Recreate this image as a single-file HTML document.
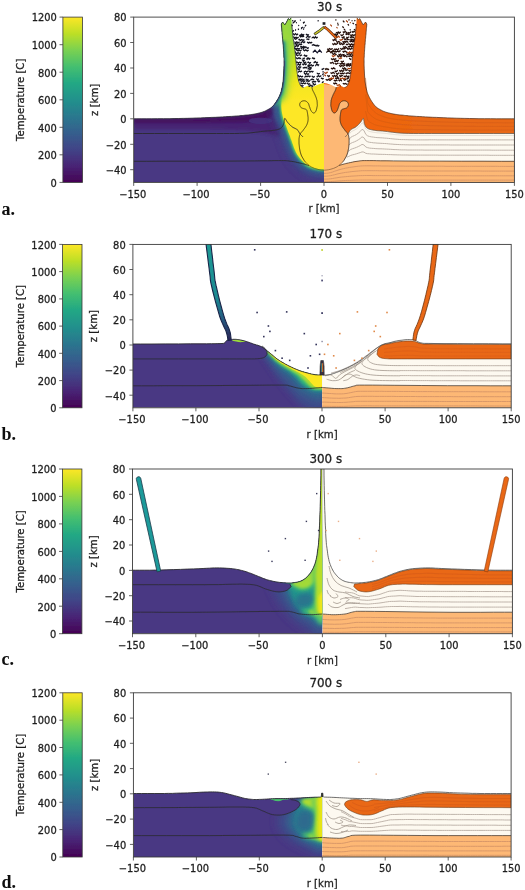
<!DOCTYPE html>
<html lang="en"><head><meta charset="utf-8"><title>Impact simulation: temperature and material, 30 s to 700 s</title>
<style>
html,body{margin:0;padding:0;background:#fff}
svg{display:block}
.tk{font-family:"DejaVu Sans","Liberation Sans",sans-serif;font-size:9.9px;fill:#1c1c1c;stroke:#222;stroke-width:0.28px}
.tt{font-family:"DejaVu Sans","Liberation Sans",sans-serif;font-size:11.9px;fill:#1c1c1c;stroke:#222;stroke-width:0.28px}
.al{font-size:10.15px}
.lb{font-family:"Liberation Serif","DejaVu Serif",serif;font-weight:bold;font-size:18px;fill:#111}
</style></head><body>
<svg width="525" height="890" viewBox="0 0 525 890">
<defs>
<filter id="b05" filterUnits="userSpaceOnUse" x="0" y="0" width="525" height="890"><feGaussianBlur stdDeviation="0.5"/></filter>
<filter id="b1" filterUnits="userSpaceOnUse" x="0" y="0" width="525" height="890"><feGaussianBlur stdDeviation="1"/></filter>
<filter id="b15" filterUnits="userSpaceOnUse" x="0" y="0" width="525" height="890"><feGaussianBlur stdDeviation="1.5"/></filter>
<filter id="b2" filterUnits="userSpaceOnUse" x="0" y="0" width="525" height="890"><feGaussianBlur stdDeviation="2"/></filter>
<filter id="b3" filterUnits="userSpaceOnUse" x="0" y="0" width="525" height="890"><feGaussianBlur stdDeviation="3"/></filter>
<filter id="b4" filterUnits="userSpaceOnUse" x="0" y="0" width="525" height="890"><feGaussianBlur stdDeviation="4"/></filter>
<filter id="b6" filterUnits="userSpaceOnUse" x="0" y="0" width="525" height="890"><feGaussianBlur stdDeviation="6"/></filter>
<filter id="b8" filterUnits="userSpaceOnUse" x="0" y="0" width="525" height="890"><feGaussianBlur stdDeviation="8"/></filter>
<clipPath id="sAL"><path d="M324 182.4 L133.7 182.4 L133.7 118.8 L136.9 118.8 L141.1 118.8 L146.2 118.8 L151.8 118.8 L157.6 118.7 L163.5 118.7 L169.1 118.7 L174.1 118.6 L178.7 118.5 L183.2 118.4 L187.7 118.3 L192 118.2 L196.2 118 L200.3 117.9 L204.3 117.7 L208.1 117.6 L211.8 117.4 L215.5 117.3 L219.1 117.1 L222.5 116.9 L225.7 116.7 L228.8 116.5 L231.6 116.4 L234.1 116.2 L236.3 116 L238.2 115.9 L239.8 115.8 L241.2 115.6 L242.5 115.5 L243.7 115.4 L244.9 115.2 L246.1 115.1 L247.3 115 L248.4 114.9 L249.4 114.8 L250.3 114.7 L251.3 114.5 L252.2 114.4 L253.1 114.3 L254.1 114.1 L255.1 113.9 L256.2 113.7 L257.2 113.5 L258.3 113.2 L259.3 113 L260.3 112.7 L261.2 112.5 L262.1 112.2 L262.9 111.9 L263.7 111.6 L264.4 111.4 L265.1 111.1 L265.7 110.8 L266.4 110.4 L267 110.1 L267.6 109.8 L268.2 109.5 L268.8 109.1 L269.4 108.8 L269.9 108.4 L270.5 108.1 L271 107.7 L271.5 107.3 L272 106.9 L272.5 106.5 L272.9 106 L273.4 105.5 L273.8 105 L274.2 104.5 L274.6 104 L274.9 103.5 L275.3 103 L275.6 102.5 L276 102 L276.3 101.6 L276.6 101.1 L276.9 100.6 L277.2 100.1 L277.4 99.7 L277.7 99.2 L278 98.7 L278.2 98.3 L278.5 97.8 L278.7 97.4 L278.9 96.9 L279.2 96.4 L279.4 96 L279.6 95.5 L279.8 95 L280 94.6 L280.2 94.2 L280.4 93.8 L280.5 93.3 L280.7 92.8 L280.9 92.3 L281.1 91.6 L281.3 90.8 L281.5 90 L281.7 89 L281.9 88.1 L282.2 87 L282.4 86 L282.5 85 L282.7 84 L282.8 83 L283 82 L283.1 81 L283.2 80 L283.3 79 L283.3 78 L283.4 77 L283.5 76 L283.6 75 L283.6 74 L283.7 73 L283.7 72 L283.8 71 L283.8 70 L283.9 69 L283.9 68 L283.9 67 L284 66 L284 65 L284 64.1 L284 63.1 L284 62 L284 60.9 L284 59.7 L284 58.4 L283.9 57.1 L283.8 55.7 L283.8 54.2 L283.7 52.7 L283.6 51.2 L283.5 49.7 L283.4 48.3 L283.3 46.9 L283.2 45.4 L283 44 L282.9 42.5 L282.8 41.1 L282.7 39.6 L282.5 38.3 L282.4 36.9 L282.3 35.5 L282.1 34.1 L282 32.6 L281.9 31.2 L281.8 29.9 L281.7 28.7 L281.6 27.8 L281.5 27 L281.3 24 L282.6 22 L284.9 24.9 L286.6 22 L288.3 18.6 L289.6 19.8 L291.1 18 L291.8 16 L324 16Z"/></clipPath>
<clipPath id="sAR"><path d="M324 182.4 L514.4 182.4 L514.4 118.8 L511.2 118.8 L507 118.8 L501.9 118.8 L496.3 118.8 L490.5 118.7 L484.6 118.7 L479 118.7 L474 118.6 L469.4 118.5 L464.9 118.4 L460.4 118.3 L456.1 118.2 L451.9 118 L447.8 117.9 L443.8 117.7 L440 117.6 L436.3 117.4 L432.6 117.3 L429 117.1 L425.6 116.9 L422.4 116.7 L419.3 116.5 L416.5 116.4 L414 116.2 L411.8 116 L409.9 115.9 L408.3 115.8 L406.9 115.6 L405.6 115.5 L404.4 115.4 L403.2 115.2 L402 115.1 L400.8 115 L399.7 114.9 L398.7 114.8 L397.8 114.7 L396.8 114.5 L395.9 114.4 L395 114.3 L394 114.1 L393 113.9 L391.9 113.7 L390.9 113.5 L389.8 113.2 L388.8 113 L387.8 112.7 L386.9 112.5 L386 112.2 L385.2 111.9 L384.4 111.6 L383.7 111.4 L383 111.1 L382.4 110.8 L381.7 110.4 L381.1 110.1 L380.5 109.8 L379.9 109.5 L379.3 109.1 L378.7 108.8 L378.2 108.4 L377.6 108.1 L377.1 107.7 L376.6 107.3 L376.1 106.9 L375.6 106.5 L375.2 106 L374.7 105.5 L374.3 105 L373.9 104.5 L373.5 104 L373.2 103.5 L372.8 103 L372.5 102.5 L372.1 102 L371.8 101.6 L371.5 101.1 L371.2 100.6 L370.9 100.1 L370.7 99.7 L370.4 99.2 L370.1 98.7 L369.9 98.3 L369.6 97.8 L369.4 97.4 L369.2 96.9 L368.9 96.4 L368.7 96 L368.5 95.5 L368.3 95 L368.1 94.6 L367.9 94.2 L367.7 93.8 L367.6 93.3 L367.4 92.8 L367.2 92.3 L367 91.6 L366.8 90.8 L366.6 90 L366.4 89 L366.2 88.1 L365.9 87 L365.7 86 L365.6 85 L365.4 84 L365.3 83 L365.1 82 L365 81 L364.9 80 L364.8 79 L364.8 78 L364.7 77 L364.6 76 L364.5 75 L364.5 74 L364.4 73 L364.4 72 L364.3 71 L364.3 70 L364.2 69 L364.2 68 L364.2 67 L364.1 66 L364.1 65 L364.1 64.1 L364.1 63.1 L364.1 62 L364.1 60.9 L364.1 59.7 L364.1 58.4 L364.2 57.1 L364.3 55.7 L364.3 54.2 L364.4 52.7 L364.5 51.2 L364.6 49.7 L364.7 48.3 L364.8 46.9 L364.9 45.4 L365.1 44 L365.2 42.5 L365.3 41.1 L365.4 39.6 L365.6 38.3 L365.7 36.9 L365.8 35.5 L366 34.1 L366.1 32.6 L366.2 31.2 L366.3 29.9 L366.4 28.7 L366.5 27.8 L366.6 27 L366.8 24 L365.5 22 L363.2 24.9 L361.5 22 L359.8 18.6 L358.5 19.8 L357 18 L356.3 16 L324 16Z"/></clipPath>
<linearGradient id="orA" gradientUnits="userSpaceOnUse" x1="372" y1="0" x2="430" y2="0"><stop offset="0" stop-color="#f06408"/><stop offset="1" stop-color="#e86816"/></linearGradient>
<linearGradient id="plA" gradientUnits="userSpaceOnUse" x1="0" y1="17" x2="0" y2="100"><stop offset="0" stop-color="#74d055"/><stop offset="0.3" stop-color="#9bd93c"/><stop offset="0.55" stop-color="#cde11d"/><stop offset="0.8" stop-color="#f4e61e"/><stop offset="1" stop-color="#fde725"/></linearGradient>
<clipPath id="sBL"><path d="M322.1 407.8 L132.9 407.8 L132.9 344 L140.7 344 L152 344 L165.1 343.9 L178.5 343.9 L190.7 343.8 L200 343.8 L206.5 343.8 L211.4 343.7 L215 343.7 L217.8 343.6 L220 343.6 L222 343.5 L223.6 343.4 L224.4 343.3 L224.7 343.2 L224.7 343 L224.6 342.8 L224.8 342.6 L225.1 342.3 L225.4 342 L225.7 341.6 L225.9 341.2 L226.2 340.9 L226.5 340.6 L226.8 340.4 L227.2 340.2 L227.5 340 L228 339.9 L228.4 339.8 L229 339.7 L229.7 339.6 L230.5 339.5 L231.4 339.4 L232.3 339.4 L233.2 339.3 L234 339.3 L234.7 339.3 L235.4 339.3 L236.1 339.4 L236.8 339.4 L237.5 339.5 L238.3 339.6 L239.2 339.7 L240.1 339.9 L241.1 340.1 L242 340.3 L243 340.6 L244 340.8 L245 341.1 L246 341.4 L246.9 341.7 L247.9 342 L248.8 342.3 L249.7 342.6 L250.5 342.9 L251.1 343.1 L251.7 343.3 L252.4 343.6 L253.1 343.9 L254 344.2 L255.1 344.5 L256.3 344.9 L257.6 345.2 L258.9 345.7 L260.3 346.2 L261.6 346.8 L262.9 347.6 L264.1 348.4 L265.4 349.4 L266.7 350.4 L267.9 351.5 L269.2 352.5 L270.5 353.5 L271.8 354.6 L273.1 355.7 L274.3 356.8 L275.6 357.8 L276.9 358.8 L278.2 359.7 L279.4 360.5 L280.6 361.3 L281.9 362.1 L283.2 362.8 L284.5 363.6 L285.9 364.4 L287.3 365.1 L288.8 365.9 L290.3 366.6 L291.8 367.3 L293.3 368 L294.8 368.7 L296.3 369.3 L297.8 369.9 L299.3 370.5 L300.9 371.1 L302.5 371.6 L304.2 372.1 L306 372.6 L307.9 373.1 L309.7 373.6 L311.3 374 L312.8 374.3 L314 374.5 L315.1 374.7 L316.1 374.8 L316.9 374.8 L317.7 374.9 L318.5 374.9 L319.3 374.9 L320 374.9 L320.6 374.8 L321.2 374.7 L321.7 374.6 L322.1 374.6Z"/></clipPath>
<linearGradient id="cuB" gradientUnits="userSpaceOnUse" x1="0" y1="244" x2="0" y2="340"><stop offset="0" stop-color="#1d9a94"/><stop offset="0.55" stop-color="#1b8a92"/><stop offset="0.8" stop-color="#27567e"/><stop offset="1" stop-color="#2a2458"/></linearGradient>
<clipPath id="sBR"><path d="M322.1 407.8 L511.2 407.8 L511.2 343.8 L502.1 343.8 L488.8 343.7 L473.4 343.7 L457.8 343.6 L444 343.6 L434 343.5 L428.1 343.4 L424.7 343.4 L423.1 343.3 L422.6 343.2 L422.3 343.1 L421.4 342.9 L420.2 342.7 L419.3 342.4 L418.6 342.1 L418 341.8 L417.5 341.5 L417 341.2 L416.5 341 L416.2 340.7 L416 340.5 L415.7 340.3 L415.2 340.1 L414.6 340 L413.8 339.9 L412.8 339.7 L411.7 339.6 L410.5 339.6 L409.2 339.6 L407.7 339.6 L406 339.7 L404 339.9 L402 340.2 L399.9 340.4 L398 340.7 L396.3 341 L395 341.3 L393.9 341.5 L392.9 341.8 L392 342.1 L391.1 342.4 L390 342.7 L388.8 343 L387.6 343.2 L386.3 343.4 L385.1 343.7 L383.8 344.1 L382.5 344.6 L381.2 345.2 L380 346 L378.7 346.8 L377.4 347.7 L376.2 348.7 L374.9 349.6 L373.6 350.6 L372.3 351.6 L371 352.6 L369.8 353.7 L368.5 354.7 L367.2 355.7 L365.9 356.7 L364.7 357.6 L363.5 358.5 L362.2 359.4 L361 360.3 L359.6 361.2 L358.2 362.1 L356.7 363 L355.1 363.8 L353.6 364.7 L352 365.5 L350.5 366.3 L349 367.1 L347.5 367.8 L346 368.5 L344.5 369.2 L342.9 369.9 L341.4 370.5 L339.8 371.2 L338.2 371.8 L336.6 372.4 L335 373 L333.4 373.6 L332 374 L330.6 374.4 L329.3 374.6 L328.1 374.9 L326.9 375 L325.9 375.1 L325 375.2 L324.2 375.2 L323.6 375.1 L323.1 375 L322.7 374.8 L322.3 374.7 L322.1 374.6Z"/></clipPath>
<clipPath id="sCL"><path d="M322.4 633.7 L132.5 633.7 L132.5 570.2 L135.5 570.2 L139.5 570.2 L144.3 570.2 L149.7 570.2 L155.3 570.1 L160.9 570 L166.9 569.8 L173.6 569.6 L180.5 569.4 L187.4 569.1 L193.6 568.9 L198.9 568.7 L203.1 568.5 L206.5 568.3 L209.4 568.2 L211.9 568 L214.4 567.9 L216.9 567.9 L219.5 567.9 L222.1 568 L224.6 568.1 L226.9 568.3 L229 568.4 L230.9 568.6 L232.5 568.7 L233.8 568.9 L234.8 569 L235.8 569.2 L236.8 569.4 L237.9 569.6 L239.1 569.8 L240.2 570.1 L241.4 570.4 L242.6 570.6 L243.7 571 L244.9 571.3 L246.1 571.7 L247.2 572 L248.3 572.5 L249.5 572.9 L250.7 573.3 L251.9 573.8 L253.2 574.3 L254.5 574.8 L255.8 575.4 L257.2 575.9 L258.6 576.5 L259.9 577 L261.2 577.5 L262.5 578.1 L263.8 578.6 L265.2 579.1 L266.5 579.6 L267.9 580 L269.4 580.4 L270.9 580.8 L272.4 581.1 L273.9 581.5 L275.4 581.7 L276.9 582 L278.3 582.2 L279.6 582.4 L281 582.5 L282.3 582.6 L283.6 582.7 L284.9 582.8 L286.2 582.9 L287.6 582.9 L288.9 583 L290.2 583 L291.6 582.9 L292.9 582.8 L294.3 582.6 L295.6 582.4 L297 582.2 L298.4 581.8 L299.7 581.5 L300.9 581 L302.1 580.5 L303.1 579.9 L304.2 579.2 L305.2 578.5 L306.2 577.7 L307.1 576.8 L308 575.8 L308.9 574.8 L309.8 573.7 L310.7 572.5 L311.5 571.3 L312.2 570 L312.9 568.7 L313.5 567.4 L314.1 566 L314.7 564.5 L315.2 563 L315.7 561.4 L316.1 559.6 L316.5 557.8 L316.9 555.8 L317.2 553.8 L317.4 551.9 L317.7 550 L317.9 548.4 L318.1 547 L318.3 545.7 L318.5 544.2 L318.6 542.3 L318.8 540 L319 537 L319.2 533.6 L319.3 529.8 L319.5 525.9 L319.7 521.9 L319.8 518 L319.9 514.3 L320.1 510.6 L320.2 506.8 L320.3 503 L320.4 499.1 L320.5 495 L320.6 490.4 L320.7 485.3 L320.8 480.1 L320.9 475.1 L320.9 471 L321 468 L322.4 468Z"/></clipPath>
<clipPath id="sDL"><path d="M322.2 857 L133.4 857 L133.4 793.5 L136.6 793.5 L141.7 793.5 L147.8 793.5 L154.2 793.5 L160 793.5 L164.5 793.5 L168.3 793.4 L172.3 793.4 L176.4 793.2 L180.4 793.1 L184.1 793 L187.4 792.9 L190.9 792.8 L195 792.6 L199.3 792.3 L203.5 792.1 L207.3 792 L210.1 791.9 L212.3 791.9 L214.4 791.9 L216.4 792 L218.2 792.1 L219.9 792.3 L221.5 792.5 L223.2 792.8 L225.1 793.2 L227.2 793.7 L229.3 794.3 L231.2 794.8 L232.9 795.2 L234.6 795.7 L236.6 796.2 L238.8 796.8 L240.9 797.4 L242.8 797.9 L244.3 798.3 L245.7 798.6 L247.1 798.8 L248.6 799 L250 799.2 L251.3 799.3 L252.5 799.4 L253.7 799.5 L255.1 799.5 L256.5 799.5 L258 799.5 L259.5 799.4 L260.9 799.4 L262.5 799.3 L264.4 799.2 L266.5 799.1 L268.7 798.9 L270.7 798.8 L272.4 798.7 L274.1 798.7 L276 798.6 L278.1 798.6 L280.2 798.6 L282.1 798.6 L283.8 798.6 L285.5 798.6 L287.4 798.5 L289.5 798.4 L291.6 798.3 L293.5 798.3 L295.2 798.2 L296.9 798.1 L298.8 798 L300.9 797.9 L302.9 797.8 L304.9 797.7 L306.6 797.6 L308.4 797.5 L310.6 797.4 L313 797.3 L315.2 797.2 L317.2 797.2 L318.5 797.1 L319.3 797.1 L319.9 797.1 L320.4 797.1 L320.7 797.1 L320.9 797 L321.1 796.8 L321.3 796.4 L321.4 795.8 L321.4 795.1 L321.5 794.4 L321.5 793.8 L321.6 793.4 L321.7 793.2 L321.8 793.1 L322 793.1 L322.1 793.2 L322.2 793.2 L322.2 793.2Z"/></clipPath>
<clipPath id="cfa"><rect x="133.7" y="17.1" width="380.7" height="165.3"/></clipPath>
<clipPath id="cla"><rect x="133.7" y="17.1" width="190.3" height="165.3"/></clipPath>
<clipPath id="cra"><rect x="324" y="17.1" width="190.4" height="165.3"/></clipPath>
<clipPath id="cfb"><rect x="132.9" y="244.4" width="378.3" height="163.4"/></clipPath>
<clipPath id="clb"><rect x="132.9" y="244.4" width="189.2" height="163.4"/></clipPath>
<clipPath id="crb"><rect x="322.1" y="244.4" width="189.1" height="163.4"/></clipPath>
<clipPath id="cfc"><rect x="132.5" y="469" width="379.9" height="164.7"/></clipPath>
<clipPath id="clc"><rect x="132.5" y="469" width="189.9" height="164.7"/></clipPath>
<clipPath id="crc"><rect x="322.4" y="469" width="189.9" height="164.7"/></clipPath>
<clipPath id="cfd"><rect x="133.4" y="692.8" width="377.7" height="164.2"/></clipPath>
<clipPath id="cld"><rect x="133.4" y="692.8" width="188.8" height="164.2"/></clipPath>
<clipPath id="crd"><rect x="322.2" y="692.8" width="188.9" height="164.2"/></clipPath>
<linearGradient id="vir" x1="0" y1="0" x2="0" y2="1"><stop offset="0" stop-color="#fde725"/><stop offset="0.1" stop-color="#bddf26"/><stop offset="0.2" stop-color="#7ad151"/><stop offset="0.3" stop-color="#44bf70"/><stop offset="0.4" stop-color="#22a884"/><stop offset="0.5" stop-color="#21918c"/><stop offset="0.6" stop-color="#2a788e"/><stop offset="0.7" stop-color="#355f8d"/><stop offset="0.8" stop-color="#414487"/><stop offset="0.9" stop-color="#482475"/><stop offset="1" stop-color="#440154"/></linearGradient>
<filter id="soft" x="0" y="0" width="525" height="890" filterUnits="userSpaceOnUse"><feGaussianBlur stdDeviation="0.4"/></filter>
</defs>
<rect width="525" height="890" fill="#fff"/>
<g filter="url(#soft)">
<g clip-path="url(#cfa)">
<g clip-path="url(#cra)">
<path d="M324 182.4 L514.4 182.4 L514.4 118.8 L511.2 118.8 L507 118.8 L501.9 118.8 L496.3 118.8 L490.5 118.7 L484.6 118.7 L479 118.7 L474 118.6 L469.4 118.5 L464.9 118.4 L460.4 118.3 L456.1 118.2 L451.9 118 L447.8 117.9 L443.8 117.7 L440 117.6 L436.3 117.4 L432.6 117.3 L429 117.1 L425.6 116.9 L422.4 116.7 L419.3 116.5 L416.5 116.4 L414 116.2 L411.8 116 L409.9 115.9 L408.3 115.8 L406.9 115.6 L405.6 115.5 L404.4 115.4 L403.2 115.2 L402 115.1 L400.8 115 L399.7 114.9 L398.7 114.8 L397.8 114.7 L396.8 114.5 L395.9 114.4 L395 114.3 L394 114.1 L393 113.9 L391.9 113.7 L390.9 113.5 L389.8 113.2 L388.8 113 L387.8 112.7 L386.9 112.5 L386 112.2 L385.2 111.9 L384.4 111.6 L383.7 111.4 L383 111.1 L382.4 110.8 L381.7 110.4 L381.1 110.1 L380.5 109.8 L379.9 109.5 L379.3 109.1 L378.7 108.8 L378.2 108.4 L377.6 108.1 L377.1 107.7 L376.6 107.3 L376.1 106.9 L375.6 106.5 L375.2 106 L374.7 105.5 L374.3 105 L373.9 104.5 L373.5 104 L373.2 103.5 L372.8 103 L372.5 102.5 L372.1 102 L371.8 101.6 L371.5 101.1 L371.2 100.6 L370.9 100.1 L370.7 99.7 L370.4 99.2 L370.1 98.7 L369.9 98.3 L369.6 97.8 L369.4 97.4 L369.2 96.9 L368.9 96.4 L368.7 96 L368.5 95.5 L368.3 95 L368.1 94.6 L367.9 94.2 L367.7 93.8 L367.6 93.3 L367.4 92.8 L367.2 92.3 L367 91.6 L366.8 90.8 L366.6 90 L366.4 89 L366.2 88.1 L365.9 87 L365.7 86 L365.6 85 L365.4 84 L365.3 83 L365.1 82 L365 81 L364.9 80 L364.8 79 L364.8 78 L364.7 77 L364.6 76 L364.5 75 L364.5 74 L364.4 73 L364.4 72 L364.3 71 L364.3 70 L364.2 69 L364.2 68 L364.2 67 L364.1 66 L364.1 65 L364.1 64.1 L364.1 63.1 L364.1 62 L364.1 60.9 L364.1 59.7 L364.1 58.4 L364.2 57.1 L364.3 55.7 L364.3 54.2 L364.4 52.7 L364.5 51.2 L364.6 49.7 L364.7 48.3 L364.8 46.9 L364.9 45.4 L365.1 44 L365.2 42.5 L365.3 41.1 L365.4 39.6 L365.6 38.3 L365.7 36.9 L365.8 35.5 L366 34.1 L366.1 32.6 L366.2 31.2 L366.3 29.9 L366.4 28.7 L366.5 27.8 L366.6 27 L366.8 24 L365.5 22 L363.2 24.9 L361.5 22 L359.8 18.6 L358.5 19.8 L357 18 L356.3 16 L324 16Z" fill="url(#orA)"/>
<path d="M365.5 78.1 L367.7 103 L369.8 106.6 L372 109.4 L374.1 111.6 L376.3 113.4 L378.4 114.6 L380.6 115.5 L382.8 116.4 L384.9 117.1 L387.1 117.7 L389.2 118.2 L391.4 118.6 L393.6 119 L395.7 119.3 L397.9 119.6 L400 119.8 L402.2 120 L404.3 120.2 L406.5 120.4 L408.7 120.6 L410.8 120.7 L413 120.8 L415.1 120.9 L417.3 121 L419.4 121.1 L421.6 121.2 L423.8 121.3 L425.9 121.4 L428.1 121.5 L430.2 121.6 L432.4 121.6 L434.6 121.7 L436.7 121.8 L438.9 121.9 L441 121.9 L443.2 122 L445.3 122 L447.5 122.1 L449.7 122.2 L451.8 122.2 L454 122.3 L456.1 122.3 L458.3 122.4 L460.5 122.4 L462.6 122.4 L464.8 122.5 L466.9 122.5 L469.1 122.6 L471.2 122.6 L473.4 122.6 L475.6 122.6 L477.7 122.7 L479.9 122.7 L482 122.7 L484.2 122.7 L486.3 122.7 L488.5 122.7 L490.7 122.7 L492.8 122.7 L495 122.7 L497.1 122.7 L499.3 122.7 L501.5 122.8 L503.6 122.8 L505.8 122.8 L507.9 122.8 L510.1 122.8 L512.2 122.8 L514.4 122.8" fill="none" stroke="#cf5a17" stroke-width="0.7" stroke-opacity="0.75"/>
<path d="M365.5 94.5 L367.7 111.7 L369.8 114.4 L372 116.4 L374.1 118 L376.3 119.3 L378.4 120.1 L380.6 120.8 L382.8 121.4 L384.9 122 L387.1 122.4 L389.2 122.8 L391.4 123.2 L393.6 123.6 L395.7 123.9 L397.9 124.1 L400 124.3 L402.2 124.5 L404.3 124.7 L406.5 124.8 L408.7 125 L410.8 125.1 L413 125.2 L415.1 125.2 L417.3 125.3 L419.4 125.4 L421.6 125.4 L423.8 125.5 L425.9 125.5 L428.1 125.6 L430.2 125.7 L432.4 125.7 L434.6 125.8 L436.7 125.8 L438.9 125.8 L441 125.9 L443.2 125.9 L445.3 126 L447.5 126 L449.7 126 L451.8 126.1 L454 126.1 L456.1 126.2 L458.3 126.2 L460.5 126.2 L462.6 126.2 L464.8 126.3 L466.9 126.3 L469.1 126.3 L471.2 126.3 L473.4 126.3 L475.6 126.4 L477.7 126.4 L479.9 126.4 L482 126.4 L484.2 126.4 L486.3 126.4 L488.5 126.4 L490.7 126.4 L492.8 126.4 L495 126.4 L497.1 126.4 L499.3 126.4 L501.5 126.4 L503.6 126.4 L505.8 126.4 L507.9 126.4 L510.1 126.4 L512.2 126.4 L514.4 126.4" fill="none" stroke="#cf5a17" stroke-width="0.7" stroke-opacity="0.75"/>
<path d="M365.5 111 L367.7 120.4 L369.8 122.2 L372 123.4 L374.1 124.4 L376.3 125.2 L378.4 125.7 L380.6 126.1 L382.8 126.5 L384.9 126.8 L387.1 127.2 L389.2 127.5 L391.4 127.9 L393.6 128.2 L395.7 128.5 L397.9 128.7 L400 128.9 L402.2 129 L404.3 129.2 L406.5 129.3 L408.7 129.4 L410.8 129.4 L413 129.5 L415.1 129.5 L417.3 129.6 L419.4 129.6 L421.6 129.6 L423.8 129.7 L425.9 129.7 L428.1 129.7 L430.2 129.7 L432.4 129.8 L434.6 129.8 L436.7 129.8 L438.9 129.8 L441 129.9 L443.2 129.9 L445.3 129.9 L447.5 129.9 L449.7 129.9 L451.8 130 L454 130 L456.1 130 L458.3 130 L460.5 130 L462.6 130 L464.8 130 L466.9 130.1 L469.1 130.1 L471.2 130.1 L473.4 130.1 L475.6 130.1 L477.7 130.1 L479.9 130.1 L482 130.1 L484.2 130.1 L486.3 130.1 L488.5 130.1 L490.7 130.1 L492.8 130.1 L495 130.1 L497.1 130.1 L499.3 130.1 L501.5 130.1 L503.6 130.1 L505.8 130.1 L507.9 130.1 L510.1 130.1 L512.2 130.1 L514.4 130.1" fill="none" stroke="#cf5a17" stroke-width="0.7" stroke-opacity="0.75"/>
<path d="M345 137 L345.3 136.7 L345.8 136.2 L346.4 135.7 L347 135.1 L347.6 134.5 L348.1 133.9 L348.5 133.3 L348.9 132.6 L349.3 131.8 L349.7 131.1 L350.1 130.4 L350.7 129.8 L351.4 129.3 L352.3 128.8 L353.2 128.3 L354.2 127.9 L355.1 127.4 L356 126.8 L356.8 126.1 L357.7 125.4 L358.5 124.6 L359.2 123.7 L360 122.9 L360.6 122.2 L361.2 121.4 L361.7 120.5 L362.2 119.7 L362.6 119 L363 118.5 L363.3 118.4 L363.6 118.8 L363.7 119.5 L363.8 120.5 L364 121.6 L364.1 122.8 L364.4 123.7 L364.7 124.5 L365.1 125.4 L365.5 126.2 L366 127 L366.7 127.7 L367.4 128.3 L368.3 128.8 L369.3 129.2 L370.4 129.5 L371.6 129.8 L372.9 130.1 L374.3 130.3 L375.8 130.5 L377.3 130.7 L378.9 130.8 L380.7 130.9 L382.7 131.1 L385 131.3 L387.5 131.6 L390.1 132 L392.9 132.3 L396.1 132.7 L399.8 133.1 L404 133.3 L408.6 133.4 L413.3 133.5 L418.5 133.5 L424.5 133.5 L431.6 133.5 L440 133.5 L451 133.5 L464.7 133.5 L479.4 133.5 L493.7 133.5 L505.9 133.5 L514.4 133.5 L514.4 161.3 L514.4 161.3 L501.5 161.3 L483 161.2 L461.3 161.2 L439.3 161.1 L419.3 161.1 L404 161 L393.6 160.9 L386.1 160.8 L380.6 160.8 L376.6 160.7 L373.2 160.6 L369.7 160.6 L366.6 160.6 L364.4 160.6 L363 160.6 L361.8 160.7 L360.6 160.8 L359 161 L357 161.3 L354.9 161.6 L352.8 162 L350.7 162.5 L348.7 162.9 L346.9 163.3 L345.4 163.7 L344.1 164 L342.9 164.3 L341.7 164.7 L340.5 165.1 L339.2 165.6 L337.7 166.2 L336.1 166.9 L334.5 167.6 L332.9 168.4 L331.4 169 L330 169.5 L328.8 169.8 L327.6 170 L326.4 170.1 L325.5 170.1 L324.7 170.2 L324.1 170.2Z" fill="#fdf9f0"/>
<path d="M347 141.6 L348.9 139.6 L350.8 137.3 L352.6 136.3 L354.5 135.5 L356.4 134.5 L358.3 133.1 L360.2 131.5 L362 129.3 L363.9 130.4 L365.8 134.4 L367.7 135.9 L369.6 136.5 L371.5 136.9 L373.3 137.1 L375.2 137.4 L377.1 137.6 L379 137.7 L380.9 137.8 L382.7 137.9 L384.6 138.1 L386.5 138.2 L388.4 138.4 L390.3 138.6 L392.1 138.8 L394 139 L395.9 139.2 L397.8 139.3 L399.7 139.5 L401.5 139.6 L403.4 139.6 L405.3 139.7 L407.2 139.7 L409.1 139.8 L411 139.8 L412.8 139.8 L414.7 139.8 L416.6 139.9 L418.5 139.9 L420.4 139.9 L422.2 139.9 L424.1 139.9 L426 139.9 L427.9 139.9 L429.8 139.8 L431.6 139.8 L433.5 139.8 L435.4 139.8 L437.3 139.9 L439.2 139.9 L441 139.9 L442.9 139.9 L444.8 139.9 L446.7 139.9 L448.6 139.9 L450.4 139.9 L452.3 139.9 L454.2 139.9 L456.1 139.9 L458 139.9 L459.9 139.9 L461.7 139.9 L463.6 139.9 L465.5 139.9 L467.4 139.9 L469.3 139.9 L471.1 139.9 L473 139.9 L474.9 139.9 L476.8 139.9 L478.7 139.9 L480.5 139.9 L482.4 139.9 L484.3 139.9 L486.2 139.9 L488.1 139.9 L489.9 139.9 L491.8 139.9 L493.7 139.9 L495.6 139.9 L497.5 139.9 L499.4 139.9 L501.2 139.9 L503.1 139.9 L505 139.9 L506.9 139.9 L508.8 139.9 L510.6 139.9 L512.5 139.9 L514.4 139.9" fill="none" stroke="#bfb4ab" stroke-width="1"/>
<path d="M347 146.8 L348.9 145.1 L350.8 143.3 L352.6 142.5 L354.5 141.8 L356.4 140.9 L358.3 139.8 L360.2 138.5 L362 136.8 L363.9 137.7 L365.8 140.7 L367.7 141.8 L369.6 142.3 L371.5 142.5 L373.3 142.8 L375.2 142.9 L377.1 143.1 L379 143.2 L380.9 143.3 L382.7 143.4 L384.6 143.5 L386.5 143.6 L388.4 143.8 L390.3 144 L392.1 144.1 L394 144.3 L395.9 144.4 L397.8 144.5 L399.7 144.6 L401.5 144.7 L403.4 144.7 L405.3 144.8 L407.2 144.8 L409.1 144.9 L411 144.9 L412.8 144.9 L414.7 144.9 L416.6 144.9 L418.5 144.9 L420.4 144.9 L422.2 144.9 L424.1 144.9 L426 144.9 L427.9 144.9 L429.8 144.9 L431.6 144.9 L433.5 144.9 L435.4 144.9 L437.3 144.9 L439.2 144.9 L441 144.9 L442.9 144.9 L444.8 144.9 L446.7 144.9 L448.6 144.9 L450.4 145 L452.3 145 L454.2 145 L456.1 145 L458 145 L459.9 145 L461.7 145 L463.6 145 L465.5 145 L467.4 145 L469.3 145 L471.1 145 L473 145 L474.9 145 L476.8 145 L478.7 145 L480.5 145 L482.4 145 L484.3 145 L486.2 145 L488.1 145 L489.9 145 L491.8 145 L493.7 145 L495.6 145 L497.5 145 L499.4 145 L501.2 145 L503.1 145 L505 145 L506.9 145 L508.8 145 L510.6 145 L512.5 145 L514.4 145" fill="none" stroke="#bfb4ab" stroke-width="1"/>
<path d="M347 152 L348.9 150.8 L350.8 149.4 L352.6 148.7 L354.5 148.1 L356.4 147.4 L358.3 146.5 L360.2 145.6 L362 144.4 L363.9 144.9 L365.8 147 L367.7 147.7 L369.6 148.1 L371.5 148.3 L373.3 148.4 L375.2 148.6 L377.1 148.7 L379 148.8 L380.9 148.8 L382.7 148.9 L384.6 149 L386.5 149.1 L388.4 149.2 L390.3 149.3 L392.1 149.4 L394 149.6 L395.9 149.6 L397.8 149.7 L399.7 149.8 L401.5 149.9 L403.4 149.9 L405.3 149.9 L407.2 150 L409.1 150 L411 150 L412.8 150 L414.7 150 L416.6 150 L418.5 150 L420.4 150 L422.2 150 L424.1 150.1 L426 150.1 L427.9 150.1 L429.8 150.1 L431.6 150.1 L433.5 150.1 L435.4 150.1 L437.3 150.1 L439.2 150.1 L441 150.1 L442.9 150.1 L444.8 150.1 L446.7 150.1 L448.6 150.1 L450.4 150.1 L452.3 150.1 L454.2 150.1 L456.1 150.1 L458 150.1 L459.9 150.1 L461.7 150.1 L463.6 150.1 L465.5 150.1 L467.4 150.1 L469.3 150.1 L471.1 150.1 L473 150.1 L474.9 150.1 L476.8 150.1 L478.7 150.1 L480.5 150.1 L482.4 150.1 L484.3 150.1 L486.2 150.1 L488.1 150.1 L489.9 150.1 L491.8 150.2 L493.7 150.2 L495.6 150.2 L497.5 150.2 L499.4 150.2 L501.2 150.2 L503.1 150.2 L505 150.2 L506.9 150.2 L508.8 150.2 L510.6 150.2 L512.5 150.2 L514.4 150.2" fill="none" stroke="#bfb4ab" stroke-width="1"/>
<path d="M347 157.2 L348.9 156.3 L350.8 155.4 L352.6 154.8 L354.5 154.4 L356.4 153.8 L358.3 153.2 L360.2 152.6 L362 151.9 L363.9 152.1 L365.8 153.3 L367.7 153.7 L369.6 153.8 L371.5 154 L373.3 154 L375.2 154.1 L377.1 154.2 L379 154.3 L380.9 154.3 L382.7 154.4 L384.6 154.4 L386.5 154.5 L388.4 154.6 L390.3 154.6 L392.1 154.7 L394 154.8 L395.9 154.8 L397.8 154.9 L399.7 154.9 L401.5 155 L403.4 155 L405.3 155 L407.2 155 L409.1 155.1 L411 155.1 L412.8 155.1 L414.7 155.1 L416.6 155.1 L418.5 155.1 L420.4 155.1 L422.2 155.1 L424.1 155.1 L426 155.1 L427.9 155.1 L429.8 155.1 L431.6 155.1 L433.5 155.1 L435.4 155.1 L437.3 155.1 L439.2 155.2 L441 155.2 L442.9 155.2 L444.8 155.2 L446.7 155.2 L448.6 155.2 L450.4 155.2 L452.3 155.2 L454.2 155.2 L456.1 155.2 L458 155.2 L459.9 155.2 L461.7 155.2 L463.6 155.2 L465.5 155.2 L467.4 155.2 L469.3 155.2 L471.1 155.2 L473 155.2 L474.9 155.2 L476.8 155.2 L478.7 155.2 L480.5 155.2 L482.4 155.2 L484.3 155.2 L486.2 155.2 L488.1 155.2 L489.9 155.3 L491.8 155.3 L493.7 155.3 L495.6 155.3 L497.5 155.3 L499.4 155.3 L501.2 155.3 L503.1 155.3 L505 155.3 L506.9 155.3 L508.8 155.3 L510.6 155.3 L512.5 155.3 L514.4 155.3" fill="none" stroke="#bfb4ab" stroke-width="1"/>
<path d="M347 137.1 L348.9 134.7 L350.8 132 L352.6 131 L354.5 130.1 L356.4 128.9 L358.3 127.3 L360.2 125.4 L362 122.8 L363.9 124.2 L365.8 129 L367.7 130.7 L369.6 131.5 L371.5 131.9 L373.3 132.3 L375.2 132.5 L377.1 132.8 L379 132.9 L380.9 133 L382.7 133.2 L384.6 133.3 L386.5 133.5 L388.4 133.8 L390.3 134 L392.1 134.2 L394 134.5 L395.9 134.7 L397.8 134.8 L399.7 135 L401.5 135.1 L403.4 135.2 L405.3 135.3 L407.2 135.3 L409.1 135.4 L411 135.4 L412.8 135.4 L414.7 135.4 L416.6 135.4 L418.5 135.5 L420.4 135.4 L422.2 135.4 L424.1 135.4 L426 135.4 L427.9 135.4 L429.8 135.4 L431.6 135.4 L433.5 135.4 L435.4 135.4 L437.3 135.4 L439.2 135.4 L441 135.4 L442.9 135.4 L444.8 135.4 L446.7 135.4 L448.6 135.4 L450.4 135.4 L452.3 135.4 L454.2 135.4 L456.1 135.4 L458 135.4 L459.9 135.4 L461.7 135.5 L463.6 135.5 L465.5 135.5 L467.4 135.5 L469.3 135.5 L471.1 135.5 L473 135.5 L474.9 135.5 L476.8 135.5 L478.7 135.5 L480.5 135.5 L482.4 135.5 L484.3 135.5 L486.2 135.5 L488.1 135.5 L489.9 135.5 L491.8 135.4 L493.7 135.4 L495.6 135.4 L497.5 135.4 L499.4 135.4 L501.2 135.4 L503.1 135.4 L505 135.4 L506.9 135.4 L508.8 135.4 L510.6 135.4 L512.5 135.4 L514.4 135.4" fill="none" stroke="#bfb4ab" stroke-width="0.6" stroke-opacity="0.6"/>
<path d="M324 84 L336.5 86 L336.4 86.3 L336.3 86.7 L336.2 87.2 L336.1 87.8 L336 88.3 L335.8 88.9 L335.7 89.5 L335.5 90 L335.3 90.5 L335.1 91 L334.8 91.5 L334.6 91.9 L334.3 92.4 L334 92.9 L333.8 93.5 L333.5 94 L333.2 94.6 L333 95.2 L332.7 95.8 L332.4 96.5 L332.1 97.2 L331.9 97.8 L331.7 98.4 L331.5 99 L331.4 99.6 L331.2 100.1 L331.1 100.6 L331.1 101.1 L331 101.6 L331 102.1 L330.9 102.5 L330.9 103 L330.9 103.4 L330.8 103.8 L330.8 104.2 L330.8 104.5 L330.8 104.9 L330.8 105.3 L330.8 105.7 L330.9 106.2 L331 106.8 L331.2 107.5 L331.3 108.2 L331.5 109 L331.7 109.7 L331.9 110.4 L332.2 111 L332.4 111.5 L332.6 111.9 L332.9 112.2 L333.2 112.5 L333.5 112.7 L333.8 112.9 L334.1 113 L334.4 113 L334.7 113 L335 112.9 L335.3 112.7 L335.6 112.5 L335.9 112.2 L336.2 111.9 L336.5 111.5 L336.8 111.2 L337 110.8 L337.2 110.4 L337.4 110 L337.6 109.5 L337.8 109 L338 108.5 L338.1 108 L338.3 107.5 L338.5 107 L338.7 106.5 L338.8 106 L339 105.5 L339.2 105 L339.3 104.4 L339.5 104 L339.7 103.5 L340 103.1 L340.3 102.7 L340.6 102.4 L341 102 L341.4 101.7 L341.7 101.4 L342.2 101.2 L342.6 101 L343 100.9 L343.5 100.8 L344 100.8 L344.5 100.8 L345 100.9 L345.6 101 L346.1 101.2 L346.5 101.4 L346.9 101.6 L347.2 101.9 L347.5 102.2 L347.8 102.6 L348 103 L348.2 103.4 L348.3 103.9 L348.4 104.3 L348.4 104.7 L348.4 105.1 L348.3 105.5 L348.1 105.9 L347.9 106.3 L347.7 106.7 L347.5 107.1 L347.2 107.4 L346.9 107.7 L346.6 107.9 L346.2 108.1 L345.8 108.2 L345.4 108.4 L345 108.5 L344.6 108.6 L344.2 108.7 L343.8 108.8 L343.5 108.9 L343.1 109 L342.8 109.1 L342.5 109.2 L342.2 109.4 L342 109.5 L341.7 109.7 L341.5 110 L341.3 110.3 L341.1 110.7 L341 111.1 L340.9 111.6 L340.8 112.1 L340.7 112.6 L340.6 113.2 L340.5 113.8 L340.4 114.5 L340.3 115.2 L340.2 116 L340.1 116.8 L340 117.6 L340 118.4 L340 119.2 L340 119.9 L340.1 120.6 L340.2 121.3 L340.3 122 L340.5 122.6 L340.7 123.3 L341 123.9 L341.2 124.6 L341.5 125.2 L341.8 125.8 L342.2 126.4 L342.5 127 L342.9 127.5 L343.3 128.1 L343.8 128.7 L344.2 129.2 L344.6 129.8 L345 130.4 L345.5 130.9 L346 131.5 L346.5 132.1 L347 132.6 L347.4 133.2 L347.8 133.8 L348.1 134.4 L348.4 135 L348.6 135.6 L348.7 136.2 L348.8 136.9 L348.9 137.5 L349 138.2 L349.1 138.9 L349.1 139.7 L349.1 140.5 L349.1 141.4 L349.1 142.4 L349.1 143.3 L349 144.3 L348.9 145.3 L348.8 146.3 L348.7 147.3 L348.6 148.3 L348.4 149.2 L348.2 150.2 L348 151.2 L347.8 152.2 L347.5 153.1 L347.2 154.1 L346.9 155 L346.5 155.9 L346 156.9 L345.4 157.9 L344.8 158.9 L344.3 159.8 L343.8 160.6 L343.3 161.3 L343 161.8 L340.5 164.6 L344.1 164 L345.4 163.7 L346.9 163.3 L348.7 162.9 L350.7 162.5 L352.8 162 L354.9 161.6 L357 161.3 L359 161 L360.6 160.8 L361.8 160.7 L363 160.6 L364.4 160.6 L366.6 160.6 L369.7 160.6 L373.2 160.6 L376.6 160.7 L380.6 160.8 L386.1 160.8 L393.6 160.9 L404 161 L419.3 161.1 L439.3 161.1 L461.3 161.2 L483 161.2 L501.5 161.3 L514.4 161.3 L514.4 182.4 L324 182.4Z" fill="#fdb875"/>
<path d="M324 173.3 L326.2 173.3 L328.3 173.1 L330.5 172.6 L332.6 172 L334.7 171.2 L336.9 170.5 L339 169.8 L341.2 169.2 L343.3 168.7 L345.4 168.2 L347.6 167.8 L349.7 167.4 L351.9 167.1 L354 166.8 L356.1 166.5 L358.3 166.2 L360.4 166 L362.5 165.9 L364.7 165.8 L366.8 165.8 L369 165.8 L371.1 165.8 L373.2 165.9 L375.4 165.9 L377.5 165.9 L379.7 165.9 L381.8 166 L383.9 166 L386.1 166 L388.2 166 L390.4 166.1 L392.5 166.1 L394.6 166.1 L396.8 166.1 L398.9 166.1 L401 166.1 L403.2 166.1 L405.3 166.2 L407.5 166.2 L409.6 166.2 L411.7 166.2 L413.9 166.2 L416 166.2 L418.2 166.2 L420.3 166.2 L422.4 166.2 L424.6 166.2 L426.7 166.2 L428.8 166.2 L431 166.2 L433.1 166.2 L435.3 166.2 L437.4 166.2 L439.5 166.2 L441.7 166.2 L443.8 166.2 L446 166.3 L448.1 166.3 L450.2 166.3 L452.4 166.3 L454.5 166.3 L456.7 166.3 L458.8 166.3 L460.9 166.3 L463.1 166.3 L465.2 166.3 L467.3 166.3 L469.5 166.3 L471.6 166.3 L473.8 166.3 L475.9 166.3 L478 166.3 L480.2 166.3 L482.3 166.3 L484.5 166.3 L486.6 166.3 L488.7 166.3 L490.9 166.3 L493 166.3 L495.2 166.3 L497.3 166.3 L499.4 166.4 L501.6 166.4 L503.7 166.4 L505.8 166.4 L508 166.4 L510.1 166.4 L512.3 166.4 L514.4 166.4" fill="none" stroke="#d99869" stroke-width="1"/>
<path d="M324 176.2 L326.2 176.2 L328.3 176 L330.5 175.7 L332.6 175.2 L334.7 174.7 L336.9 174.1 L339 173.6 L341.2 173.2 L343.3 172.8 L345.4 172.4 L347.6 172.2 L349.7 171.9 L351.9 171.6 L354 171.4 L356.1 171.2 L358.3 171 L360.4 170.8 L362.5 170.7 L364.7 170.7 L366.8 170.7 L369 170.7 L371.1 170.7 L373.2 170.7 L375.4 170.7 L377.5 170.7 L379.7 170.8 L381.8 170.8 L383.9 170.8 L386.1 170.8 L388.2 170.8 L390.4 170.9 L392.5 170.9 L394.6 170.9 L396.8 170.9 L398.9 170.9 L401 170.9 L403.2 170.9 L405.3 170.9 L407.5 170.9 L409.6 170.9 L411.7 170.9 L413.9 170.9 L416 170.9 L418.2 171 L420.3 171 L422.4 171 L424.6 171 L426.7 171 L428.8 171 L431 171 L433.1 171 L435.3 171 L437.4 171 L439.5 171 L441.7 171 L443.8 171 L446 171 L448.1 171 L450.2 171 L452.4 171 L454.5 171 L456.7 171 L458.8 171 L460.9 171 L463.1 171 L465.2 171 L467.3 171 L469.5 171 L471.6 171 L473.8 171 L475.9 171 L478 171 L480.2 171 L482.3 171.1 L484.5 171.1 L486.6 171.1 L488.7 171.1 L490.9 171.1 L493 171.1 L495.2 171.1 L497.3 171.1 L499.4 171.1 L501.6 171.1 L503.7 171.1 L505.8 171.1 L508 171.1 L510.1 171.1 L512.3 171.1 L514.4 171.1" fill="none" stroke="#d99869" stroke-width="1"/>
<path d="M324 179.1 L326.2 179.1 L328.3 179 L330.5 178.8 L332.6 178.5 L334.7 178.1 L336.9 177.8 L339 177.4 L341.2 177.1 L343.3 176.9 L345.4 176.7 L347.6 176.5 L349.7 176.3 L351.9 176.1 L354 176 L356.1 175.9 L358.3 175.7 L360.4 175.6 L362.5 175.6 L364.7 175.5 L366.8 175.5 L369 175.5 L371.1 175.5 L373.2 175.6 L375.4 175.6 L377.5 175.6 L379.7 175.6 L381.8 175.6 L383.9 175.6 L386.1 175.6 L388.2 175.6 L390.4 175.7 L392.5 175.7 L394.6 175.7 L396.8 175.7 L398.9 175.7 L401 175.7 L403.2 175.7 L405.3 175.7 L407.5 175.7 L409.6 175.7 L411.7 175.7 L413.9 175.7 L416 175.7 L418.2 175.7 L420.3 175.7 L422.4 175.7 L424.6 175.7 L426.7 175.7 L428.8 175.7 L431 175.7 L433.1 175.7 L435.3 175.7 L437.4 175.7 L439.5 175.7 L441.7 175.7 L443.8 175.7 L446 175.7 L448.1 175.7 L450.2 175.7 L452.4 175.8 L454.5 175.8 L456.7 175.8 L458.8 175.8 L460.9 175.8 L463.1 175.8 L465.2 175.8 L467.3 175.8 L469.5 175.8 L471.6 175.8 L473.8 175.8 L475.9 175.8 L478 175.8 L480.2 175.8 L482.3 175.8 L484.5 175.8 L486.6 175.8 L488.7 175.8 L490.9 175.8 L493 175.8 L495.2 175.8 L497.3 175.8 L499.4 175.8 L501.6 175.8 L503.7 175.8 L505.8 175.8 L508 175.8 L510.1 175.8 L512.3 175.8 L514.4 175.8" fill="none" stroke="#d99869" stroke-width="1"/>
<path d="M324 181.8 L326.2 181.7 L328.3 181.7 L330.5 181.6 L332.6 181.4 L334.7 181.3 L336.9 181.1 L339 180.9 L341.2 180.8 L343.3 180.6 L345.4 180.5 L347.6 180.4 L349.7 180.4 L351.9 180.3 L354 180.2 L356.1 180.1 L358.3 180.1 L360.4 180 L362.5 180 L364.7 180 L366.8 180 L369 180 L371.1 180 L373.2 180 L375.4 180 L377.5 180 L379.7 180 L381.8 180 L383.9 180 L386.1 180 L388.2 180 L390.4 180 L392.5 180 L394.6 180 L396.8 180 L398.9 180 L401 180 L403.2 180 L405.3 180 L407.5 180.1 L409.6 180.1 L411.7 180.1 L413.9 180.1 L416 180.1 L418.2 180.1 L420.3 180.1 L422.4 180.1 L424.6 180.1 L426.7 180.1 L428.8 180.1 L431 180.1 L433.1 180.1 L435.3 180.1 L437.4 180.1 L439.5 180.1 L441.7 180.1 L443.8 180.1 L446 180.1 L448.1 180.1 L450.2 180.1 L452.4 180.1 L454.5 180.1 L456.7 180.1 L458.8 180.1 L460.9 180.1 L463.1 180.1 L465.2 180.1 L467.3 180.1 L469.5 180.1 L471.6 180.1 L473.8 180.1 L475.9 180.1 L478 180.1 L480.2 180.1 L482.3 180.1 L484.5 180.1 L486.6 180.1 L488.7 180.1 L490.9 180.1 L493 180.1 L495.2 180.1 L497.3 180.1 L499.4 180.1 L501.6 180.1 L503.7 180.1 L505.8 180.1 L508 180.1 L510.1 180.1 L512.3 180.1 L514.4 180.1" fill="none" stroke="#d99869" stroke-width="1"/>
<path d="M345 137 L345.3 136.7 L345.8 136.2 L346.4 135.7 L347 135.1 L347.6 134.5 L348.1 133.9 L348.5 133.3 L348.9 132.6 L349.3 131.8 L349.7 131.1 L350.1 130.4 L350.7 129.8 L351.4 129.3 L352.3 128.8 L353.2 128.3 L354.2 127.9 L355.1 127.4 L356 126.8 L356.8 126.1 L357.7 125.4 L358.5 124.6 L359.2 123.7 L360 122.9 L360.6 122.2 L361.2 121.4 L361.7 120.5 L362.2 119.7 L362.6 119 L363 118.5 L363.3 118.4 L363.6 118.8 L363.7 119.5 L363.8 120.5 L364 121.6 L364.1 122.8 L364.4 123.7 L364.7 124.5 L365.1 125.4 L365.5 126.2 L366 127 L366.7 127.7 L367.4 128.3 L368.3 128.8 L369.3 129.2 L370.4 129.5 L371.6 129.8 L372.9 130.1 L374.3 130.3 L375.8 130.5 L377.3 130.7 L378.9 130.8 L380.7 130.9 L382.7 131.1 L385 131.3 L387.5 131.6 L390.1 132 L392.9 132.3 L396.1 132.7 L399.8 133.1 L404 133.3 L408.6 133.4 L413.3 133.5 L418.5 133.5 L424.5 133.5 L431.6 133.5 L440 133.5 L451 133.5 L464.7 133.5 L479.4 133.5 L493.7 133.5 L505.9 133.5 L514.4 133.5" fill="none" stroke="#5a5048" stroke-width="0.7"/>
<path d="M339.2 165.6 L340.5 165.1 L341.7 164.7 L342.9 164.3 L344.1 164 L345.4 163.7 L346.9 163.3 L348.7 162.9 L350.7 162.5 L352.8 162 L354.9 161.6 L357 161.3 L359 161 L360.6 160.8 L361.8 160.7 L363 160.6 L364.4 160.6 L366.6 160.6 L369.7 160.6 L373.2 160.6 L376.6 160.7 L380.6 160.8 L386.1 160.8 L393.6 160.9 L404 161 L419.3 161.1 L439.3 161.1 L461.3 161.2 L483 161.2 L501.5 161.3 L514.4 161.3" fill="none" stroke="#4a4038" stroke-width="0.8"/>
<path d="M336.5 86 L336.4 86.3 L336.3 86.7 L336.2 87.2 L336.1 87.8 L336 88.3 L335.8 88.9 L335.7 89.5 L335.5 90 L335.3 90.5 L335.1 91 L334.8 91.5 L334.6 91.9 L334.3 92.4 L334 92.9 L333.8 93.5 L333.5 94 L333.2 94.6 L333 95.2 L332.7 95.8 L332.4 96.5 L332.1 97.2 L331.9 97.8 L331.7 98.4 L331.5 99 L331.4 99.6 L331.2 100.1 L331.1 100.6 L331.1 101.1 L331 101.6 L331 102.1 L330.9 102.5 L330.9 103 L330.9 103.4 L330.8 103.8 L330.8 104.2 L330.8 104.5 L330.8 104.9 L330.8 105.3 L330.8 105.7 L330.9 106.2 L331 106.8 L331.2 107.5 L331.3 108.2 L331.5 109 L331.7 109.7 L331.9 110.4 L332.2 111 L332.4 111.5 L332.6 111.9 L332.9 112.2 L333.2 112.5 L333.5 112.7 L333.8 112.9 L334.1 113 L334.4 113 L334.7 113 L335 112.9 L335.3 112.7 L335.6 112.5 L335.9 112.2 L336.2 111.9 L336.5 111.5 L336.8 111.2 L337 110.8 L337.2 110.4 L337.4 110 L337.6 109.5 L337.8 109 L338 108.5 L338.1 108 L338.3 107.5 L338.5 107 L338.7 106.5 L338.8 106 L339 105.5 L339.2 105 L339.3 104.4 L339.5 104 L339.7 103.5 L340 103.1 L340.3 102.7 L340.6 102.4 L341 102 L341.4 101.7 L341.7 101.4 L342.2 101.2 L342.6 101 L343 100.9 L343.5 100.8 L344 100.8 L344.5 100.8 L345 100.9 L345.6 101 L346.1 101.2 L346.5 101.4 L346.9 101.6 L347.2 101.9 L347.5 102.2 L347.8 102.6 L348 103 L348.2 103.4 L348.3 103.9 L348.4 104.3 L348.4 104.7 L348.4 105.1 L348.3 105.5 L348.1 105.9 L347.9 106.3 L347.7 106.7 L347.5 107.1 L347.2 107.4 L346.9 107.7 L346.6 107.9 L346.2 108.1 L345.8 108.2 L345.4 108.4 L345 108.5 L344.6 108.6 L344.2 108.7 L343.8 108.8 L343.5 108.9 L343.1 109 L342.8 109.1 L342.5 109.2 L342.2 109.4 L342 109.5 L341.7 109.7 L341.5 110 L341.3 110.3 L341.1 110.7 L341 111.1 L340.9 111.6 L340.8 112.1 L340.7 112.6 L340.6 113.2 L340.5 113.8 L340.4 114.5 L340.3 115.2 L340.2 116 L340.1 116.8 L340 117.6 L340 118.4 L340 119.2 L340 119.9 L340.1 120.6 L340.2 121.3 L340.3 122 L340.5 122.6 L340.7 123.3 L341 123.9 L341.2 124.6 L341.5 125.2 L341.8 125.8 L342.2 126.4 L342.5 127 L342.9 127.5 L343.3 128.1 L343.8 128.7 L344.2 129.2 L344.6 129.8 L345 130.4 L345.5 130.9 L346 131.5 L346.5 132.1 L347 132.6 L347.4 133.2 L347.8 133.8 L348.1 134.4 L348.4 135 L348.6 135.6 L348.7 136.2 L348.8 136.9 L348.9 137.5 L349 138.2 L349.1 138.9 L349.1 139.7 L349.1 140.5 L349.1 141.4 L349.1 142.4 L349.1 143.3 L349 144.3 L348.9 145.3 L348.8 146.3 L348.7 147.3 L348.6 148.3 L348.4 149.2 L348.2 150.2 L348 151.2 L347.8 152.2 L347.5 153.1 L347.2 154.1 L346.9 155 L346.5 155.9 L346 156.9 L345.4 157.9 L344.8 158.9 L344.3 159.8 L343.8 160.6 L343.3 161.3 L343 161.8" fill="none" stroke="#3a2a20" stroke-width="0.85"/>
<path d="M343 161.8 C342 162.6 339.1 165.5 337 166.8 C334.9 168.1 332.3 168.8 330.1 169.4 C327.9 170 325.1 170.1 324.1 170.2" fill="none" stroke="#6a4a30" stroke-width="0.6"/>
</g>
<g clip-path="url(#cla)"><g clip-path="url(#sAL)">
<rect x="133.7" y="17.1" width="191.3" height="165.3" fill="#483783"/>
<path d="M133.7 118.8 L136.9 118.8 L141.1 118.8 L146.2 118.8 L151.8 118.8 L157.6 118.7 L163.5 118.7 L169.1 118.7 L174.1 118.6 L178.7 118.5 L183.2 118.4 L187.7 118.3 L192 118.2 L196.2 118 L200.3 117.9 L204.3 117.7 L208.1 117.6 L211.8 117.4 L215.5 117.3 L219.1 117.1 L222.5 116.9 L225.7 116.7 L228.8 116.5 L231.6 116.4 L234.1 116.2 L236.3 116 L238.2 115.9 L239.8 115.8 L241.2 115.6 L242.5 115.5 L243.7 115.4 L244.9 115.2 L246.1 115.1 L247.3 115 L248.4 114.9 L249.4 114.8 L250.3 114.7 L251.3 114.5 L252.2 114.4 L253.1 114.3 L254.1 114.1 L255.1 113.9 L256.2 113.7 L257.2 113.5 L258.3 113.2 L259.3 113 L260.3 112.7 L261.2 112.5 L262.1 112.2 L262.9 111.9 L263.7 111.6 L264.4 111.4 L265.1 111.1 L265.7 110.8 L266.4 110.4 L267 110.1 L267.6 109.8 L268.2 109.5 L268.8 109.1 L269.4 108.8 L269.9 108.4 L270.5 108.1 L271 107.7 L271.5 107.3 L272 106.9 L272.5 106.5 L272.9 106 L273.4 105.5 L273.8 105 L274.2 104.5 L274.6 104 L274.9 103.5 L275.3 103 L275.6 102.5 L276 102 L276.3 101.6 L276.6 101.1 L276.9 100.6 L277.2 100.1 L277.4 99.7 L277.7 99.2 L279 100 L279.1 100.7 L279.3 101.7 L279.6 102.8 L279.8 104 L280.1 105.4 L280.4 106.8 L280.7 108.4 L281 110 L281.4 111.8 L281.9 113.7 L282.4 115.8 L282.9 118 L283.4 120.2 L283.8 122.3 L284 124.2 L284 126 L283.8 127.6 L283.4 129.2 L282.9 130.7 L282.2 132.1 L281.5 133.4 L280.7 134.5 L279.9 135.4 L279 136 L278.1 136.3 L277.2 136.4 L276.2 136.2 L275.1 135.8 L274 135.3 L272.8 134.8 L271.4 134.4 L270 134 L268.5 133.7 L266.9 133.4 L265.3 133.1 L263.5 132.7 L261.6 132.4 L259.6 132.1 L257.4 131.8 L255 131.5 L252.5 131.3 L249.8 131 L247 130.8 L244.1 130.6 L240.9 130.4 L237.5 130.3 L233.9 130.1 L230 130 L225.8 129.9 L221.4 129.8 L216.8 129.7 L212 129.7 L206.9 129.6 L201.5 129.6 L195.9 129.5 L190 129.5 L183.4 129.5 L175.8 129.5 L167.6 129.5 L159.3 129.5 L151.4 129.5 L144.2 129.5 L138.2 129.5 L133.7 129.5Z" fill="#451466" filter="url(#b15)" opacity="0.55"/>
<path d="M133.7 118.8 L136.9 118.8 L141.1 118.8 L146.2 118.8 L151.8 118.8 L157.6 118.7 L163.5 118.7 L169.1 118.7 L174.1 118.6 L178.7 118.5 L183.2 118.4 L187.7 118.3 L192 118.2 L196.2 118 L200.3 117.9 L204.3 117.7 L208.1 117.6 L211.8 117.4 L215.5 117.3 L219.1 117.1 L222.5 116.9 L225.7 116.7 L228.8 116.5 L231.6 116.4 L234.1 116.2 L236.3 116 L238.2 115.9 L239.8 115.8 L241.2 115.6 L242.5 115.5 L243.7 115.4 L244.9 115.2 L246.1 115.1 L247.3 115 L248.4 114.9 L249.4 114.8 L250.3 114.7 L251.3 114.5 L252.2 114.4 L253.1 114.3 L254.1 114.1 L255.1 113.9 L256.2 113.7 L257.2 113.5 L258.3 113.2 L259.3 113 L260.3 112.7 L261.2 112.5 L262.1 112.2 L262.9 111.9 L263.7 111.6 L264.4 111.4 L265.1 111.1 L265.7 110.8 L266.4 110.4 L267 110.1 L267.6 109.8 L268.2 109.5 L268.8 109.1 L269.4 108.8 L269.9 108.4 L270.5 108.1 L271 107.7 L271.5 107.3 L272 106.9 L272.5 106.5 L272.9 106 L273.4 105.5 L273.8 105 L274.2 104.5 L274.6 104 L274.9 103.5 L275.3 103 L275.6 102.5 L276 102 L276.3 101.6 L276.6 101.1 L276.9 100.6 L277.2 100.1 L277.4 99.7 L277.7 99.2 L278 101 L277.9 101.7 L277.8 102.6 L277.7 103.8 L277.5 105 L277.3 106.3 L277 107.6 L276.6 108.9 L276 110 L275.3 111.1 L274.5 112.2 L273.7 113.3 L272.7 114.3 L271.6 115.4 L270.5 116.3 L269.3 117.2 L268 118 L266.7 118.7 L265.4 119.2 L264 119.8 L262.6 120.2 L261 120.6 L259.2 120.9 L257.2 121.2 L255 121.5 L252.6 121.7 L249.9 121.9 L247.2 122.1 L244.2 122.2 L241 122.3 L237.6 122.3 L233.9 122.4 L230 122.5 L225.8 122.6 L221.4 122.7 L216.8 122.7 L212 122.8 L206.9 122.9 L201.5 122.9 L195.9 123 L190 123 L183.4 123 L175.8 123 L167.6 123 L159.3 123 L151.4 123 L144.2 123 L138.2 123 L133.7 123Z" fill="#44095c" filter="url(#b1)" opacity="0.8"/>
<ellipse cx="260.5" cy="120.8" rx="12" ry="3.1" fill="#45337f" filter="url(#b05)" opacity="0.85"/>
<path d="M274.5 100 C275.6 97.3 278.5 92.8 280 92 C281.5 91.2 283 92.7 283.5 95 C284 97.3 282.7 102.3 282.8 106 C282.9 109.7 283.5 113.5 284.3 117 C285.1 120.5 288.1 125.4 287.5 127 C286.9 128.6 283 128 281 126.5 C279 125 276.8 121.1 275.5 118 C274.2 114.9 273.7 111 273.5 108 C273.3 105 273.4 102.7 274.5 100Z" fill="#3b528b" filter="url(#b15)"/>
<path d="M278.3 98 C279.1 95.8 282 91.7 282.8 93 C283.6 94.3 283 102 283.3 106 C283.6 110 284 113.5 284.8 117 C285.6 120.5 288.1 125.6 288 127 C287.9 128.4 285.3 127.3 284 125.5 C282.7 123.7 280.9 119.2 280 116 C279.1 112.8 278.6 109 278.3 106 C278 103 277.6 100.2 278.3 98Z" fill="#2a788e" filter="url(#b1)"/>
<path d="M325 10 L278 10 L283.5 25 L284.5 45 L285.6 60 L285.2 72 L283.8 83 L282.1 94 L282 95 L281.9 96.2 L281.8 97.7 L281.6 99.4 L281.5 101.2 L281.4 103 L281.3 104.7 L281.3 106.2 L281.4 107.6 L281.5 109 L281.6 110.3 L281.8 111.6 L282 113 L282.3 114.3 L282.6 115.6 L282.9 116.9 L283.3 118.2 L283.7 119.5 L284.1 120.8 L284.6 122.1 L285.1 123.4 L285.6 124.7 L286.2 126.1 L286.7 127.5 L287.2 128.9 L287.8 130.4 L288.3 132 L288.9 133.5 L289.5 135.1 L290.1 136.6 L290.6 138.2 L291.2 139.7 L291.8 141.3 L292.3 142.9 L292.9 144.5 L293.4 146.1 L294 147.7 L294.6 149.2 L295.2 150.6 L295.8 151.9 L296.4 153.1 L297 154.2 L297.7 155.2 L298.3 156.1 L299 157 L299.6 157.8 L300.4 158.7 L301.1 159.5 L301.9 160.4 L302.7 161.2 L303.5 162 L304.3 162.8 L305.2 163.6 L306.1 164.3 L307 165 L308 165.6 L309 166.1 L310.2 166.6 L311.3 167.1 L312.5 167.5 L313.7 167.8 L314.9 168.2 L316.1 168.4 L317.1 168.7 L318.1 168.9 L319.2 169.1 L320.2 169.2 L321.1 169.2 L322 169.3 L322.9 169.3 L323.5 169.4 L324.1 169.4 L325 169.4Z" fill="#3c4f8a" stroke="#3c4f8a" stroke-width="16" filter="url(#b4)" opacity="0.9"/>
<path d="M325 10 L278 10 L283.5 25 L284.5 45 L285.6 60 L285.2 72 L283.8 83 L282.1 94 L282 95 L281.9 96.2 L281.8 97.7 L281.6 99.4 L281.5 101.2 L281.4 103 L281.3 104.7 L281.3 106.2 L281.4 107.6 L281.5 109 L281.6 110.3 L281.8 111.6 L282 113 L282.3 114.3 L282.6 115.6 L282.9 116.9 L283.3 118.2 L283.7 119.5 L284.1 120.8 L284.6 122.1 L285.1 123.4 L285.6 124.7 L286.2 126.1 L286.7 127.5 L287.2 128.9 L287.8 130.4 L288.3 132 L288.9 133.5 L289.5 135.1 L290.1 136.6 L290.6 138.2 L291.2 139.7 L291.8 141.3 L292.3 142.9 L292.9 144.5 L293.4 146.1 L294 147.7 L294.6 149.2 L295.2 150.6 L295.8 151.9 L296.4 153.1 L297 154.2 L297.7 155.2 L298.3 156.1 L299 157 L299.6 157.8 L300.4 158.7 L301.1 159.5 L301.9 160.4 L302.7 161.2 L303.5 162 L304.3 162.8 L305.2 163.6 L306.1 164.3 L307 165 L308 165.6 L309 166.1 L310.2 166.6 L311.3 167.1 L312.5 167.5 L313.7 167.8 L314.9 168.2 L316.1 168.4 L317.1 168.7 L318.1 168.9 L319.2 169.1 L320.2 169.2 L321.1 169.2 L322 169.3 L322.9 169.3 L323.5 169.4 L324.1 169.4 L325 169.4Z" fill="#2f6a8e" stroke="#2f6a8e" stroke-width="8" filter="url(#b3)" opacity="0.9"/>
<path d="M325 10 L278 10 L283.5 25 L284.5 45 L285.6 60 L285.2 72 L283.8 83 L282.1 94 L282 95 L281.9 96.2 L281.8 97.7 L281.6 99.4 L281.5 101.2 L281.4 103 L281.3 104.7 L281.3 106.2 L281.4 107.6 L281.5 109 L281.6 110.3 L281.8 111.6 L282 113 L282.3 114.3 L282.6 115.6 L282.9 116.9 L283.3 118.2 L283.7 119.5 L284.1 120.8 L284.6 122.1 L285.1 123.4 L285.6 124.7 L286.2 126.1 L286.7 127.5 L287.2 128.9 L287.8 130.4 L288.3 132 L288.9 133.5 L289.5 135.1 L290.1 136.6 L290.6 138.2 L291.2 139.7 L291.8 141.3 L292.3 142.9 L292.9 144.5 L293.4 146.1 L294 147.7 L294.6 149.2 L295.2 150.6 L295.8 151.9 L296.4 153.1 L297 154.2 L297.7 155.2 L298.3 156.1 L299 157 L299.6 157.8 L300.4 158.7 L301.1 159.5 L301.9 160.4 L302.7 161.2 L303.5 162 L304.3 162.8 L305.2 163.6 L306.1 164.3 L307 165 L308 165.6 L309 166.1 L310.2 166.6 L311.3 167.1 L312.5 167.5 L313.7 167.8 L314.9 168.2 L316.1 168.4 L317.1 168.7 L318.1 168.9 L319.2 169.1 L320.2 169.2 L321.1 169.2 L322 169.3 L322.9 169.3 L323.5 169.4 L324.1 169.4 L325 169.4Z" fill="#25ab82" stroke="#25ab82" stroke-width="3.2" filter="url(#b15)"/>
<path d="M325 10 L278 10 L283.5 25 L284.5 45 L285.6 60 L285.2 72 L283.8 83 L282.1 94 L282 95 L281.9 96.2 L281.8 97.7 L281.6 99.4 L281.5 101.2 L281.4 103 L281.3 104.7 L281.3 106.2 L281.4 107.6 L281.5 109 L281.6 110.3 L281.8 111.6 L282 113 L282.3 114.3 L282.6 115.6 L282.9 116.9 L283.3 118.2 L283.7 119.5 L284.1 120.8 L284.6 122.1 L285.1 123.4 L285.6 124.7 L286.2 126.1 L286.7 127.5 L287.2 128.9 L287.8 130.4 L288.3 132 L288.9 133.5 L289.5 135.1 L290.1 136.6 L290.6 138.2 L291.2 139.7 L291.8 141.3 L292.3 142.9 L292.9 144.5 L293.4 146.1 L294 147.7 L294.6 149.2 L295.2 150.6 L295.8 151.9 L296.4 153.1 L297 154.2 L297.7 155.2 L298.3 156.1 L299 157 L299.6 157.8 L300.4 158.7 L301.1 159.5 L301.9 160.4 L302.7 161.2 L303.5 162 L304.3 162.8 L305.2 163.6 L306.1 164.3 L307 165 L308 165.6 L309 166.1 L310.2 166.6 L311.3 167.1 L312.5 167.5 L313.7 167.8 L314.9 168.2 L316.1 168.4 L317.1 168.7 L318.1 168.9 L319.2 169.1 L320.2 169.2 L321.1 169.2 L322 169.3 L322.9 169.3 L323.5 169.4 L324.1 169.4 L325 169.4Z" fill="#8bd646" stroke="#8bd646" stroke-width="1.4" filter="url(#b1)"/>
<path d="M325 10 L278 10 L283.5 25 L284.5 45 L285.6 60 L285.2 72 L283.8 83 L282.1 94 L282 95 L281.9 96.2 L281.8 97.7 L281.6 99.4 L281.5 101.2 L281.4 103 L281.3 104.7 L281.3 106.2 L281.4 107.6 L281.5 109 L281.6 110.3 L281.8 111.6 L282 113 L282.3 114.3 L282.6 115.6 L282.9 116.9 L283.3 118.2 L283.7 119.5 L284.1 120.8 L284.6 122.1 L285.1 123.4 L285.6 124.7 L286.2 126.1 L286.7 127.5 L287.2 128.9 L287.8 130.4 L288.3 132 L288.9 133.5 L289.5 135.1 L290.1 136.6 L290.6 138.2 L291.2 139.7 L291.8 141.3 L292.3 142.9 L292.9 144.5 L293.4 146.1 L294 147.7 L294.6 149.2 L295.2 150.6 L295.8 151.9 L296.4 153.1 L297 154.2 L297.7 155.2 L298.3 156.1 L299 157 L299.6 157.8 L300.4 158.7 L301.1 159.5 L301.9 160.4 L302.7 161.2 L303.5 162 L304.3 162.8 L305.2 163.6 L306.1 164.3 L307 165 L308 165.6 L309 166.1 L310.2 166.6 L311.3 167.1 L312.5 167.5 L313.7 167.8 L314.9 168.2 L316.1 168.4 L317.1 168.7 L318.1 168.9 L319.2 169.1 L320.2 169.2 L321.1 169.2 L322 169.3 L322.9 169.3 L323.5 169.4 L324.1 169.4 L325 169.4Z" fill="url(#plA)" filter="url(#b05)"/>
<path d="M278 98.7 L278.2 98.3 L278.5 97.8 L278.7 97.4 L278.9 96.9 L279.2 96.4 L279.4 96 L279.6 95.5 L279.8 95 L280 94.6 L280.2 94.2 L280.4 93.8 L280.5 93.3 L280.7 92.8 L280.9 92.3 L281.1 91.6 L281.3 90.8 L281.5 90 L281.7 89 L281.9 88.1 L282.2 87 L282.4 86 L282.5 85 L282.7 84 L282.8 83 L283 82 L283.1 81 L283.2 80 L283.3 79 L283.3 78 L283.4 77 L283.5 76 L283.6 75 L283.6 74 L283.7 73 L283.7 72 L283.8 71 L283.8 70 L283.9 69 L283.9 68 L283.9 67 L284 66 L284 65 L284 64.1 L284 63.1 L284 62 L284 60.9 L284 59.7 L284 58.4 L283.9 57.1 L283.8 55.7 L283.8 54.2 L283.7 52.7 L283.6 51.2 L283.5 49.7 L283.4 48.3 L283.3 46.9 L283.2 45.4 L283 44 L282.9 42.5 L282.8 41.1 L282.7 39.6 L282.5 38.3 L282.4 36.9 L282.3 35.5 L282.1 34.1 L282 32.6 L281.9 31.2 L281.8 29.9 L281.7 28.7 L281.6 27.8 L281.5 27 L281.3 24 L282.6 22 L284.9 24.9 L286.6 22 L288.3 18.6 L289.6 19.8 L291.1 18" fill="none" stroke="#a0da39" stroke-width="15" filter="url(#b3)" stroke-opacity="0.75"/>
<path d="M274.6 104 L274.9 103.5 L275.3 103 L275.6 102.5 L276 102 L276.3 101.6 L276.6 101.1 L276.9 100.6 L277.2 100.1 L277.4 99.7 L277.7 99.2 L278 98.7 L278.2 98.3 L278.5 97.8 L278.7 97.4 L278.9 96.9 L279.2 96.4 L279.4 96 L279.6 95.5 L279.8 95 L280 94.6 L280.2 94.2 L280.4 93.8 L280.5 93.3 L280.7 92.8 L280.9 92.3 L281.1 91.6 L281.3 90.8 L281.5 90 L281.7 89 L281.9 88.1 L282.2 87 L282.4 86 L282.5 85 L282.7 84 L282.8 83 L283 82 L283.1 81 L283.2 80 L283.3 79 L283.3 78 L283.4 77 L283.5 76 L283.6 75 L283.6 74 L283.7 73 L283.7 72 L283.8 71 L283.8 70 L283.9 69 L283.9 68 L283.9 67 L284 66 L284 65 L284 64.1 L284 63.1 L284 62 L284 60.9 L284 59.7 L284 58.4 L283.9 57.1 L283.8 55.7 L283.8 54.2 L283.7 52.7 L283.6 51.2 L283.5 49.7 L283.4 48.3 L283.3 46.9 L283.2 45.4 L283 44 L282.9 42.5 L282.8 41.1" fill="none" stroke="#4ac16d" stroke-width="8" filter="url(#b2)" stroke-opacity="0.85"/>
<path d="M274.6 104 L274.9 103.5 L275.3 103 L275.6 102.5 L276 102 L276.3 101.6 L276.6 101.1 L276.9 100.6 L277.2 100.1 L277.4 99.7 L277.7 99.2 L278 98.7 L278.2 98.3 L278.5 97.8 L278.7 97.4 L278.9 96.9 L279.2 96.4 L279.4 96 L279.6 95.5 L279.8 95 L280 94.6 L280.2 94.2 L280.4 93.8 L280.5 93.3 L280.7 92.8 L280.9 92.3 L281.1 91.6 L281.3 90.8 L281.5 90 L281.7 89 L281.9 88.1 L282.2 87 L282.4 86 L282.5 85 L282.7 84 L282.8 83 L283 82 L283.1 81 L283.2 80 L283.3 79 L283.3 78 L283.4 77 L283.5 76 L283.6 75 L283.6 74 L283.7 73 L283.7 72 L283.8 71 L283.8 70 L283.9 69 L283.9 68 L283.9 67 L284 66 L284 65 L284 64.1 L284 63.1 L284 62 L284 60.9 L284 59.7 L284 58.4 L283.9 57.1 L283.8 55.7 L283.8 54.2 L283.7 52.7 L283.6 51.2 L283.5 49.7 L283.4 48.3 L283.3 46.9 L283.2 45.4 L283 44 L282.9 42.5 L282.8 41.1" fill="none" stroke="#26828e" stroke-width="3.6" filter="url(#b1)"/>
<path d="M271 107.7 L271.5 107.3 L272 106.9 L272.5 106.5 L272.9 106 L273.4 105.5 L273.8 105 L274.2 104.5 L274.6 104 L274.9 103.5 L275.3 103 L275.6 102.5 L276 102 L276.3 101.6 L276.6 101.1 L276.9 100.6 L277.2 100.1 L277.4 99.7 L277.7 99.2 L278 98.7 L278.2 98.3 L278.5 97.8 L278.7 97.4 L278.9 96.9 L279.2 96.4 L279.4 96 L279.6 95.5 L279.8 95 L280 94.6 L280.2 94.2 L280.4 93.8 L280.5 93.3 L280.7 92.8 L280.9 92.3 L281.1 91.6 L281.3 90.8 L281.5 90 L281.7 89 L281.9 88.1 L282.2 87 L282.4 86 L282.5 85 L282.7 84 L282.8 83 L283 82 L283.1 81 L283.2 80 L283.3 79 L283.3 78 L283.4 77 L283.5 76 L283.6 75 L283.6 74 L283.7 73 L283.7 72 L283.8 71 L283.8 70 L283.9 69 L283.9 68 L283.9 67 L284 66 L284 65 L284 64.1 L284 63.1 L284 62 L284 60.9" fill="none" stroke="#3b528b" stroke-width="2.2" filter="url(#b05)"/>
</g>
<path d="M303.1 137 L302.8 136.7 L302.3 136.2 L301.7 135.7 L301.1 135.1 L300.5 134.5 L300 133.9 L299.6 133.3 L299.2 132.6 L298.8 131.8 L298.4 131.1 L298 130.4 L297.4 129.8 L296.7 129.3 L295.8 128.8 L294.9 128.3 L293.9 127.9 L293 127.4 L292.1 126.8 L291.3 126.1 L290.4 125.4 L289.6 124.6 L288.9 123.7 L288.1 122.9 L287.5 122.2 L286.9 121.4 L286.4 120.5 L285.9 119.7 L285.5 119 L285.1 118.5 L284.8 118.4 L284.5 118.8 L284.4 119.5 L284.3 120.5 L284.1 121.6 L284 122.8 L283.7 123.7 L283.4 124.5 L283 125.4 L282.6 126.2 L282.1 127 L281.4 127.7 L280.7 128.3 L279.8 128.8 L278.8 129.2 L277.7 129.5 L276.5 129.8 L275.2 130.1 L273.8 130.3 L272.3 130.5 L270.8 130.7 L269.2 130.8 L267.4 130.9 L265.4 131.1 L263.1 131.3 L260.6 131.6 L258 132 L255.2 132.3 L252 132.7 L248.3 133.1 L244.1 133.3 L239.5 133.4 L234.8 133.5 L229.6 133.5 L223.6 133.5 L216.5 133.5 L208.1 133.5 L197.1 133.5 L183.4 133.5 L168.6 133.5 L154.4 133.5 L142.2 133.5 L133.7 133.5" fill="none" stroke="#2b2b30" stroke-width="0.9"/>
<path d="M308.9 165.6 L307.6 165.1 L306.4 164.7 L305.2 164.3 L304 164 L302.7 163.7 L301.2 163.3 L299.4 162.9 L297.4 162.5 L295.3 162 L293.2 161.6 L291.1 161.3 L289.1 161 L287.5 160.8 L286.3 160.7 L285.1 160.6 L283.7 160.6 L281.5 160.6 L278.4 160.6 L274.9 160.6 L271.5 160.7 L267.5 160.8 L262 160.8 L254.5 160.9 L244.1 161 L228.8 161.1 L208.8 161.1 L186.8 161.2 L165.1 161.2 L146.6 161.3 L133.7 161.3" fill="none" stroke="#2b2b30" stroke-width="0.9"/>
<path d="M311.6 86 L311.7 86.3 L311.8 86.7 L311.9 87.2 L312 87.8 L312.1 88.3 L312.3 88.9 L312.4 89.5 L312.6 90 L312.8 90.5 L313 91 L313.3 91.5 L313.5 91.9 L313.8 92.4 L314.1 92.9 L314.3 93.5 L314.6 94 L314.9 94.6 L315.1 95.2 L315.4 95.8 L315.7 96.5 L316 97.2 L316.2 97.8 L316.4 98.4 L316.6 99 L316.7 99.6 L316.9 100.1 L317 100.6 L317 101.1 L317.1 101.6 L317.1 102.1 L317.2 102.5 L317.2 103 L317.2 103.4 L317.3 103.8 L317.3 104.2 L317.3 104.5 L317.3 104.9 L317.3 105.3 L317.3 105.7 L317.2 106.2 L317.1 106.8 L316.9 107.5 L316.8 108.2 L316.6 109 L316.4 109.7 L316.2 110.4 L315.9 111 L315.7 111.5 L315.5 111.9 L315.2 112.2 L314.9 112.5 L314.6 112.7 L314.3 112.9 L314 113 L313.7 113 L313.4 113 L313.1 112.9 L312.8 112.7 L312.5 112.5 L312.2 112.2 L311.9 111.9 L311.6 111.5 L311.3 111.2 L311.1 110.8 L310.9 110.4 L310.7 110 L310.5 109.5 L310.3 109 L310.1 108.5 L310 108 L309.8 107.5 L309.6 107 L309.4 106.5 L309.3 106 L309.1 105.5 L308.9 105 L308.8 104.4 L308.6 104 L308.4 103.5 L308.1 103.1 L307.8 102.7 L307.5 102.4 L307.1 102 L306.7 101.7 L306.4 101.4 L305.9 101.2 L305.5 101 L305.1 100.9 L304.6 100.8 L304.1 100.8 L303.6 100.8 L303.1 100.9 L302.5 101 L302 101.2 L301.6 101.4 L301.2 101.6 L300.9 101.9 L300.6 102.2 L300.3 102.6 L300.1 103 L299.9 103.4 L299.8 103.9 L299.7 104.3 L299.7 104.7 L299.7 105.1 L299.8 105.5 L300 105.9 L300.2 106.3 L300.4 106.7 L300.6 107.1 L300.9 107.4 L301.2 107.7 L301.5 107.9 L301.9 108.1 L302.3 108.2 L302.7 108.4 L303.1 108.5 L303.5 108.6 L303.9 108.7 L304.3 108.8 L304.6 108.9 L305 109 L305.3 109.1 L305.6 109.2 L305.9 109.4 L306.1 109.5 L306.4 109.7 L306.6 110 L306.8 110.3 L307 110.7 L307.1 111.1 L307.2 111.6 L307.3 112.1 L307.4 112.6 L307.5 113.2 L307.6 113.8 L307.7 114.5 L307.8 115.2 L307.9 116 L308 116.8 L308.1 117.6 L308.1 118.4 L308.1 119.2 L308.1 119.9 L308 120.6 L307.9 121.3 L307.8 122 L307.6 122.6 L307.4 123.3 L307.1 123.9 L306.9 124.6 L306.6 125.2 L306.3 125.8 L305.9 126.4 L305.6 127 L305.2 127.5 L304.8 128.1 L304.3 128.7 L303.9 129.2 L303.5 129.8 L303.1 130.4 L302.6 130.9 L302.1 131.5 L301.6 132.1 L301.1 132.6 L300.7 133.2 L300.3 133.8 L300 134.4 L299.7 135 L299.5 135.6 L299.4 136.2 L299.3 136.9 L299.2 137.5 L299.1 138.2 L299 138.9 L299 139.7 L299 140.5 L299 141.4 L299 142.4 L299 143.3 L299.1 144.3 L299.2 145.3 L299.3 146.3 L299.4 147.3 L299.5 148.3 L299.7 149.2 L299.9 150.2 L300.1 151.2 L300.3 152.2 L300.6 153.1 L300.9 154.1 L301.2 155 L301.6 155.9 L302.1 156.9 L302.7 157.9 L303.3 158.9 L303.8 159.8 L304.3 160.6 L304.8 161.3 L305.1 161.8" fill="none" stroke="#3a3010" stroke-width="0.85"/>
<path d="M305.1 161.8 C306.1 162.6 308.9 165.5 311.1 166.8 C313.2 168.1 315.8 168.8 318 169.4 C320.2 170 323 170.1 324 170.2" fill="none" stroke="#5a4a10" stroke-width="0.6"/>
</g>
<path d="M514.4 118.8 L511.2 118.8 L507 118.8 L501.9 118.8 L496.3 118.8 L490.5 118.7 L484.6 118.7 L479 118.7 L474 118.6 L469.4 118.5 L464.9 118.4 L460.4 118.3 L456.1 118.2 L451.9 118 L447.8 117.9 L443.8 117.7 L440 117.6 L436.3 117.4 L432.6 117.3 L429 117.1 L425.6 116.9 L422.4 116.7 L419.3 116.5 L416.5 116.4 L414 116.2 L411.8 116 L409.9 115.9 L408.3 115.8 L406.9 115.6 L405.6 115.5 L404.4 115.4 L403.2 115.2 L402 115.1 L400.8 115 L399.7 114.9 L398.7 114.8 L397.8 114.7 L396.8 114.5 L395.9 114.4 L395 114.3 L394 114.1 L393 113.9 L391.9 113.7 L390.9 113.5 L389.8 113.2 L388.8 113 L387.8 112.7 L386.9 112.5 L386 112.2 L385.2 111.9 L384.4 111.6 L383.7 111.4 L383 111.1 L382.4 110.8 L381.7 110.4 L381.1 110.1 L380.5 109.8 L379.9 109.5 L379.3 109.1 L378.7 108.8 L378.2 108.4 L377.6 108.1 L377.1 107.7 L376.6 107.3 L376.1 106.9 L375.6 106.5 L375.2 106 L374.7 105.5 L374.3 105 L373.9 104.5 L373.5 104 L373.2 103.5 L372.8 103 L372.5 102.5 L372.1 102 L371.8 101.6 L371.5 101.1 L371.2 100.6 L370.9 100.1 L370.7 99.7 L370.4 99.2 L370.1 98.7 L369.9 98.3 L369.6 97.8 L369.4 97.4 L369.2 96.9 L368.9 96.4 L368.7 96 L368.5 95.5 L368.3 95 L368.1 94.6 L367.9 94.2 L367.7 93.8 L367.6 93.3 L367.4 92.8 L367.2 92.3 L367 91.6 L366.8 90.8 L366.6 90 L366.4 89 L366.2 88.1 L365.9 87 L365.7 86 L365.6 85 L365.4 84 L365.3 83 L365.1 82 L365 81 L364.9 80 L364.8 79 L364.8 78 L364.7 77 L364.6 76 L364.5 75 L364.5 74 L364.4 73 L364.4 72 L364.3 71 L364.3 70 L364.2 69 L364.2 68 L364.2 67 L364.1 66 L364.1 65 L364.1 64.1 L364.1 63.1 L364.1 62 L364.1 60.9 L364.1 59.7 L364.1 58.4 L364.2 57.1 L364.3 55.7 L364.3 54.2 L364.4 52.7 L364.5 51.2 L364.6 49.7 L364.7 48.3 L364.8 46.9 L364.9 45.4 L365.1 44 L365.2 42.5 L365.3 41.1 L365.4 39.6 L365.6 38.3 L365.7 36.9 L365.8 35.5 L366 34.1 L366.1 32.6 L366.2 31.2 L366.3 29.9 L366.4 28.7 L366.5 27.8 L366.6 27 L366.8 24 L365.5 22 L363.2 24.9 L361.5 22 L359.8 18.6 L358.5 19.8 L357 18" fill="none" stroke="#4a2a18" stroke-width="0.7"/>
<path d="M133.7 118.8 L136.9 118.8 L141.1 118.8 L146.2 118.8 L151.8 118.8 L157.6 118.7 L163.5 118.7 L169.1 118.7 L174.1 118.6 L178.7 118.5 L183.2 118.4 L187.7 118.3 L192 118.2 L196.2 118 L200.3 117.9 L204.3 117.7 L208.1 117.6 L211.8 117.4 L215.5 117.3 L219.1 117.1 L222.5 116.9 L225.7 116.7 L228.8 116.5 L231.6 116.4 L234.1 116.2 L236.3 116 L238.2 115.9 L239.8 115.8 L241.2 115.6 L242.5 115.5 L243.7 115.4 L244.9 115.2 L246.1 115.1 L247.3 115 L248.4 114.9 L249.4 114.8 L250.3 114.7 L251.3 114.5 L252.2 114.4 L253.1 114.3 L254.1 114.1 L255.1 113.9 L256.2 113.7 L257.2 113.5 L258.3 113.2 L259.3 113 L260.3 112.7 L261.2 112.5 L262.1 112.2 L262.9 111.9 L263.7 111.6 L264.4 111.4 L265.1 111.1 L265.7 110.8 L266.4 110.4 L267 110.1 L267.6 109.8 L268.2 109.5 L268.8 109.1 L269.4 108.8 L269.9 108.4 L270.5 108.1 L271 107.7 L271.5 107.3 L272 106.9 L272.5 106.5 L272.9 106 L273.4 105.5 L273.8 105 L274.2 104.5 L274.6 104 L274.9 103.5 L275.3 103 L275.6 102.5 L276 102 L276.3 101.6 L276.6 101.1 L276.9 100.6 L277.2 100.1 L277.4 99.7 L277.7 99.2 L278 98.7 L278.2 98.3 L278.5 97.8 L278.7 97.4 L278.9 96.9 L279.2 96.4 L279.4 96 L279.6 95.5 L279.8 95 L280 94.6 L280.2 94.2 L280.4 93.8 L280.5 93.3 L280.7 92.8 L280.9 92.3 L281.1 91.6 L281.3 90.8 L281.5 90 L281.7 89 L281.9 88.1 L282.2 87 L282.4 86 L282.5 85 L282.7 84 L282.8 83 L283 82 L283.1 81 L283.2 80 L283.3 79 L283.3 78 L283.4 77 L283.5 76 L283.6 75 L283.6 74 L283.7 73 L283.7 72 L283.8 71 L283.8 70 L283.9 69 L283.9 68 L283.9 67 L284 66 L284 65 L284 64.1 L284 63.1 L284 62 L284 60.9 L284 59.7 L284 58.4 L283.9 57.1 L283.8 55.7 L283.8 54.2 L283.7 52.7 L283.6 51.2 L283.5 49.7 L283.4 48.3 L283.3 46.9 L283.2 45.4 L283 44 L282.9 42.5 L282.8 41.1 L282.7 39.6 L282.5 38.3 L282.4 36.9 L282.3 35.5 L282.1 34.1 L282 32.6 L281.9 31.2 L281.8 29.9 L281.7 28.7 L281.6 27.8 L281.5 27 L281.3 24 L282.6 22 L284.9 24.9 L286.6 22 L288.3 18.6 L289.6 19.8 L291.1 18" fill="none" stroke="#2b2b30" stroke-width="0.8"/>
<path d="M324 15 L357 15 L356.3 24 L356.2 25 L356.1 26.4 L356 28 L355.8 29.7 L355.6 31.6 L355.5 33.5 L355.3 35.3 L355.1 36.9 L354.9 38.4 L354.7 39.9 L354.5 41.3 L354.2 42.7 L354 44.1 L353.8 45.5 L353.6 46.9 L353.4 48.3 L353.2 49.7 L353.1 51.1 L352.9 52.6 L352.8 54 L352.7 55.4 L352.6 56.9 L352.4 58.3 L352.3 59.7 L352.2 61.1 L352 62.6 L351.9 64.1 L351.7 65.6 L351.6 67 L351.4 68.5 L351.3 69.8 L351.1 71.1 L350.9 72.3 L350.8 73.5 L350.6 74.6 L350.5 75.6 L350.3 76.6 L350.1 77.6 L349.9 78.6 L349.7 79.5 L349.4 80.4 L349.2 81.4 L348.9 82.3 L348.5 83.2 L348.2 84 L347.9 84.8 L347.5 85.4 L347.2 86 L346.8 86.4 L346.4 86.8 L346 87 L345.6 87.2 L345.2 87.3 L344.8 87.4 L344.5 87.5 L344.3 87.6 L340.5 85.8 L336 87.2 L331 85 L327 83.6 L324 82.9 L324 82.9 L321.1 83.6 L317.1 85 L312.1 87.2 L307.6 85.8 L303.8 87.6 L303.6 87.5 L303.3 87.4 L302.9 87.3 L302.5 87.2 L302.1 87 L301.7 86.8 L301.3 86.4 L300.9 86 L300.6 85.4 L300.2 84.8 L299.9 84 L299.6 83.2 L299.2 82.3 L298.9 81.4 L298.7 80.4 L298.4 79.5 L298.2 78.6 L298 77.6 L297.8 76.6 L297.6 75.6 L297.5 74.6 L297.3 73.5 L297.2 72.3 L297 71.1 L296.8 69.8 L296.7 68.5 L296.5 67 L296.4 65.6 L296.2 64.1 L296.1 62.6 L295.9 61.1 L295.8 59.7 L295.7 58.3 L295.5 56.9 L295.4 55.4 L295.3 54 L295.2 52.6 L295 51.1 L294.9 49.7 L294.7 48.3 L294.5 46.9 L294.3 45.5 L294.1 44.1 L293.9 42.7 L293.6 41.3 L293.4 39.9 L293.2 38.4 L293 36.9 L292.8 35.3 L292.6 33.5 L292.5 31.6 L292.3 29.7 L292.1 28 L292 26.4 L291.9 25 L291.8 24 L291.1 15 L324 15Z" fill="#ffffff"/>
<path d="M293.3 20.6 L292.1 20.8 M295.7 20.5 L294.7 21.5 L294.4 20.5 M300.8 20.2 L299.9 20.2 M318.8 20.6 L317.5 21 M294.4 21.6 L293.3 22.7 L293.3 22 M296.9 22.5 L295.9 22.8 M304.7 21.7 L303.6 22.8 L303.3 22 M292.7 25.2 L291.7 26 M299.2 25.4 L298.2 25.7 M306.2 24.9 L305.2 25.9 L304.9 25.6 M302.8 26.9 L301.6 28.1 L301.6 27.3 M304.6 27.5 L303.6 27.9 M293.8 30.3 L292.9 31.3 L292.5 30.8 M296.1 30 L295 30 M298.9 28.9 L297.9 29.6 M304.1 29 L302.9 29.2 M298.1 33.7 L296.8 34.9 L295.5 33.6 L294.3 34.9 L293.3 33.9 L292.9 34.1 M304.2 34.3 L303.1 35.2 L301.7 34.1 L300.7 35.4 L299.6 34.8 M308.8 34.3 L307.9 35.5 L306.7 34.3 L305.9 34.9 M298.6 37.1 L297.6 38 L296.1 37.2 L294.7 37.8 L293.7 37.1 L293.3 37.3 M304.1 36 L302.9 36.8 L301.9 35.9 L300.7 36.8 L299.6 35.9 L299.5 36.1 M310.5 36.4 L309 37.3 L307.7 36.3 L306.3 37.4 L305.8 37.3 M317.7 37.1 L316.4 37.9 L315.4 36.8 L314.3 38.1 L313.3 37 L312 37.8 L311.7 37.6 M296.9 38.4 L295.6 39.2 L294.4 38.4 L294 38.5 M304.5 39.6 L303 40.4 L301.6 39.5 L300.5 40.4 L299.3 39.4 L298.5 40.1 M309.4 38.8 L308.3 39.6 L307.1 39 L306.5 39.5 M299.6 41.7 L298.2 43 L296.8 41.8 L295.6 43 L294.7 42 L294.4 42 M305.2 41.5 L303.9 42.6 L302.6 41.6 L301.4 42.6 L300.6 42.3 M312.2 42.1 L310.8 43 L309.7 42.3 L308.7 43.1 L307.7 42.3 L307.1 42.7 M297.8 43.6 L296.5 44.4 L295.1 43.6 L295 44.1 M302.1 43.9 L300.8 44.7 L299.9 43.9 L298.9 44.7 L298.8 44.2 M314.3 44.2 L312.8 45.1 L311.8 45 M298.8 45.3 L297.9 46.3 L296.6 45.4 L295.5 46.4 L294.9 46.1 M306.1 46.5 L305.1 47.6 L303.7 46.4 L302.6 47.3 L301.3 46.4 L300.1 47 M319.3 45.2 L318.1 46.2 L317.1 45.1 L316.2 45.9 L314.9 45.1 L313.7 45.5 M299.8 48.2 L298.7 49 L297.3 48.2 L296 49.3 L294.9 48.1 L294.6 48.9 M304.5 47.5 L303.5 48.4 L302.4 47.3 L301.3 48.5 L300.9 47.6 M308.8 47.6 L307.7 48.5 L306.6 47.5 L306.3 47.8 M301.5 50 L300.3 50.9 L299.2 50 L298 51 L296.7 49.8 L295.9 50.1 M308.6 49.9 L307.3 51 L305.8 49.9 L304.5 50.8 L303.2 49.8 L303 50.1 M300.7 52.5 L299.4 53.7 L298.1 52.6 L296.8 53.8 L295.7 52.5 L295.6 53.4 M298.8 54.8 L297.4 55.7 L296.5 54.8 L296.4 55.6 M302 54.8 L300.6 55.7 L299.6 54.8 L299.4 54.9 M307.2 55.2 L306.1 56.3 L304.6 55.2 L303.8 56 M301 57.9 L300 58.7 L299 57.6 L297.8 58.8 L296.3 57.9 L295.8 58 M304.8 57.8 L303.8 58.8 L302.6 58.1 M310.3 58 L309.2 59.2 L308 57.9 L307.1 59.2 L306.3 58.6 M314.9 58 L314 58.8 L312.8 57.8 L312.1 58.6 M304.8 59.9 L303.6 60.8 L302.5 59.9 L301.8 60.2 M301.7 62.2 L300.7 62.9 L299.6 62.2 L298.1 63 L296.9 62 L296.3 62.8 M306.2 61.8 L304.8 63 L303.5 61.7 L302.7 61.9 M310.9 62.2 L309.7 63.3 L308.3 62.1 L307.4 62.8 M317.9 61.9 L316.6 62.9 L315.4 61.6 L314 62.6 L313.6 62.3 M300.8 64 L299.8 65.3 L298.6 64.1 L297.4 65.1 L297.2 65.1 M306.9 63.8 L305.5 64.6 L304.3 63.6 L303.2 64.7 L302.4 63.8 M313.9 64.9 L312.6 65.9 L311.4 64.8 L310 65.6 L309 64.9 L308 65.8 L307.9 65.1 M319 64.3 L318.1 65.4 L317.1 64.1 L315.8 65.3 L315.8 64.9 M301.2 66.6 L300 67.7 L298.8 66.6 L297.7 67.5 L297.4 67.6 M307.2 67.1 L306.2 68 L305 67.2 L303.9 68 L302.7 67.7 M311.6 66.9 L310.2 67.9 L308.9 66.5 L308.2 67.4 M300.2 68.5 L298.8 69.6 L297.7 68.6 L296.8 68.8 M311.5 68.3 L310 69.4 L308.6 68.6 L307.5 68.8 M323.7 68.2 L322.7 69.5 L321.5 69 M302 70.9 L300.6 71.7 L299.6 71 L298.3 72 L298.1 71.5 M308.1 70.9 L306.8 72 L305.5 71.2 L304.1 72 L303.7 71.6 M313.4 71 L312.4 72 L311.1 71.3 L310 72.2 L309 71 L308.9 71.3 M323.7 71.6 L322.5 72.2 M309.1 73.5 L307.9 74.5 L306.5 73.3 L305.5 74.4 L304.5 73.3 L303.9 73.5 M319.8 73.2 L318.6 74.1 L317.2 73.4 L317 73.7 M323.7 73.6 L322.8 74.4 L322.3 74 M303.1 76 L301.8 77 L300.4 76 L299.3 76.8 L298.2 75.6 L297.8 76.3 M310.5 75.7 L309.6 76.7 L308.1 76 L307 76.7 L305.9 76 L304.9 77 L304.6 76.5 M314.8 76.4 L313.3 77.3 L312.2 76.2 L311.6 76.5 M321.3 75.6 L319.8 76.7 L318.4 75.7 L317.3 76.8 L316.6 76.4 M323.7 76 L322.9 76.1 M304.6 79 L303.5 79.6 L302.1 78.9 L301.1 79.6 L300.1 78.9 L298.9 80 L298.6 79.1 M308.4 79.1 L307 80.4 L306.1 79.3 L305.6 79.4 M314.1 79.2 L313 79.8 L312.1 79.1 L310.8 79.8 L310.7 79.4 M318.9 78.8 L317.6 79.7 L316.6 79 L316.2 79.3 M323.7 78.3 L322.7 79 L321.8 78.1 L321 78.9 M305.4 80.4 L303.9 81.6 L302.9 80.4 L301.9 81.4 L300.8 80.7 L299.7 80.8 M309.8 80.4 L308.8 81.5 L307.8 80.6 L306.7 81.3 L306.6 81 M316.2 81.2 L315.1 81.9 L313.9 81.3 L312.7 82.2 L311.9 81.5 M319.9 80.6 L318.9 81.7 L317.9 80.7 L317.6 81.5 M323.7 81.4 L322.5 82.4 L322 81.8 M306 82.8 L304.9 83.8 L303.4 83 L302.4 83.7 L301.1 83 L300.3 83.4 M310.1 83.5 L308.8 84.5 L307.4 83.3 L307 83.9 M315.9 83.7 L314.4 84.9 L313.4 83.7 L312.5 84.3 M303.4 85.3 L302.3 86.2 L301.1 85.3 L301 85.9 M313.3 85.4 L312.2 86.4 L310.8 85.2 L309.5 86.3 L308.4 85.9" fill="none" stroke="#12121f" stroke-width="1.3"/>
<path d="M334.7 70.8 L335.8 71.9 L337.3 70.7 L337.5 71.2 M340.5 34.6 L341.8 35.7 L343.3 34.6 L343.3 34.8 M355.2 24.5 L356.3 24.9 M348 32.2 L349.2 33.2 L350.5 32.2 L350.6 33 M342.6 51 L343.6 52.1 L345 51 L346.5 52.1 L346.7 51.4 M346.6 77.7 L347.7 78.9 L348.7 77.8 L349 78.1 M334.2 48.8 L335.2 49.8 L336.2 49 L337.6 49.9 L338.6 48.9 L338.9 49.5 M331 58.5 L332.3 59.7 L333.4 58.8 L334.3 59.6 L335.7 58.8 L336.2 59.4 M332.5 39.5 L333.7 40.6 L334.7 39.3 L335.8 40.2 L336.8 39.9 M339.3 70.2 L340.3 71.4 L341.4 70.4 L342.8 71.4 L344 70.2 L344.1 70.7 M335.3 19.9 L336.4 20 M349 43.8 L350.3 44.9 L351.8 43.9 L352.9 45.2 L354.1 44.3 M339.2 75.4 L340.7 76.4 L342.1 75.4 L342.9 75.7 M338.5 54 L339.7 54.9 L340.6 54.2 L341.5 55 L341.6 54.5 M337.1 55.4 L338.2 56.7 L339.4 55.6 L340.6 56.8 L341.8 55.6 L342.4 56.3 M330.5 72.5 L331.8 73.5 L333.1 72.3 L334.2 73.3 L334.3 72.6 M347.3 80.6 L348.2 81.6 L349.5 80.3 L349.6 80.6 M332.3 43.6 L333.6 44.7 L334.8 43.5 L335.9 44.4 L337.4 43.7 L337.5 44.2 M340.7 61.1 L342.1 62.2 L343.2 61.3 L344 61.4 M343.2 46.5 L344.4 47.6 L345.3 46.6 L346.6 47.8 L346.8 46.8 M346.3 37 L347.5 38 L348.5 37.2 L348.7 37.4 M343.5 79.3 L344.5 80.2 L345.7 79.4 L346.4 79.9 M336.2 73.1 L337.3 74.3 L338.7 73.1 L338.9 73.8 M336 32.3 L337.2 33.3 L338.2 32 L339.2 33.2 L340.2 32.3 L340.9 32.4 M338.9 43.3 L340.2 44.4 L341.5 43.4 L342.8 44.6 L344.2 43.5 L344.4 44.3 M339.5 63.3 L340.7 64.1 L341.9 63.1 L343.3 64.1 L344.3 63.4 L344.6 63.8 M327.3 75.3 L328.7 76.6 L329.6 75.7 L329.9 75.7 M343.8 38.5 L345.2 39.6 L346.6 38.8 L348 39.7 L348.8 39.2 M351.6 20.5 L352.5 21 M331 51.3 L332.2 52.1 L333.4 51.8 M348.5 19.7 L349.5 20.2 M350.1 34.8 L351.3 35.6 L352.5 34.7 L353.8 35.5 L355.1 34.7 L355.6 34.8 M334.9 50.9 L336.3 52 L337.8 51 L338.9 51.8 L340 50.8 L340.7 51.2 M342.5 41.3 L343.5 42.3 L344.8 41.3 L345.7 42.3 L346.8 41.1 L348 42.2 L348.4 42.1 M334.8 63.3 L336.1 64.3 L337.3 63.4 L338.6 63.4 M333.1 34.2 L334 35.1 L335.1 34 L336.4 35.4 L337.3 34.3 L338.1 34.5 M346.4 53.8 L347.7 54.6 L349 53.5 L350.2 54.7 L351.6 53.7 L352.1 54.5 M349.8 36.6 L350.9 37.7 L351.9 36.6 L353.1 37.6 L354.1 37 M342.3 54.2 L343.3 54.9 L344.6 54.3 M327.2 48.7 L328.3 49.7 L329.6 48.5 L330.8 49.4 L332.2 48.7 L332.7 49 M333.4 82.8 L334.4 83.9 L335.5 83.1 L336.4 83.7 L337 83.2 M342.9 20.6 L343.8 21.6 L344 20.9 M351.8 31.3 L352.9 32.4 L354 31.3 L355 32 M339.2 65.2 L340.7 66.5 L341.8 65.3 L343.2 66.3 L344.5 65.2 L344.7 66 M347 48.3 L348 49.3 L349.4 48.3 L350.3 49.3 L351.7 48.4 L352.8 49 M324.8 68.3 L325.9 69.6 L326.8 68.6 L328.1 69.6 L329 68.9 M347.7 55.7 L349.2 56.5 L350.2 55.5 L351.3 56.6 L352.5 55.4 L352.7 56 M345.4 33.8 L346.5 34.4 L347.6 33.7 L348.8 34.6 L349.5 33.8 M335.2 77.8 L336.2 78.8 L337.3 77.7 L338.3 78.6 L339.3 77.8 M349.5 41.1 L350.6 41.8 L351.7 40.9 L352.9 41.9 L354.2 40.8 L354.5 41.5 M332 75.5 L333.3 76.4 L334.5 75.5 L335.4 76.4 L336.7 75.6 L337.7 76.6 L337.7 76.4 M343.9 28.9 L344.9 29.9 L345.1 29.6 M333.8 80.1 L335.3 81 L336.4 80.3 L337.5 80.9 M347.7 24.2 L348.7 25.1 L349.1 25.1 M342.8 83.3 L344.1 84.1 L345.4 83.5 L346.7 84.2 L347.5 83.9 M345.9 44 L347 44.8 L348.2 44.1 L348.2 44.3 M334.2 60.8 L335.2 61.7 L336.2 60.7 L337.2 61.4 L338.3 60.6 L338.4 61.2 M345.6 72.9 L346.5 73.6 L348 72.7 L349.4 73.5 L350.4 72.9 L351 72.9 M345.6 63.7 L347.1 64.7 L348.1 63.6 L349 64.5 L350.3 63.8 L351.4 64.4 M342.2 67.8 L343.5 69 L344.6 67.8 L345.8 68.9 L345.9 68.1 M341.7 37.1 L342.9 38.1 L343.8 36.9 L344.8 37.3 M354.4 20.2 L355.3 21.1 M342.4 26.3 L343.3 27.4 L343.7 26.9 M349.2 58.1 L350.5 59.4 L351.5 58.8 M331 68 L332.3 69 L333.6 67.9 L335 68.8 L335.4 68.4 M329.8 62.5 L331 63.3 L332.5 62.3 L333.7 63.5 L333.8 63.3 M343.2 55.6 L344.3 56.4 L345.5 55.6 L346.8 56.8 L347.2 56.1 M336.3 41.3 L337.3 42.3 L338.7 41.6 L340 42.4 L340.3 41.8 M348 46.2 L348.9 47 L350.4 45.9 L351.8 47.1 L353 46.2 L353.5 46.2 M352.5 23 L353.5 23.6 L353.8 23.2 M349.3 39.5 L350.7 40.1 L351.9 39.3 L353.4 40.3 L354.3 39.1 L354.6 39.8 M325.7 79.3 L327.1 80.3 L328.6 79.4 L330 80.4 L331.3 79.3 L331.4 80.1 M332.2 53.2 L333.4 54.4 L334.7 53.4 L335.8 54.6 L336.7 54.3 M348.5 70.1 L349.5 71.1 L350.8 70.2 M338.5 79.8 L339.5 80.8 L340.4 79.7 L341.6 80.8 L342.1 80.7 M353.9 29.3 L355.1 30.1 L355.3 29.7 M340 72.9 L341.1 73.9 L342.2 73 L343.2 73.8 L344.3 73.1 L344.7 73.5 M337.5 24.6 L338.7 25.2 M349.7 29.5 L350.7 30.2 M340.2 48.2 L341.7 49.5 L342.9 48.4 L344 49.1 L345.3 48.5 L345.5 48.9 M345.9 65 L347 66.1 L348.2 65.1 L349.3 66.2 L350.4 65.2 L351.4 65.6 M343.6 75.9 L345.1 76.7 L346.3 75.8 L347.8 76.7 L349.3 75.9 L349.3 75.8 M337.2 23 L338.3 23.5 M342.8 31.5 L343.9 32.6 L345.1 31.3 L346.6 32.7 L347.4 32.3 M345.1 69.4 L346.1 70.5 L347.4 69.8 L347.7 70.3" fill="none" stroke="#251008" stroke-width="1.3"/>
<path d="M340 78.1 L341.1 78.9 L342.5 77.9 L344 79 L345.2 78 L345.7 78.5 M330.2 24.6 L331.4 25.7 L331.4 25.5 M336.2 36.3 L337.3 37.3 L338.5 36.2 L339.4 37.1 L339.8 36.6 M338.5 57.6 L340 58.8 L341 57.7 L341.9 58.5 M346 20.5 L347.3 21.6 L347.3 20.9 M329.3 78.2 L330.3 79.2 L331.3 78 L332.2 79 L333.4 78 L333.4 78.8 M324.3 72.2 L325.8 73.4 L327.1 72.2 L327.6 72.8 M349.8 22.6 L350.8 22.6 M336.4 27.3 L337.4 28 L337.7 28 M347.2 52.2 L348.6 53.2 L349.7 51.9 L350.8 53 L352.1 52 L352.9 52.8 M331.9 55.4 L333.2 56.7 L334.7 55.4 L335.4 56.2 M347.5 68 L349 68.8 L350.5 68.2 L350.7 68.7 M336.6 84.8 L337.9 85.6 L339.3 84.6 L340.3 85.8 L340.3 84.9 M324.3 74.6 L325.4 75.7 L325.7 75 M339.5 39.4 L340.9 40.3 L342.2 39.4 L343 39.5" fill="none" stroke="#a8400e" stroke-width="1.2"/>
<path d="M314.3 34.4 L319 31.2 L324.2 27" fill="none" stroke="#2a2a20" stroke-width="2.7"/>
<path d="M314.7 34.1 L319 31.1 L323.8 27.3" fill="none" stroke="#c9c529" stroke-width="1.5"/>
<path d="M324.2 26.8 L328 29.8 L332.3 34 L336.6 38.4" fill="none" stroke="#4a1c08" stroke-width="2.6"/>
<path d="M324.6 27.2 L328 29.9 L332.3 34.1 L336.2 38" fill="none" stroke="#e96714" stroke-width="1.5"/>
<rect x="322.6" y="22.2" width="2.8" height="2.6" fill="#1c1c24"/>
<path d="M312.8 52.5 L315 50.2 L317.2 52.8 L319.6 50 L321.8 52.6" fill="none" stroke="#15152a" stroke-width="1.2"/>
<path d="M326.4 52.6 L328.6 50 L331 52.8 L333.2 50.2 L335.4 52.5" fill="none" stroke="#2a1208" stroke-width="1.2"/>
<path d="M356.3 24 L356.2 25 L356.1 26.4 L356 28 L355.8 29.7 L355.6 31.6 L355.5 33.5 L355.3 35.3 L355.1 36.9 L354.9 38.4 L354.7 39.9 L354.5 41.3 L354.2 42.7 L354 44.1 L353.8 45.5 L353.6 46.9 L353.4 48.3 L353.2 49.7 L353.1 51.1 L352.9 52.6 L352.8 54 L352.7 55.4 L352.6 56.9 L352.4 58.3 L352.3 59.7 L352.2 61.1 L352 62.6 L351.9 64.1 L351.7 65.6 L351.6 67 L351.4 68.5 L351.3 69.8 L351.1 71.1 L350.9 72.3 L350.8 73.5 L350.6 74.6 L350.5 75.6 L350.3 76.6 L350.1 77.6 L349.9 78.6 L349.7 79.5 L349.4 80.4 L349.2 81.4 L348.9 82.3 L348.5 83.2 L348.2 84 L347.9 84.8 L347.5 85.4 L347.2 86 L346.8 86.4 L346.4 86.8 L346 87 L345.6 87.2 L345.2 87.3 L344.8 87.4 L344.5 87.5 L344.3 87.6" fill="none" stroke="#5a250c" stroke-width="0.8"/>
<path d="M291.8 24 L291.9 25 L292 26.4 L292.1 28 L292.3 29.7 L292.5 31.6 L292.6 33.5 L292.8 35.3 L293 36.9 L293.2 38.4 L293.4 39.9 L293.6 41.3 L293.9 42.7 L294.1 44.1 L294.3 45.5 L294.5 46.9 L294.7 48.3 L294.9 49.7 L295 51.1 L295.2 52.6 L295.3 54 L295.4 55.4 L295.5 56.9 L295.7 58.3 L295.8 59.7 L295.9 61.1 L296.1 62.6 L296.2 64.1 L296.4 65.6 L296.5 67 L296.7 68.5 L296.8 69.8 L297 71.1 L297.2 72.3 L297.3 73.5 L297.5 74.6 L297.6 75.6 L297.8 76.6 L298 77.6 L298.2 78.6 L298.4 79.5 L298.7 80.4 L298.9 81.4 L299.2 82.3 L299.6 83.2 L299.9 84 L300.2 84.8 L300.6 85.4 L300.9 86 L301.3 86.4 L301.7 86.8 L302.1 87 L302.5 87.2 L302.9 87.3 L303.3 87.4 L303.6 87.5 L303.8 87.6" fill="none" stroke="#26263a" stroke-width="0.8"/>
</g>
<rect x="62.9" y="17.1" width="19.6" height="165.3" fill="url(#vir)" stroke="#3a3a3a" stroke-width="0.8"/>
<line x1="59.5" x2="62.9" y1="182.4" y2="182.4" stroke="#3a3a3a" stroke-width="0.8"/>
<text x="56.8" y="186.7" text-anchor="end" class="tk">0</text>
<line x1="59.5" x2="62.9" y1="154.8" y2="154.8" stroke="#3a3a3a" stroke-width="0.8"/>
<text x="56.8" y="159.1" text-anchor="end" class="tk">200</text>
<line x1="59.5" x2="62.9" y1="127.3" y2="127.3" stroke="#3a3a3a" stroke-width="0.8"/>
<text x="56.8" y="131.6" text-anchor="end" class="tk">400</text>
<line x1="59.5" x2="62.9" y1="99.8" y2="99.8" stroke="#3a3a3a" stroke-width="0.8"/>
<text x="56.8" y="104" text-anchor="end" class="tk">600</text>
<line x1="59.5" x2="62.9" y1="72.2" y2="72.2" stroke="#3a3a3a" stroke-width="0.8"/>
<text x="56.8" y="76.5" text-anchor="end" class="tk">800</text>
<line x1="59.5" x2="62.9" y1="44.7" y2="44.7" stroke="#3a3a3a" stroke-width="0.8"/>
<text x="56.8" y="48.9" text-anchor="end" class="tk">1000</text>
<line x1="59.5" x2="62.9" y1="17.1" y2="17.1" stroke="#3a3a3a" stroke-width="0.8"/>
<text x="56.8" y="21.3" text-anchor="end" class="tk">1200</text>
<text transform="translate(24.1 99.8) rotate(-90)" text-anchor="middle" class="tk al">Temperature [C]</text>
<rect x="133.7" y="17.1" width="380.7" height="165.3" fill="none" stroke="#3a3a3a" stroke-width="0.9"/>
<line x1="130.2" x2="133.7" y1="169.7" y2="169.7" stroke="#3a3a3a" stroke-width="0.8"/>
<text x="126.5" y="173.9" text-anchor="end" class="tk">−40</text>
<line x1="130.2" x2="133.7" y1="144.3" y2="144.3" stroke="#3a3a3a" stroke-width="0.8"/>
<text x="126.5" y="148.5" text-anchor="end" class="tk">−20</text>
<line x1="130.2" x2="133.7" y1="118.8" y2="118.8" stroke="#3a3a3a" stroke-width="0.8"/>
<text x="126.5" y="123.1" text-anchor="end" class="tk">0</text>
<line x1="130.2" x2="133.7" y1="93.4" y2="93.4" stroke="#3a3a3a" stroke-width="0.8"/>
<text x="126.5" y="97.6" text-anchor="end" class="tk">20</text>
<line x1="130.2" x2="133.7" y1="68" y2="68" stroke="#3a3a3a" stroke-width="0.8"/>
<text x="126.5" y="72.2" text-anchor="end" class="tk">40</text>
<line x1="130.2" x2="133.7" y1="42.5" y2="42.5" stroke="#3a3a3a" stroke-width="0.8"/>
<text x="126.5" y="46.8" text-anchor="end" class="tk">60</text>
<line x1="130.2" x2="133.7" y1="17.1" y2="17.1" stroke="#3a3a3a" stroke-width="0.8"/>
<text x="126.5" y="21.3" text-anchor="end" class="tk">80</text>
<line x1="133.7" x2="133.7" y1="182.4" y2="185.9" stroke="#3a3a3a" stroke-width="0.8"/>
<text x="132.7" y="197.7" text-anchor="middle" class="tk">−150</text>
<line x1="197.1" x2="197.1" y1="182.4" y2="185.9" stroke="#3a3a3a" stroke-width="0.8"/>
<text x="196.1" y="197.7" text-anchor="middle" class="tk">−100</text>
<line x1="260.6" x2="260.6" y1="182.4" y2="185.9" stroke="#3a3a3a" stroke-width="0.8"/>
<text x="259.6" y="197.7" text-anchor="middle" class="tk">−50</text>
<line x1="324" x2="324" y1="182.4" y2="185.9" stroke="#3a3a3a" stroke-width="0.8"/>
<text x="324" y="197.7" text-anchor="middle" class="tk">0</text>
<line x1="387.5" x2="387.5" y1="182.4" y2="185.9" stroke="#3a3a3a" stroke-width="0.8"/>
<text x="387.5" y="197.7" text-anchor="middle" class="tk">50</text>
<line x1="450.9" x2="450.9" y1="182.4" y2="185.9" stroke="#3a3a3a" stroke-width="0.8"/>
<text x="450.9" y="197.7" text-anchor="middle" class="tk">100</text>
<line x1="514.4" x2="514.4" y1="182.4" y2="185.9" stroke="#3a3a3a" stroke-width="0.8"/>
<text x="514.4" y="197.7" text-anchor="middle" class="tk">150</text>
<text x="324" y="212.2" text-anchor="middle" class="tk al">r [km]</text>
<text transform="translate(98 99.8) rotate(-90)" text-anchor="middle" class="tk al">z [km]</text>
<text x="342.1" y="10.9" text-anchor="end" class="tt">30 s</text>
<text x="1.6" y="215.3" class="lb">a.</text>
<g clip-path="url(#cfb)">
<g clip-path="url(#crb)">
<path d="M322.1 407.8 L511.2 407.8 L511.2 343.8 L502.1 343.8 L488.8 343.7 L473.4 343.7 L457.8 343.6 L444 343.6 L434 343.5 L428.1 343.4 L424.7 343.4 L423.1 343.3 L422.6 343.2 L422.3 343.1 L421.4 342.9 L420.2 342.7 L419.3 342.4 L418.6 342.1 L418 341.8 L417.5 341.5 L417 341.2 L416.5 341 L416.2 340.7 L416 340.5 L415.7 340.3 L415.2 340.1 L414.6 340 L413.8 339.9 L412.8 339.7 L411.7 339.6 L410.5 339.6 L409.2 339.6 L407.7 339.6 L406 339.7 L404 339.9 L402 340.2 L399.9 340.4 L398 340.7 L396.3 341 L395 341.3 L393.9 341.5 L392.9 341.8 L392 342.1 L391.1 342.4 L390 342.7 L388.8 343 L387.6 343.2 L386.3 343.4 L385.1 343.7 L383.8 344.1 L382.5 344.6 L381.2 345.2 L380 346 L378.7 346.8 L377.4 347.7 L376.2 348.7 L374.9 349.6 L373.6 350.6 L372.3 351.6 L371 352.6 L369.8 353.7 L368.5 354.7 L367.2 355.7 L365.9 356.7 L364.7 357.6 L363.5 358.5 L362.2 359.4 L361 360.3 L359.6 361.2 L358.2 362.1 L356.7 363 L355.1 363.8 L353.6 364.7 L352 365.5 L350.5 366.3 L349 367.1 L347.5 367.8 L346 368.5 L344.5 369.2 L342.9 369.9 L341.4 370.5 L339.8 371.2 L338.2 371.8 L336.6 372.4 L335 373 L333.4 373.6 L332 374 L330.6 374.4 L329.3 374.6 L328.1 374.9 L326.9 375 L325.9 375.1 L325 375.2 L324.2 375.2 L323.6 375.1 L323.1 375 L322.7 374.8 L322.3 374.7 L322.1 374.6Z" fill="#fdf9f0"/>
<path d="M400 365.6 L401.9 365.6 L403.8 365.6 L405.7 365.6 L407.5 365.6 L409.4 365.6 L411.3 365.6 L413.2 365.6 L415.1 365.6 L417 365.6 L418.8 365.6 L420.7 365.6 L422.6 365.6 L424.5 365.6 L426.4 365.6 L428.3 365.6 L430.2 365.6 L432 365.6 L433.9 365.6 L435.8 365.7 L437.7 365.7 L439.6 365.7 L441.5 365.7 L443.3 365.7 L445.2 365.7 L447.1 365.7 L449 365.7 L450.9 365.7 L452.8 365.7 L454.7 365.7 L456.5 365.7 L458.4 365.7 L460.3 365.7 L462.2 365.7 L464.1 365.7 L466 365.7 L467.9 365.7 L469.7 365.7 L471.6 365.7 L473.5 365.7 L475.4 365.7 L477.3 365.7 L479.2 365.7 L481 365.7 L482.9 365.7 L484.8 365.7 L486.7 365.7 L488.6 365.7 L490.5 365.7 L492.4 365.7 L494.2 365.7 L496.1 365.7 L498 365.7 L499.9 365.7 L501.8 365.7 L503.7 365.7 L505.5 365.7 L507.4 365.7 L509.3 365.7 L511.2 365.7" fill="none" stroke="#bfb4ab" stroke-width="1"/>
<path d="M400 370.6 L401.9 370.6 L403.8 370.6 L405.7 370.6 L407.5 370.6 L409.4 370.6 L411.3 370.6 L413.2 370.6 L415.1 370.6 L417 370.7 L418.8 370.7 L420.7 370.7 L422.6 370.7 L424.5 370.7 L426.4 370.7 L428.3 370.7 L430.2 370.7 L432 370.7 L433.9 370.7 L435.8 370.7 L437.7 370.7 L439.6 370.7 L441.5 370.7 L443.3 370.7 L445.2 370.7 L447.1 370.7 L449 370.7 L450.9 370.7 L452.8 370.7 L454.7 370.7 L456.5 370.7 L458.4 370.7 L460.3 370.7 L462.2 370.7 L464.1 370.7 L466 370.8 L467.9 370.8 L469.7 370.8 L471.6 370.8 L473.5 370.8 L475.4 370.8 L477.3 370.8 L479.2 370.8 L481 370.8 L482.9 370.8 L484.8 370.8 L486.7 370.8 L488.6 370.8 L490.5 370.8 L492.4 370.8 L494.2 370.8 L496.1 370.8 L498 370.8 L499.9 370.8 L501.8 370.8 L503.7 370.8 L505.5 370.8 L507.4 370.8 L509.3 370.8 L511.2 370.8" fill="none" stroke="#bfb4ab" stroke-width="1"/>
<path d="M400 375.6 L401.9 375.6 L403.8 375.6 L405.7 375.6 L407.5 375.6 L409.4 375.6 L411.3 375.7 L413.2 375.7 L415.1 375.7 L417 375.7 L418.8 375.7 L420.7 375.7 L422.6 375.7 L424.5 375.7 L426.4 375.7 L428.3 375.7 L430.2 375.7 L432 375.8 L433.9 375.8 L435.8 375.8 L437.7 375.8 L439.6 375.8 L441.5 375.8 L443.3 375.8 L445.2 375.8 L447.1 375.8 L449 375.8 L450.9 375.8 L452.8 375.8 L454.7 375.8 L456.5 375.8 L458.4 375.8 L460.3 375.8 L462.2 375.8 L464.1 375.8 L466 375.8 L467.9 375.8 L469.7 375.8 L471.6 375.8 L473.5 375.8 L475.4 375.8 L477.3 375.8 L479.2 375.8 L481 375.8 L482.9 375.8 L484.8 375.9 L486.7 375.9 L488.6 375.9 L490.5 375.9 L492.4 375.9 L494.2 375.9 L496.1 375.9 L498 375.9 L499.9 375.9 L501.8 375.9 L503.7 375.9 L505.5 375.9 L507.4 375.9 L509.3 375.9 L511.2 375.9" fill="none" stroke="#bfb4ab" stroke-width="1"/>
<path d="M400 380.5 L401.9 380.5 L403.8 380.5 L405.7 380.5 L407.5 380.5 L409.4 380.5 L411.3 380.5 L413.2 380.6 L415.1 380.6 L417 380.6 L418.8 380.6 L420.7 380.6 L422.6 380.6 L424.5 380.6 L426.4 380.6 L428.3 380.6 L430.2 380.7 L432 380.7 L433.9 380.7 L435.8 380.7 L437.7 380.7 L439.6 380.7 L441.5 380.7 L443.3 380.7 L445.2 380.7 L447.1 380.7 L449 380.7 L450.9 380.7 L452.8 380.7 L454.7 380.7 L456.5 380.7 L458.4 380.7 L460.3 380.8 L462.2 380.8 L464.1 380.8 L466 380.8 L467.9 380.8 L469.7 380.8 L471.6 380.8 L473.5 380.8 L475.4 380.8 L477.3 380.8 L479.2 380.8 L481 380.8 L482.9 380.8 L484.8 380.8 L486.7 380.8 L488.6 380.8 L490.5 380.8 L492.4 380.8 L494.2 380.8 L496.1 380.8 L498 380.8 L499.9 380.8 L501.8 380.8 L503.7 380.8 L505.5 380.8 L507.4 380.8 L509.3 380.8 L511.2 380.8" fill="none" stroke="#bfb4ab" stroke-width="1"/>
<path d="M400 365.6 C397.7 365.6 390.1 365.6 386 365.3 C381.9 365.1 378.1 364.8 375.3 364.3 C372.6 363.7 370.8 362.7 369.5 361.8 C368.3 360.9 367.6 359.9 367.7 358.8 C367.9 357.7 369.3 356.4 370.5 355.1 C371.6 353.8 373.9 351.8 374.6 351.2" fill="none" stroke="#a2978d" stroke-width="0.8"/>
<path d="M400 370.8 C397.2 370.8 387.6 370.7 383 370.5 C378.3 370.3 375.3 370.1 372.3 369.4 C369.3 368.8 366.7 367.7 365 366.7 C363.2 365.7 362 364.6 361.9 363.3 C361.9 362.1 363.2 360.9 364.7 359.4 C366.1 357.9 369.7 355.1 370.8 354.2" fill="none" stroke="#a2978d" stroke-width="0.8"/>
<path d="M400 375.8 C396.7 375.8 385.3 375.8 379.9 375.5 C374.5 375.3 371.1 374.9 367.7 374.3 C364.3 373.7 361.6 372.8 359.5 371.9 C357.4 370.9 355.3 369.8 354.9 368.7 C354.5 367.5 355.9 366.1 357 364.9 C358.2 363.6 361.1 361.7 361.9 361.1" fill="none" stroke="#a2978d" stroke-width="0.8"/>
<path d="M400 380.7 C396.2 380.7 382.7 380.6 376.9 380.4 C371 380.2 368.2 379.9 364.7 379.3 C361.2 378.8 358.2 378.1 355.8 377.2 C353.4 376.3 352.1 374.5 350.3 374.2 C348.6 373.8 346.6 374.4 345.2 375.1 C343.7 375.8 342.4 377.9 341.8 378.4" fill="none" stroke="#a2978d" stroke-width="0.8"/>
<path d="M325 375.8 C326.1 375.7 329.4 374.5 331.1 374.9 C332.9 375.4 334.3 378.4 335.7 378.4 C337.1 378.4 338 376.1 339.5 374.9 C341 373.8 342.7 372.8 344.9 371.6 C347 370.4 349.8 369.3 352.5 367.8 C355.1 366.2 359.5 363.3 360.9 362.4" fill="none" stroke="#a2978d" stroke-width="0.8"/>
<path d="M326.6 379.2 C327.6 379.4 330.6 380.6 332.7 380.7 C334.7 380.8 337 380.6 338.8 380 C340.5 379.3 341.7 378 343.3 376.9 C345 375.8 346.8 374.2 348.7 373.1 C350.6 372 353.7 370.8 354.8 370.4" fill="none" stroke="#a2978d" stroke-width="0.8"/>
<path d="M343.3 380.7 C344.1 380.5 346.4 380.3 347.9 379.5 C349.4 378.7 351.1 376.9 352.5 376.1 C353.9 375.4 355 375 356.3 374.9 C357.6 374.9 359.5 375.7 360.1 375.8" fill="none" stroke="#a2978d" stroke-width="0.8"/>
<path d="M331.1 373.1 C332.7 372.6 336.7 371.7 340.3 370.4 C343.8 369 348.7 366.9 352.5 364.9 C356.3 362.8 359.8 360.3 363.1 358 C366.4 355.7 369.5 353.2 372.3 351.2 C375.1 349.1 377.1 347.3 379.9 346 C382.7 344.6 385.4 343.8 389 343.1 C392.7 342.3 399.8 341.8 402 341.6" fill="none" stroke="#a2978d" stroke-width="0.8"/>
<path d="M340.3 372.5 C342.3 371.5 348.5 369 352.5 366.8 C356.4 364.7 360.5 362.1 363.9 359.8 C367.3 357.6 370.6 354.9 373 353.1 C375.5 351.4 377.7 349.8 378.7 349.2" fill="none" stroke="#a2978d" stroke-width="0.8"/>
<path d="M378 348.6 L378.6 348.1 L379.4 347.3 L380.3 346.5 L381.4 345.6 L382.6 345 L383.9 344.6 L385.4 344.3 L387 344.1 L388.5 343.8 L390 343.6 L391.2 343.3 L392.4 343 L393.5 342.7 L394.7 342.5 L396.3 342.2 L398.3 341.9 L400.7 341.6 L403.2 341.3 L405.6 341.1 L407.7 341 L409.4 341 L410.8 341 L412.1 341.1 L413.3 341.3 L414.6 341.5 L415.9 341.8 L417 342.3 L418.3 342.8 L419.7 343.3 L421.4 343.6 L422.5 343.8 L422.9 344 L424 344.1 L427.3 344.1 L434 344.2 L446.5 344.3 L463.9 344.4 L482.8 344.4 L499.7 344.5 L511.2 344.5 L511.2 358.9 L500.1 358.9 L484 358.9 L465.7 358.9 L448.1 358.9 L434 358.9 L423.5 358.9 L414.8 358.9 L407.6 358.9 L401.5 358.9 L396.3 358.9 L392.3 358.9 L389.6 358.9 L387.8 358.8 L386.5 358.7 L385 358.6 L383.5 358.4 L382.2 358.2 L381.2 357.9 L380.3 357.6 L379.5 357.2 L378.8 356.7 L378.2 356 L377.7 355.3 L377.3 354.7 L377 354.3Z" fill="#e96714"/>
<path d="M384 349 L386.6 348.6 L389.2 348.3 L391.8 347.9 L394.4 347.5 L397 347.2 L399.6 347 L402.2 346.8 L404.8 346.6 L407.4 346.4 L410 346.5 L412.6 346.6 L415.2 346.8 L417.7 347.4 L420.3 348 L422.9 348.2 L425.5 348.3 L428.1 348.4 L430.7 348.5 L433.3 348.6 L435.9 348.6 L438.5 348.6 L441.1 348.6 L443.7 348.6 L446.3 348.6 L448.9 348.7 L451.5 348.7 L454.1 348.7 L456.7 348.7 L459.3 348.7 L461.9 348.7 L464.5 348.7 L467.1 348.7 L469.7 348.7 L472.3 348.7 L474.9 348.7 L477.5 348.7 L480 348.7 L482.6 348.7 L485.2 348.7 L487.8 348.8 L490.4 348.8 L493 348.8 L495.6 348.8 L498.2 348.8 L500.8 348.8 L503.4 348.8 L506 348.8 L508.6 348.8 L511.2 348.8" fill="none" stroke="#cf5a17" stroke-width="0.6" stroke-opacity="0.6"/>
<path d="M384 352.5 L386.6 352.3 L389.2 352.1 L391.8 351.8 L394.4 351.6 L397 351.4 L399.6 351.2 L402.2 351.1 L404.8 351 L407.4 350.9 L410 350.9 L412.6 351 L415.2 351.1 L417.7 351.5 L420.3 351.9 L422.9 352 L425.5 352.1 L428.1 352.2 L430.7 352.2 L433.3 352.3 L435.9 352.3 L438.5 352.3 L441.1 352.3 L443.7 352.3 L446.3 352.3 L448.9 352.3 L451.5 352.3 L454.1 352.3 L456.7 352.3 L459.3 352.3 L461.9 352.3 L464.5 352.3 L467.1 352.3 L469.7 352.3 L472.3 352.4 L474.9 352.4 L477.5 352.4 L480 352.4 L482.6 352.4 L485.2 352.4 L487.8 352.4 L490.4 352.4 L493 352.4 L495.6 352.4 L498.2 352.4 L500.8 352.4 L503.4 352.4 L506 352.4 L508.6 352.4 L511.2 352.4" fill="none" stroke="#cf5a17" stroke-width="0.6" stroke-opacity="0.6"/>
<path d="M384 356.1 L386.6 356 L389.2 355.9 L391.8 355.8 L394.4 355.6 L397 355.5 L399.6 355.5 L402.2 355.4 L404.8 355.4 L407.4 355.3 L410 355.4 L412.6 355.4 L415.2 355.5 L417.7 355.6 L420.3 355.8 L422.9 355.9 L425.5 355.9 L428.1 355.9 L430.7 355.9 L433.3 356 L435.9 356 L438.5 356 L441.1 356 L443.7 356 L446.3 356 L448.9 356 L451.5 356 L454.1 356 L456.7 356 L459.3 356 L461.9 356 L464.5 356 L467.1 356 L469.7 356 L472.3 356 L474.9 356 L477.5 356 L480 356 L482.6 356 L485.2 356 L487.8 356 L490.4 356 L493 356 L495.6 356 L498.2 356 L500.8 356 L503.4 356 L506 356 L508.6 356 L511.2 356" fill="none" stroke="#cf5a17" stroke-width="0.6" stroke-opacity="0.6"/>
<path d="M322.1 387.4 L323.7 387.6 L326.1 387.8 L328.9 388 L331.8 388.3 L334.6 388.5 L336.9 388.6 L338.7 388.6 L340.4 388.6 L341.8 388.6 L343.2 388.5 L344.5 388.3 L346 388.1 L347.5 387.8 L349 387.4 L350.5 387 L352.1 386.5 L353.6 386.1 L355.1 385.8 L355.9 385.6 L355.9 385.4 L355.9 385.3 L356.7 385.2 L359.3 385.1 L364.3 385.1 L372.3 385.1 L382.8 385.2 L394.9 385.3 L408 385.4 L421.2 385.5 L434 385.6 L447.3 385.7 L462 385.7 L477 385.7 L490.9 385.8 L502.7 385.8 L511.2 385.8 L511.2 407.8 L322.1 407.8Z" fill="#fdb875"/>
<path d="M322.1 393 L324.4 393.2 L326.8 393.3 L329.2 393.5 L331.6 393.6 L334 393.8 L336.4 393.9 L338.8 393.9 L341.2 393.9 L343.6 393.8 L346 393.5 L348.4 393.1 L350.8 392.6 L353.2 392.1 L355.6 391.6 L358 391.3 L360.4 391.3 L362.8 391.3 L365.1 391.3 L367.5 391.3 L369.9 391.3 L372.3 391.3 L374.7 391.3 L377.1 391.3 L379.5 391.3 L381.9 391.3 L384.3 391.4 L386.7 391.4 L389.1 391.4 L391.5 391.4 L393.9 391.4 L396.3 391.4 L398.7 391.4 L401.1 391.5 L403.5 391.5 L405.9 391.5 L408.2 391.5 L410.6 391.5 L413 391.5 L415.4 391.6 L417.8 391.6 L420.2 391.6 L422.6 391.6 L425 391.6 L427.4 391.6 L429.8 391.6 L432.2 391.6 L434.6 391.7 L437 391.7 L439.4 391.7 L441.8 391.7 L444.2 391.7 L446.6 391.7 L448.9 391.7 L451.3 391.7 L453.7 391.7 L456.1 391.7 L458.5 391.7 L460.9 391.7 L463.3 391.7 L465.7 391.7 L468.1 391.7 L470.5 391.7 L472.9 391.7 L475.3 391.7 L477.7 391.7 L480.1 391.8 L482.5 391.8 L484.9 391.8 L487.3 391.8 L489.7 391.8 L492 391.8 L494.4 391.8 L496.8 391.8 L499.2 391.8 L501.6 391.8 L504 391.8 L506.4 391.8 L508.8 391.8 L511.2 391.8" fill="none" stroke="#d99869" stroke-width="1"/>
<path d="M322.1 397.6 L324.4 397.7 L326.8 397.8 L329.2 398 L331.6 398.1 L334 398.2 L336.4 398.2 L338.8 398.3 L341.2 398.2 L343.6 398.1 L346 398 L348.4 397.7 L350.8 397.3 L353.2 396.9 L355.6 396.6 L358 396.4 L360.4 396.4 L362.8 396.3 L365.1 396.3 L367.5 396.3 L369.9 396.3 L372.3 396.3 L374.7 396.4 L377.1 396.4 L379.5 396.4 L381.9 396.4 L384.3 396.4 L386.7 396.4 L389.1 396.4 L391.5 396.4 L393.9 396.4 L396.3 396.5 L398.7 396.5 L401.1 396.5 L403.5 396.5 L405.9 396.5 L408.2 396.5 L410.6 396.5 L413 396.5 L415.4 396.5 L417.8 396.6 L420.2 396.6 L422.6 396.6 L425 396.6 L427.4 396.6 L429.8 396.6 L432.2 396.6 L434.6 396.6 L437 396.6 L439.4 396.6 L441.8 396.6 L444.2 396.6 L446.6 396.6 L448.9 396.6 L451.3 396.6 L453.7 396.7 L456.1 396.7 L458.5 396.7 L460.9 396.7 L463.3 396.7 L465.7 396.7 L468.1 396.7 L470.5 396.7 L472.9 396.7 L475.3 396.7 L477.7 396.7 L480.1 396.7 L482.5 396.7 L484.9 396.7 L487.3 396.7 L489.7 396.7 L492 396.7 L494.4 396.7 L496.8 396.7 L499.2 396.7 L501.6 396.7 L504 396.7 L506.4 396.7 L508.8 396.7 L511.2 396.7" fill="none" stroke="#d99869" stroke-width="1"/>
<path d="M322.1 402.1 L324.4 402.1 L326.8 402.2 L329.2 402.3 L331.6 402.4 L334 402.4 L336.4 402.5 L338.8 402.5 L341.2 402.5 L343.6 402.4 L346 402.3 L348.4 402.1 L350.8 401.9 L353.2 401.7 L355.6 401.4 L358 401.3 L360.4 401.3 L362.8 401.3 L365.1 401.3 L367.5 401.3 L369.9 401.3 L372.3 401.3 L374.7 401.3 L377.1 401.3 L379.5 401.3 L381.9 401.3 L384.3 401.3 L386.7 401.3 L389.1 401.3 L391.5 401.3 L393.9 401.3 L396.3 401.3 L398.7 401.4 L401.1 401.4 L403.5 401.4 L405.9 401.4 L408.2 401.4 L410.6 401.4 L413 401.4 L415.4 401.4 L417.8 401.4 L420.2 401.4 L422.6 401.4 L425 401.4 L427.4 401.4 L429.8 401.4 L432.2 401.4 L434.6 401.5 L437 401.5 L439.4 401.5 L441.8 401.5 L444.2 401.5 L446.6 401.5 L448.9 401.5 L451.3 401.5 L453.7 401.5 L456.1 401.5 L458.5 401.5 L460.9 401.5 L463.3 401.5 L465.7 401.5 L468.1 401.5 L470.5 401.5 L472.9 401.5 L475.3 401.5 L477.7 401.5 L480.1 401.5 L482.5 401.5 L484.9 401.5 L487.3 401.5 L489.7 401.5 L492 401.5 L494.4 401.5 L496.8 401.5 L499.2 401.5 L501.6 401.5 L504 401.5 L506.4 401.5 L508.8 401.5 L511.2 401.5" fill="none" stroke="#d99869" stroke-width="1"/>
<path d="M322.1 406.2 L324.4 406.3 L326.8 406.3 L329.2 406.3 L331.6 406.4 L334 406.4 L336.4 406.4 L338.8 406.4 L341.2 406.4 L343.6 406.4 L346 406.3 L348.4 406.2 L350.8 406.1 L353.2 406 L355.6 405.9 L358 405.9 L360.4 405.9 L362.8 405.8 L365.1 405.8 L367.5 405.8 L369.9 405.8 L372.3 405.9 L374.7 405.9 L377.1 405.9 L379.5 405.9 L381.9 405.9 L384.3 405.9 L386.7 405.9 L389.1 405.9 L391.5 405.9 L393.9 405.9 L396.3 405.9 L398.7 405.9 L401.1 405.9 L403.5 405.9 L405.9 405.9 L408.2 405.9 L410.6 405.9 L413 405.9 L415.4 405.9 L417.8 405.9 L420.2 405.9 L422.6 405.9 L425 405.9 L427.4 405.9 L429.8 405.9 L432.2 405.9 L434.6 405.9 L437 405.9 L439.4 405.9 L441.8 405.9 L444.2 405.9 L446.6 405.9 L448.9 405.9 L451.3 405.9 L453.7 405.9 L456.1 405.9 L458.5 405.9 L460.9 405.9 L463.3 405.9 L465.7 405.9 L468.1 405.9 L470.5 405.9 L472.9 405.9 L475.3 405.9 L477.7 405.9 L480.1 406 L482.5 406 L484.9 406 L487.3 406 L489.7 406 L492 406 L494.4 406 L496.8 406 L499.2 406 L501.6 406 L504 406 L506.4 406 L508.8 406 L511.2 406" fill="none" stroke="#d99869" stroke-width="1"/>
<path d="M322.1 387.4 L323.7 387.6 L326.1 387.8 L328.9 388 L331.8 388.3 L334.6 388.5 L336.9 388.6 L338.7 388.6 L340.4 388.6 L341.8 388.6 L343.2 388.5 L344.5 388.3 L346 388.1 L347.5 387.8 L349 387.4 L350.5 387 L352.1 386.5 L353.6 386.1 L355.1 385.8 L355.9 385.6 L355.9 385.4 L355.9 385.3 L356.7 385.2 L359.3 385.1 L364.3 385.1 L372.3 385.1 L382.8 385.2 L394.9 385.3 L408 385.4 L421.2 385.5 L434 385.6 L447.3 385.7 L462 385.7 L477 385.7 L490.9 385.8 L502.7 385.8 L511.2 385.8" fill="none" stroke="#4a4038" stroke-width="0.8"/>
<path d="M378 348.6 L378.6 348.1 L379.4 347.3 L380.3 346.5 L381.4 345.6 L382.6 345 L383.9 344.6 L385.4 344.3 L387 344.1 L388.5 343.8 L390 343.6 L391.2 343.3 L392.4 343 L393.5 342.7 L394.7 342.5 L396.3 342.2 L398.3 341.9 L400.7 341.6 L403.2 341.3 L405.6 341.1 L407.7 341 L409.4 341 L410.8 341 L412.1 341.1 L413.3 341.3 L414.6 341.5 L415.9 341.8 L417 342.3 L418.3 342.8 L419.7 343.3 L421.4 343.6 L422.5 343.8 L422.9 344 L424 344.1 L427.3 344.1 L434 344.2 L446.5 344.3 L463.9 344.4 L482.8 344.4 L499.7 344.5 L511.2 344.5 L511.2 358.9 L500.1 358.9 L484 358.9 L465.7 358.9 L448.1 358.9 L434 358.9 L423.5 358.9 L414.8 358.9 L407.6 358.9 L401.5 358.9 L396.3 358.9 L392.3 358.9 L389.6 358.9 L387.8 358.8 L386.5 358.7 L385 358.6 L383.5 358.4 L382.2 358.2 L381.2 357.9 L380.3 357.6 L379.5 357.2 L378.8 356.7 L378.2 356 L377.7 355.3 L377.3 354.7 L377 354.3Z" fill="none" stroke="#6a3a1a" stroke-width="0.6"/>
</g>
<g clip-path="url(#clb)"><g clip-path="url(#sBL)">
<rect x="132.9" y="244.4" width="190.2" height="163.4" fill="#483783"/>
<path d="M254 343.2 L255.8 343.7 L257.6 344.2 L259.4 344.8 L261.2 345.6 L263 346.6 L264.8 347.9 L266.6 349.4 L268.4 350.8 L270.2 352.3 L272 353.8 L273.8 355.3 L275.6 356.8 L277.4 358.1 L279.1 359.4 L280.9 360.5 L282.7 361.6 L284.5 362.6 L286.3 363.6 L288.1 364.5 L289.9 365.4 L291.7 366.3 L293.5 367.1 L295.3 367.9 L297.1 368.6 L298.9 369.3 L300.7 370 L302.5 370.6 L304.3 371.2 L306.1 371.7 L307.9 372.1 L309.7 372.6 L311.5 373 L313.3 373.4 L315.1 373.7 L316.9 373.8 L318.7 373.9 L320.5 373.8 L322.3 373.6 L324.1 373.6 L324.1 412.5 L322.3 412.1 L320.5 412 L318.7 411.7 L316.9 411.3 L315.1 410.8 L313.3 410.1 L311.5 409.4 L309.7 408.6 L307.9 407.8 L306.1 406.9 L304.3 406 L302.5 405.1 L300.7 404.1 L298.9 402.6 L297.1 400.6 L295.3 398.6 L293.5 396.6 L291.7 394.5 L289.9 392.4 L288.1 390.3 L286.3 388.2 L284.5 386 L282.7 383.7 L280.9 381.5 L279.1 379.1 L277.4 376.7 L275.6 374.1 L273.8 371.4 L272 368.7 L270.2 365.9 L268.4 363.2 L266.6 360.5 L264.8 357.8 L263 355.4 L261.2 353.2 L259.4 351.3 L257.6 349.5 L255.8 347.9 L254 346.2Z" fill="#3d4e8a" filter="url(#b3)"/>
<path d="M260 345.1 L261.6 345.8 L263.3 346.9 L264.9 348.1 L266.6 349.4 L268.2 350.7 L269.9 352 L271.5 353.4 L273.1 354.8 L274.8 356.1 L276.4 357.4 L278.1 358.6 L279.7 359.7 L281.4 360.8 L283 361.7 L284.6 362.7 L286.3 363.6 L287.9 364.4 L289.6 365.2 L291.2 366 L292.8 366.8 L294.5 367.5 L296.1 368.2 L297.8 368.9 L299.4 369.5 L301.1 370.1 L302.7 370.7 L304.3 371.2 L306 371.6 L307.6 372.1 L309.3 372.5 L310.9 372.9 L312.6 373.2 L314.2 373.6 L315.8 373.8 L317.5 373.9 L319.1 373.9 L320.8 373.8 L322.4 373.6 L324.1 373.6 L324.1 400.5 L322.4 400.3 L320.8 400.2 L319.1 400 L317.5 399.7 L315.8 399.3 L314.2 398.9 L312.6 398.3 L310.9 397.7 L309.3 397 L307.6 396.3 L306 395.6 L304.3 394.9 L302.7 394.1 L301.1 393.3 L299.4 391.9 L297.8 389.7 L296.1 387.4 L294.5 385.5 L292.8 383.7 L291.2 381.8 L289.6 380.1 L287.9 378.7 L286.3 377.3 L284.6 375.9 L283 374.4 L281.4 372.9 L279.7 371.3 L278.1 369.6 L276.4 367.9 L274.8 366 L273.1 363.9 L271.5 361.8 L269.9 359.6 L268.2 357.5 L266.6 355.4 L264.9 353.4 L263.3 351.4 L261.6 349.6 L260 348.1Z" fill="#31658d" filter="url(#b3)"/>
<path d="M263 346.7 L264.6 347.8 L266.1 349 L267.7 350.3 L269.3 351.5 L270.8 352.8 L272.4 354.1 L274 355.5 L275.5 356.8 L277.1 357.9 L278.7 359 L280.2 360.1 L281.8 361 L283.4 361.9 L284.9 362.8 L286.5 363.7 L288 364.5 L289.6 365.3 L291.2 366 L292.7 366.7 L294.3 367.4 L295.9 368.1 L297.4 368.8 L299 369.4 L300.6 369.9 L302.1 370.5 L303.7 371 L305.3 371.4 L306.8 371.9 L308.4 372.3 L310 372.7 L311.5 373 L313.1 373.4 L314.7 373.6 L316.2 373.8 L317.8 373.9 L319.4 373.9 L320.9 373.7 L322.5 373.6 L324.1 373.6 L324.1 392.1 L322.5 392 L320.9 392 L319.4 392 L317.8 391.9 L316.2 391.7 L314.7 391.4 L313.1 391.1 L311.5 390.6 L310 390.1 L308.4 389.3 L306.8 388.4 L305.3 387.4 L303.7 386.5 L302.1 385.5 L300.6 383.7 L299 381.9 L297.4 379.9 L295.9 378.4 L294.3 377 L292.7 375.6 L291.2 374.2 L289.6 372.8 L288 371.8 L286.5 370.8 L284.9 369.8 L283.4 368.7 L281.8 367.5 L280.2 366.4 L278.7 365.1 L277.1 363.8 L275.5 362.4 L274 360.8 L272.4 359.1 L270.8 357.3 L269.3 355.7 L267.7 354 L266.1 352.3 L264.6 350.7 L263 349.2Z" fill="#23898e" filter="url(#b2)"/>
<path d="M264 347.4 L265.5 348.5 L267.1 349.8 L268.6 351 L270.2 352.3 L271.7 353.6 L273.2 354.9 L274.8 356.1 L276.3 357.4 L277.9 358.5 L279.4 359.5 L280.9 360.5 L282.5 361.4 L284 362.3 L285.6 363.2 L287.1 364 L288.6 364.8 L290.2 365.6 L291.7 366.3 L293.3 367 L294.8 367.7 L296.3 368.3 L297.9 368.9 L299.4 369.5 L301 370.1 L302.5 370.6 L304 371.1 L305.6 371.5 L307.1 371.9 L308.7 372.3 L310.2 372.7 L311.7 373.1 L313.3 373.4 L314.8 373.6 L316.4 373.8 L317.9 373.9 L319.4 373.9 L321 373.7 L322.5 373.6 L324.1 373.6 L324.1 390.1 L322.5 390 L321 390.1 L319.4 390.1 L317.9 390.1 L316.4 389.9 L314.8 389.7 L313.3 389.3 L311.7 389 L310.2 388.5 L308.7 387.7 L307.1 386.7 L305.6 385.8 L304 384.8 L302.5 383.8 L301 382.1 L299.4 380 L297.9 378 L296.3 376.3 L294.8 375 L293.3 373.8 L291.7 372.5 L290.2 371.2 L288.6 370.3 L287.1 369.3 L285.6 368.4 L284 367.4 L282.5 366.3 L280.9 365.3 L279.4 364.1 L277.9 362.9 L276.3 361.7 L274.8 360.3 L273.2 358.7 L271.7 357.2 L270.2 355.6 L268.6 354.1 L267.1 352.5 L265.5 351 L264 349.6Z" fill="#35b779" filter="url(#b15)"/>
<path d="M266 348.9 L267.5 350.1 L269 351.3 L270.5 352.5 L272 353.8 L273.4 355 L274.9 356.3 L276.4 357.4 L277.9 358.5 L279.4 359.5 L280.9 360.5 L282.4 361.4 L283.9 362.2 L285.4 363.1 L286.8 363.9 L288.3 364.6 L289.8 365.4 L291.3 366.1 L292.8 366.8 L294.3 367.4 L295.8 368.1 L297.3 368.7 L298.7 369.3 L300.2 369.8 L301.7 370.3 L303.2 370.8 L304.7 371.3 L306.2 371.7 L307.7 372.1 L309.2 372.5 L310.7 372.8 L312.1 373.2 L313.6 373.5 L315.1 373.7 L316.6 373.8 L318.1 373.9 L319.6 373.9 L321.1 373.7 L322.6 373.6 L324.1 373.6 L324.1 389.1 L322.6 389 L321.1 389.1 L319.6 389.2 L318.1 389.1 L316.6 389 L315.1 388.8 L313.6 388.5 L312.1 387.7 L310.7 386.6 L309.2 385.5 L307.7 384 L306.2 382.4 L304.7 380.8 L303.2 379.4 L301.7 378 L300.2 376.6 L298.7 375.2 L297.3 374.1 L295.8 373.2 L294.3 372.3 L292.8 371.4 L291.3 370.5 L289.8 369.6 L288.3 368.7 L286.8 367.9 L285.4 367 L283.9 366.1 L282.4 365.2 L280.9 364.2 L279.4 363.2 L277.9 362.1 L276.4 360.9 L274.9 359.7 L273.4 358.2 L272 356.7 L270.5 355.2 L269 353.8 L267.5 352.4 L266 350.9Z" fill="#a5db36" filter="url(#b1)"/>
<path d="M268 350.5 L269.4 351.7 L270.9 352.9 L272.3 354.1 L273.7 355.3 L275.2 356.5 L276.6 357.6 L278.1 358.6 L279.5 359.6 L280.9 360.5 L282.4 361.4 L283.8 362.2 L285.2 363 L286.7 363.8 L288.1 364.5 L289.6 365.2 L291 365.9 L292.4 366.6 L293.9 367.2 L295.3 367.9 L296.7 368.5 L298.2 369.1 L299.6 369.6 L301.1 370.1 L302.5 370.6 L303.9 371 L305.4 371.5 L306.8 371.9 L308.2 372.2 L309.7 372.6 L311.1 372.9 L312.6 373.2 L314 373.5 L315.4 373.7 L316.9 373.8 L318.3 373.9 L319.7 373.9 L321.2 373.7 L322.6 373.6 L324.1 373.6 L324.1 387.8 L322.6 387.7 L321.2 387.7 L319.7 387.8 L318.3 387.7 L316.9 387.3 L315.4 386.7 L314 386 L312.6 384.5 L311.1 382.9 L309.7 381.3 L308.2 379.8 L306.8 378.3 L305.4 376.8 L303.9 375.7 L302.5 374.8 L301.1 373.9 L299.6 373 L298.2 372.2 L296.7 371.5 L295.3 370.8 L293.9 370.1 L292.4 369.4 L291 368.6 L289.6 367.8 L288.1 367.1 L286.7 366.3 L285.2 365.5 L283.8 364.6 L282.4 363.8 L280.9 362.9 L279.5 361.9 L278.1 360.9 L276.6 359.8 L275.2 358.7 L273.7 357.4 L272.3 356 L270.9 354.6 L269.4 353.3 L268 351.9Z" fill="#fbe723" filter="url(#b05)"/>
<path d="M266.1 348.6 L265.5 348.1 L264.7 347.3 L263.8 346.5 L262.7 345.6 L261.5 345 L260.2 344.6 L258.7 344.3 L257.1 344.1 L255.6 343.8 L254.1 343.6 L252.9 343.3 L251.7 343 L250.6 342.7 L249.4 342.5 L247.8 342.2 L245.8 341.9 L243.4 341.6 L240.9 341.3 L238.5 341.1 L236.4 341 L234.7 341 L233.3 341 L232 341.1 L230.8 341.3 L229.5 341.5 L228.2 341.8 L227.1 342.3 L225.8 342.8 L224.4 343.3 L222.7 343.6 L221.6 343.8 L221.2 344 L220.1 344.1 L216.8 344.1 L210.1 344.2 L197.6 344.3 L180.2 344.4 L161.3 344.4 L144.4 344.5 L132.9 344.5 L132.9 358.9 L144 358.9 L160.1 358.9 L178.4 358.9 L196 358.9 L210.1 358.9 L220.6 358.9 L229.3 358.9 L236.5 358.9 L242.6 358.9 L247.8 358.9 L251.8 358.9 L254.5 358.9 L256.3 358.8 L257.6 358.7 L259.1 358.6 L260.6 358.4 L261.9 358.2 L262.9 357.9 L263.8 357.6 L264.6 357.2 L265.3 356.7 L265.9 356 L266.4 355.3 L266.8 354.7 L267.1 354.3Z" fill="#483783" filter="url(#b05)"/>
<path d="M232 340.6 C232 340.2 234.5 339.3 236 339.2 C237.5 339.1 239.3 339.6 241 340 C242.7 340.4 246 341.2 246 341.6 C246 342 242.7 342.2 241 342.2 C239.3 342.2 237.5 341.9 236 341.6 C234.5 341.3 232 341 232 340.6Z" fill="#9bd93c" filter="url(#b05)"/>
</g>
<path d="M322.1 387.4 L320.4 387.6 L318 387.8 L315.2 388 L312.3 388.3 L309.5 388.5 L307.2 388.6 L305.4 388.6 L303.7 388.6 L302.3 388.6 L300.9 388.5 L299.6 388.3 L298.1 388.1 L296.6 387.8 L295.1 387.4 L293.6 387 L292 386.5 L290.5 386.1 L289 385.8 L288.2 385.6 L288.2 385.4 L288.2 385.3 L287.4 385.2 L284.8 385.1 L279.8 385.1 L271.8 385.1 L261.3 385.2 L249.2 385.3 L236.1 385.4 L222.9 385.5 L210.1 385.6 L196.8 385.7 L182.1 385.7 L167.1 385.7 L153.2 385.8 L141.4 385.8 L132.9 385.8" fill="none" stroke="#2b2b30" stroke-width="0.8"/>
<path d="M132.9 358.9 L144 358.9 L160.1 358.9 L178.4 358.9 L196 358.9 L210.1 358.9 L220.6 358.9 L229.3 358.9 L236.5 358.9 L242.6 358.9 L247.8 358.9 L251.8 358.9 L254.5 358.9 L256.3 358.8 L257.6 358.7 L259.1 358.6 L260.6 358.4 L261.9 358.2 L262.9 357.9 L263.8 357.6 L264.6 357.2 L265.3 356.7 L265.9 356 L266.4 355.3 L266.8 354.7 L267.1 354.3 L266.8 351.5 L265.1 348.5 L262.1 346" fill="none" stroke="#2b2b30" stroke-width="0.8"/>
</g>
<path d="M511.2 343.8 L502.1 343.8 L488.8 343.7 L473.4 343.7 L457.8 343.6 L444 343.6 L434 343.5 L428.1 343.4 L424.7 343.4 L423.1 343.3 L422.6 343.2 L422.3 343.1 L421.4 342.9 L420.2 342.7 L419.3 342.4 L418.6 342.1 L418 341.8 L417.5 341.5 L417 341.2 L416.5 341 L416.2 340.7 L416 340.5 L415.7 340.3 L415.2 340.1 L414.6 340 L413.8 339.9 L412.8 339.7 L411.7 339.6 L410.5 339.6 L409.2 339.6 L407.7 339.6 L406 339.7 L404 339.9 L402 340.2 L399.9 340.4 L398 340.7 L396.3 341 L395 341.3 L393.9 341.5 L392.9 341.8 L392 342.1 L391.1 342.4 L390 342.7 L388.8 343 L387.6 343.2 L386.3 343.4 L385.1 343.7 L383.8 344.1 L382.5 344.6 L381.2 345.2 L380 346 L378.7 346.8 L377.4 347.7 L376.2 348.7 L374.9 349.6 L373.6 350.6 L372.3 351.6 L371 352.6 L369.8 353.7 L368.5 354.7 L367.2 355.7 L365.9 356.7 L364.7 357.6 L363.5 358.5 L362.2 359.4 L361 360.3 L359.6 361.2 L358.2 362.1 L356.7 363 L355.1 363.8 L353.6 364.7 L352 365.5 L350.5 366.3 L349 367.1 L347.5 367.8 L346 368.5 L344.5 369.2 L342.9 369.9 L341.4 370.5 L339.8 371.2 L338.2 371.8 L336.6 372.4 L335 373 L333.4 373.6 L332 374 L330.6 374.4 L329.3 374.6 L328.1 374.9 L326.9 375 L325.9 375.1 L325 375.2 L324.2 375.2 L323.6 375.1 L323.1 375 L322.7 374.8 L322.3 374.7 L322.1 374.6" fill="none" stroke="#4a4a4a" stroke-width="0.8"/>
<path d="M132.9 344 L140.7 344 L152 344 L165.1 343.9 L178.5 343.9 L190.7 343.8 L200 343.8 L206.5 343.8 L211.4 343.7 L215 343.7 L217.8 343.6 L220 343.6 L222 343.5 L223.6 343.4 L224.4 343.3 L224.7 343.2 L224.7 343 L224.6 342.8 L224.8 342.6 L225.1 342.3 L225.4 342 L225.7 341.6 L225.9 341.2 L226.2 340.9 L226.5 340.6 L226.8 340.4 L227.2 340.2 L227.5 340 L228 339.9 L228.4 339.8 L229 339.7 L229.7 339.6 L230.5 339.5 L231.4 339.4 L232.3 339.4 L233.2 339.3 L234 339.3 L234.7 339.3 L235.4 339.3 L236.1 339.4 L236.8 339.4 L237.5 339.5 L238.3 339.6 L239.2 339.7 L240.1 339.9 L241.1 340.1 L242 340.3 L243 340.6 L244 340.8 L245 341.1 L246 341.4 L246.9 341.7 L247.9 342 L248.8 342.3 L249.7 342.6 L250.5 342.9 L251.1 343.1 L251.7 343.3 L252.4 343.6 L253.1 343.9 L254 344.2 L255.1 344.5 L256.3 344.9 L257.6 345.2 L258.9 345.7 L260.3 346.2 L261.6 346.8 L262.9 347.6 L264.1 348.4 L265.4 349.4 L266.7 350.4 L267.9 351.5 L269.2 352.5 L270.5 353.5 L271.8 354.6 L273.1 355.7 L274.3 356.8 L275.6 357.8 L276.9 358.8 L278.2 359.7 L279.4 360.5 L280.6 361.3 L281.9 362.1 L283.2 362.8 L284.5 363.6 L285.9 364.4 L287.3 365.1 L288.8 365.9 L290.3 366.6 L291.8 367.3 L293.3 368 L294.8 368.7 L296.3 369.3 L297.8 369.9 L299.3 370.5 L300.9 371.1 L302.5 371.6 L304.2 372.1 L306 372.6 L307.9 373.1 L309.7 373.6 L311.3 374 L312.8 374.3 L314 374.5 L315.1 374.7 L316.1 374.8 L316.9 374.8 L317.7 374.9 L318.5 374.9 L319.3 374.9 L320 374.9 L320.6 374.8 L321.2 374.7 L321.7 374.6 L322.1 374.6" fill="none" stroke="#2b2b30" stroke-width="0.9"/>
<path d="M416.1 340.4 L416.2 339.5 L416.4 338.3 L416.6 337 L416.9 335.4 L417.3 333.8 L417.8 332 L418.5 330.1 L419.5 328.2 L420.5 326 L421.7 323.4 L423 320.4 L424.3 316.8 L425.6 312.4 L427.1 307.1 L428.7 301.4 L430.2 295.7 L431.5 290.5 L432.5 286.2 L433.2 283.1 L433.6 281 L433.8 279.3 L433.9 277.6 L434.1 275.7 L434.5 272.8 L435 268.5 L435.7 263.2 L436.4 257.5 L437.1 251.9 L437.7 247.1 L438.1 243.8 L433.3 243.2 L432.9 246.6 L432.4 251.3 L431.7 256.9 L431.1 262.6 L430.4 268 L429.9 272.2 L429.6 275.2 L429.4 277.2 L429.3 278.8 L429.1 280.2 L428.7 282.2 L428.1 285.2 L427.1 289.4 L425.9 294.6 L424.5 300.3 L423 306 L421.6 311.2 L420.3 315.6 L419.2 319 L418.1 321.9 L417.1 324.4 L416.1 326.6 L415.1 328.7 L414.4 330.8 L413.8 332.9 L413.5 334.8 L413.3 336.5 L413.1 338 L413 339.1 L412.9 340Z" fill="#e96714" stroke="#6a3210" stroke-width="0.8"/>
<path d="M228 340.4 L227.9 339.5 L227.7 338.3 L227.5 337 L227.2 335.4 L226.8 333.8 L226.3 332 L225.6 330.1 L224.6 328.2 L223.6 326 L222.4 323.4 L221.1 320.4 L219.8 316.8 L218.5 312.4 L217 307.1 L215.4 301.4 L213.9 295.7 L212.6 290.5 L211.6 286.2 L210.9 283.1 L210.5 281 L210.3 279.3 L210.2 277.6 L210 275.7 L209.6 272.8 L209.1 268.5 L208.4 263.2 L207.7 257.5 L207 251.9 L206.4 247.1 L206 243.8 L210.8 243.2 L211.2 246.6 L211.7 251.3 L212.4 256.9 L213 262.6 L213.7 268 L214.2 272.2 L214.5 275.2 L214.7 277.2 L214.8 278.8 L215 280.2 L215.4 282.2 L216 285.2 L217 289.4 L218.2 294.6 L219.6 300.3 L221.1 306 L222.5 311.2 L223.8 315.6 L224.9 319 L226 321.9 L227 324.4 L228 326.6 L229 328.7 L229.7 330.8 L230.3 332.9 L230.6 334.8 L230.8 336.5 L231 338 L231.1 339.1 L231.2 340Z" fill="url(#cuB)" stroke="#1a2448" stroke-width="1.1"/>
<path d="M319.9 375 L320.1 366 L320.8 360.5 L323.4 360.5 L324.1 366 L324.2 375Z" fill="#3a3040" stroke="#222" stroke-width="0.5"/>
<path d="M320.9 372 L321.1 363.5 L322.1 363 L322.1 372Z" fill="#3a7a80"/>
<path d="M322.1 372 L322.1 363 L323.1 363.5 L323.2 372Z" fill="#d9752a"/>
<rect x="253.9" y="249" width="1.6" height="1.6" fill="#34345a"/>
<rect x="388.6" y="249" width="1.6" height="1.6" fill="#e08a4a"/>
<rect x="256.3" y="311.7" width="1.6" height="1.6" fill="#34345a"/>
<rect x="386.2" y="311.7" width="1.6" height="1.6" fill="#e08a4a"/>
<rect x="285.9" y="311.1" width="1.6" height="1.6" fill="#34345a"/>
<rect x="356.6" y="311.1" width="1.6" height="1.6" fill="#e08a4a"/>
<rect x="267.6" y="325.2" width="1.6" height="1.6" fill="#34345a"/>
<rect x="374.9" y="325.2" width="1.6" height="1.6" fill="#e08a4a"/>
<rect x="269.1" y="330.6" width="1.6" height="1.6" fill="#34345a"/>
<rect x="373.4" y="330.6" width="1.6" height="1.6" fill="#e08a4a"/>
<rect x="263" y="335.8" width="1.6" height="1.6" fill="#34345a"/>
<rect x="379.5" y="335.8" width="1.6" height="1.6" fill="#e08a4a"/>
<rect x="303.5" y="332.8" width="1.6" height="1.6" fill="#34345a"/>
<rect x="339" y="332.8" width="1.6" height="1.6" fill="#e08a4a"/>
<rect x="315.4" y="343.7" width="1.6" height="1.6" fill="#34345a"/>
<rect x="327.1" y="343.7" width="1.6" height="1.6" fill="#e08a4a"/>
<rect x="274.6" y="349.8" width="1.6" height="1.6" fill="#34345a"/>
<rect x="367.9" y="349.8" width="1.6" height="1.6" fill="#e08a4a"/>
<rect x="309.6" y="355" width="1.6" height="1.6" fill="#34345a"/>
<rect x="332.9" y="355" width="1.6" height="1.6" fill="#e08a4a"/>
<rect x="281.3" y="357.4" width="1.6" height="1.6" fill="#34345a"/>
<rect x="361.2" y="357.4" width="1.6" height="1.6" fill="#e08a4a"/>
<rect x="288.9" y="359.6" width="1.6" height="1.6" fill="#34345a"/>
<rect x="353.6" y="359.6" width="1.6" height="1.6" fill="#e08a4a"/>
<rect x="307.2" y="367.2" width="1.6" height="1.6" fill="#34345a"/>
<rect x="335.3" y="367.2" width="1.6" height="1.6" fill="#e08a4a"/>
<rect x="318.8" y="353.5" width="1.6" height="1.6" fill="#34345a"/>
<rect x="323.7" y="353.5" width="1.6" height="1.6" fill="#e08a4a"/>
<rect x="321.2" y="249.1" width="1.8" height="1.8" fill="#c8d84a"/>
<rect x="321.4" y="275" width="1.4" height="1.4" fill="#b0b0c0"/>
<rect x="321.2" y="279.6" width="1.8" height="1.8" fill="#55557a"/>
<rect x="321.2" y="312.2" width="1.8" height="1.8" fill="#44446a"/>
<rect x="321.4" y="340.8" width="1.4" height="1.4" fill="#8888a0"/>
</g>
<rect x="62.6" y="244.4" width="19.4" height="163.4" fill="url(#vir)" stroke="#3a3a3a" stroke-width="0.8"/>
<line x1="59.2" x2="62.6" y1="407.8" y2="407.8" stroke="#3a3a3a" stroke-width="0.8"/>
<text x="56.5" y="412.1" text-anchor="end" class="tk">0</text>
<line x1="59.2" x2="62.6" y1="380.6" y2="380.6" stroke="#3a3a3a" stroke-width="0.8"/>
<text x="56.5" y="384.8" text-anchor="end" class="tk">200</text>
<line x1="59.2" x2="62.6" y1="353.3" y2="353.3" stroke="#3a3a3a" stroke-width="0.8"/>
<text x="56.5" y="357.6" text-anchor="end" class="tk">400</text>
<line x1="59.2" x2="62.6" y1="326.1" y2="326.1" stroke="#3a3a3a" stroke-width="0.8"/>
<text x="56.5" y="330.4" text-anchor="end" class="tk">600</text>
<line x1="59.2" x2="62.6" y1="298.9" y2="298.9" stroke="#3a3a3a" stroke-width="0.8"/>
<text x="56.5" y="303.1" text-anchor="end" class="tk">800</text>
<line x1="59.2" x2="62.6" y1="271.6" y2="271.6" stroke="#3a3a3a" stroke-width="0.8"/>
<text x="56.5" y="275.9" text-anchor="end" class="tk">1000</text>
<line x1="59.2" x2="62.6" y1="244.4" y2="244.4" stroke="#3a3a3a" stroke-width="0.8"/>
<text x="56.5" y="248.7" text-anchor="end" class="tk">1200</text>
<text transform="translate(23.8 326.1) rotate(-90)" text-anchor="middle" class="tk al">Temperature [C]</text>
<rect x="132.9" y="244.4" width="378.3" height="163.4" fill="none" stroke="#3a3a3a" stroke-width="0.9"/>
<line x1="129.4" x2="132.9" y1="395.2" y2="395.2" stroke="#3a3a3a" stroke-width="0.8"/>
<text x="125.7" y="399.5" text-anchor="end" class="tk">−40</text>
<line x1="129.4" x2="132.9" y1="370.1" y2="370.1" stroke="#3a3a3a" stroke-width="0.8"/>
<text x="125.7" y="374.3" text-anchor="end" class="tk">−20</text>
<line x1="129.4" x2="132.9" y1="345" y2="345" stroke="#3a3a3a" stroke-width="0.8"/>
<text x="125.7" y="349.2" text-anchor="end" class="tk">0</text>
<line x1="129.4" x2="132.9" y1="319.8" y2="319.8" stroke="#3a3a3a" stroke-width="0.8"/>
<text x="125.7" y="324.1" text-anchor="end" class="tk">20</text>
<line x1="129.4" x2="132.9" y1="294.7" y2="294.7" stroke="#3a3a3a" stroke-width="0.8"/>
<text x="125.7" y="298.9" text-anchor="end" class="tk">40</text>
<line x1="129.4" x2="132.9" y1="269.5" y2="269.5" stroke="#3a3a3a" stroke-width="0.8"/>
<text x="125.7" y="273.8" text-anchor="end" class="tk">60</text>
<line x1="129.4" x2="132.9" y1="244.4" y2="244.4" stroke="#3a3a3a" stroke-width="0.8"/>
<text x="125.7" y="248.7" text-anchor="end" class="tk">80</text>
<line x1="132.9" x2="132.9" y1="407.8" y2="411.3" stroke="#3a3a3a" stroke-width="0.8"/>
<text x="131.9" y="423.1" text-anchor="middle" class="tk">−150</text>
<line x1="195.9" x2="195.9" y1="407.8" y2="411.3" stroke="#3a3a3a" stroke-width="0.8"/>
<text x="194.9" y="423.1" text-anchor="middle" class="tk">−100</text>
<line x1="259" x2="259" y1="407.8" y2="411.3" stroke="#3a3a3a" stroke-width="0.8"/>
<text x="258" y="423.1" text-anchor="middle" class="tk">−50</text>
<line x1="322" x2="322" y1="407.8" y2="411.3" stroke="#3a3a3a" stroke-width="0.8"/>
<text x="322" y="423.1" text-anchor="middle" class="tk">0</text>
<line x1="385.1" x2="385.1" y1="407.8" y2="411.3" stroke="#3a3a3a" stroke-width="0.8"/>
<text x="385.1" y="423.1" text-anchor="middle" class="tk">50</text>
<line x1="448.1" x2="448.1" y1="407.8" y2="411.3" stroke="#3a3a3a" stroke-width="0.8"/>
<text x="448.1" y="423.1" text-anchor="middle" class="tk">100</text>
<line x1="511.2" x2="511.2" y1="407.8" y2="411.3" stroke="#3a3a3a" stroke-width="0.8"/>
<text x="511.2" y="423.1" text-anchor="middle" class="tk">150</text>
<text x="322.1" y="437.6" text-anchor="middle" class="tk al">r [km]</text>
<text transform="translate(97.2 326.1) rotate(-90)" text-anchor="middle" class="tk al">z [km]</text>
<text x="342.1" y="238.2" text-anchor="end" class="tt">170 s</text>
<text x="1.6" y="439.6" class="lb">b.</text>
<g clip-path="url(#cfc)">
<g clip-path="url(#crc)">
<path d="M322.4 633.7 L512.4 633.7 L512.4 570.2 L509.4 570.2 L505.4 570.2 L500.6 570.2 L495.2 570.2 L489.6 570.1 L484 570 L478 569.8 L471.3 569.6 L464.4 569.4 L457.5 569.1 L451.3 568.9 L446 568.7 L441.8 568.5 L438.4 568.3 L435.5 568.2 L433 568 L430.5 567.9 L428 567.9 L425.4 567.9 L422.8 568 L420.3 568.1 L418 568.3 L415.9 568.4 L414 568.6 L412.4 568.7 L411.1 568.9 L410.1 569 L409.1 569.2 L408.1 569.4 L407 569.6 L405.8 569.8 L404.7 570.1 L403.5 570.4 L402.3 570.6 L401.2 571 L400 571.3 L398.8 571.7 L397.7 572 L396.6 572.5 L395.4 572.9 L394.2 573.3 L393 573.8 L391.7 574.3 L390.4 574.8 L389.1 575.4 L387.7 575.9 L386.3 576.5 L385 577 L383.7 577.5 L382.4 578.1 L381.1 578.6 L379.7 579.1 L378.4 579.6 L377 580 L375.5 580.4 L374 580.8 L372.5 581.1 L371 581.5 L369.5 581.7 L368 582 L366.6 582.2 L365.3 582.4 L363.9 582.5 L362.6 582.6 L361.3 582.7 L360 582.8 L358.7 582.9 L357.3 582.9 L356 583 L354.7 583 L353.3 582.9 L352 582.8 L350.6 582.6 L349.3 582.4 L347.9 582.2 L346.5 581.8 L345.2 581.5 L344 581 L342.8 580.5 L341.8 579.9 L340.7 579.2 L339.7 578.5 L338.7 577.7 L337.8 576.8 L336.9 575.8 L336 574.8 L335.1 573.7 L334.2 572.5 L333.4 571.3 L332.7 570 L332 568.7 L331.4 567.4 L330.8 566 L330.2 564.5 L329.7 563 L329.2 561.4 L328.8 559.6 L328.4 557.8 L328 555.8 L327.7 553.8 L327.5 551.9 L327.2 550 L327 548.4 L326.8 547 L326.6 545.7 L326.4 544.2 L326.3 542.3 L326.1 540 L325.9 537 L325.7 533.6 L325.6 529.8 L325.4 525.9 L325.2 521.9 L325.1 518 L325 514.3 L324.8 510.6 L324.7 506.8 L324.6 503 L324.5 499.1 L324.4 495 L324.3 490.4 L324.2 485.3 L324.1 480.1 L324 475.1 L324 471 L323.9 468 L322.4 468Z" fill="#fdf9f0"/>
<path d="M345 591.9 L347.1 592.2 L349.2 592.5 L351.4 592.7 L353.5 593.2 L355.6 594.1 L357.7 595.2 L359.8 595.9 L362 596.1 L364.1 596.3 L366.2 596.5 L368.3 596.6 L370.4 596.2 L372.5 595.8 L374.7 595.4 L376.8 595 L378.9 594.6 L381 594 L383.1 593.2 L385.3 592.5 L387.4 591.7 L389.5 591.2 L391.6 591 L393.7 590.8 L395.9 590.6 L398 590.4 L400.1 590.3 L402.2 590.4 L404.3 590.5 L406.5 590.6 L408.6 590.8 L410.7 590.9 L412.8 591 L414.9 591.1 L417 591.2 L419.2 591.2 L421.3 591.2 L423.4 591.3 L425.5 591.3 L427.6 591.3 L429.8 591.3 L431.9 591.3 L434 591.3 L436.1 591.3 L438.2 591.3 L440.4 591.4 L442.5 591.4 L444.6 591.4 L446.7 591.4 L448.8 591.4 L450.9 591.4 L453.1 591.4 L455.2 591.4 L457.3 591.4 L459.4 591.4 L461.5 591.4 L463.7 591.4 L465.8 591.4 L467.9 591.5 L470 591.5 L472.1 591.5 L474.3 591.5 L476.4 591.5 L478.5 591.5 L480.6 591.5 L482.7 591.5 L484.9 591.5 L487 591.5 L489.1 591.5 L491.2 591.5 L493.3 591.5 L495.4 591.5 L497.6 591.5 L499.7 591.5 L501.8 591.5 L503.9 591.6 L506 591.6 L508.2 591.6 L510.3 591.6 L512.4 591.6" fill="none" stroke="#bfb4ab" stroke-width="1"/>
<path d="M345 597.5 L347.1 597.6 L349.2 597.7 L351.4 597.7 L353.5 597.9 L355.6 598.5 L357.7 599.3 L359.8 599.8 L362 600 L364.1 600.1 L366.2 600.3 L368.3 600.3 L370.4 600.1 L372.5 599.8 L374.7 599.5 L376.8 599.2 L378.9 598.9 L381 598.4 L383.1 597.8 L385.3 597.3 L387.4 596.7 L389.5 596.4 L391.6 596.2 L393.7 596.1 L395.9 596 L398 595.8 L400.1 595.7 L402.2 595.8 L404.3 595.9 L406.5 596 L408.6 596.1 L410.7 596.2 L412.8 596.3 L414.9 596.4 L417 596.5 L419.2 596.5 L421.3 596.5 L423.4 596.5 L425.5 596.5 L427.6 596.6 L429.8 596.6 L431.9 596.6 L434 596.6 L436.1 596.6 L438.2 596.6 L440.4 596.6 L442.5 596.6 L444.6 596.7 L446.7 596.7 L448.8 596.7 L450.9 596.7 L453.1 596.7 L455.2 596.7 L457.3 596.7 L459.4 596.7 L461.5 596.7 L463.7 596.7 L465.8 596.7 L467.9 596.7 L470 596.7 L472.1 596.7 L474.3 596.7 L476.4 596.7 L478.5 596.7 L480.6 596.8 L482.7 596.8 L484.9 596.8 L487 596.8 L489.1 596.8 L491.2 596.8 L493.3 596.8 L495.4 596.8 L497.6 596.8 L499.7 596.8 L501.8 596.8 L503.9 596.8 L506 596.8 L508.2 596.8 L510.3 596.8 L512.4 596.8" fill="none" stroke="#bfb4ab" stroke-width="1"/>
<path d="M345 603.1 L347.1 603 L349.2 602.9 L351.4 602.7 L353.5 602.6 L355.6 602.9 L357.7 603.4 L359.8 603.7 L362 603.8 L364.1 603.9 L366.2 604 L368.3 604.1 L370.4 603.9 L372.5 603.7 L374.7 603.5 L376.8 603.3 L378.9 603.1 L381 602.8 L383.1 602.5 L385.3 602.1 L387.4 601.8 L389.5 601.5 L391.6 601.4 L393.7 601.4 L395.9 601.3 L398 601.2 L400.1 601.1 L402.2 601.2 L404.3 601.3 L406.5 601.4 L408.6 601.5 L410.7 601.5 L412.8 601.6 L414.9 601.7 L417 601.7 L419.2 601.8 L421.3 601.8 L423.4 601.8 L425.5 601.8 L427.6 601.8 L429.8 601.8 L431.9 601.9 L434 601.9 L436.1 601.9 L438.2 601.9 L440.4 601.9 L442.5 601.9 L444.6 601.9 L446.7 601.9 L448.8 601.9 L450.9 602 L453.1 602 L455.2 602 L457.3 602 L459.4 602 L461.5 602 L463.7 602 L465.8 602 L467.9 602 L470 602 L472.1 602 L474.3 602 L476.4 602 L478.5 602 L480.6 602 L482.7 602 L484.9 602 L487 602 L489.1 602 L491.2 602 L493.3 602 L495.4 602 L497.6 602 L499.7 602 L501.8 602 L503.9 602 L506 602 L508.2 602 L510.3 602 L512.4 602" fill="none" stroke="#bfb4ab" stroke-width="1"/>
<path d="M345 608.6 L347.1 608.3 L349.2 607.9 L351.4 607.5 L353.5 607.2 L355.6 607.1 L357.7 607.3 L359.8 607.5 L362 607.5 L364.1 607.6 L366.2 607.7 L368.3 607.7 L370.4 607.6 L372.5 607.5 L374.7 607.5 L376.8 607.4 L378.9 607.3 L381 607.2 L383.1 607 L385.3 606.8 L387.4 606.7 L389.5 606.6 L391.6 606.5 L393.7 606.5 L395.9 606.5 L398 606.5 L400.1 606.4 L402.2 606.5 L404.3 606.5 L406.5 606.6 L408.6 606.7 L410.7 606.7 L412.8 606.8 L414.9 606.8 L417 606.8 L419.2 606.9 L421.3 606.9 L423.4 606.9 L425.5 606.9 L427.6 607 L429.8 607 L431.9 607 L434 607 L436.1 607 L438.2 607 L440.4 607.1 L442.5 607.1 L444.6 607.1 L446.7 607.1 L448.8 607.1 L450.9 607.1 L453.1 607.1 L455.2 607.1 L457.3 607.1 L459.4 607.1 L461.5 607.1 L463.7 607.1 L465.8 607.1 L467.9 607.1 L470 607.1 L472.1 607.1 L474.3 607.1 L476.4 607.1 L478.5 607.1 L480.6 607.1 L482.7 607.1 L484.9 607.1 L487 607.1 L489.1 607.1 L491.2 607.1 L493.3 607.1 L495.4 607.1 L497.6 607.1 L499.7 607.1 L501.8 607.1 L503.9 607.1 L506 607.1 L508.2 607.1 L510.3 607.1 L512.4 607.1" fill="none" stroke="#bfb4ab" stroke-width="1"/>
<path d="M329 566 C329.3 567.3 330 571.5 331 574 C332 576.5 333.3 579.1 335 581 C336.7 582.9 338.7 584.3 341 585.5 C343.3 586.7 346.3 586.9 349 588 C351.7 589.1 355.7 591.3 357 592" fill="none" stroke="#a0968c" stroke-width="0.8"/>
<path d="M327 578 C327.3 579.2 328 583 329 585 C330 587 331.3 588.8 333 590 C334.7 591.2 336.8 591.5 339 592 C341.2 592.5 343.7 592.2 346 593 C348.3 593.8 350.7 595.7 353 596.5 C355.3 597.3 358.8 597.8 360 598" fill="none" stroke="#a0968c" stroke-width="0.8"/>
<path d="M330 596 C330.7 596.3 332.7 597.9 334 598 C335.3 598.1 337.7 597.2 338 596.5 C338.3 595.8 336.3 594 336 593.5" fill="none" stroke="#a0968c" stroke-width="0.8"/>
<path d="M328 604 C328.7 604.5 330.3 606.4 332 607 C333.7 607.6 336.2 607.8 338 607.5 C339.8 607.2 341.3 605.8 343 605 C344.7 604.2 346.2 603.2 348 603 C349.8 602.8 352 603.5 354 603.5 C356 603.5 359 603.1 360 603" fill="none" stroke="#a0968c" stroke-width="0.8"/>
<path d="M340 599.5 C340.8 599.2 343.5 598 345 598 C346.5 598 348.8 598.9 349 599.5 C349.2 600.1 346.5 601.2 346 601.5" fill="none" stroke="#a0968c" stroke-width="0.8"/>
<path d="M327 590 C327.2 590.7 327.8 593 328.5 594 C329.2 595 330.6 595.7 331 596" fill="none" stroke="#a0968c" stroke-width="0.8"/>
<path d="M333 602 C333.7 602.2 335.7 603.5 337 603.5 C338.3 603.5 340.3 602.2 341 602" fill="none" stroke="#a0968c" stroke-width="0.8"/>
<path d="M354.5 584 L355.2 583.9 L356.2 583.9 L357.4 583.8 L358.7 583.6 L360 583.5 L361.4 583.4 L363 583.2 L364.6 583.1 L366.3 582.9 L368 582.6 L369.8 582.3 L371.6 581.9 L373.4 581.5 L375.2 581.1 L377 580.6 L378.7 580.1 L380.3 579.5 L381.8 578.9 L383.4 578.2 L385 577.6 L386.6 577 L388.2 576.3 L389.9 575.6 L391.5 575 L393 574.4 L394.5 573.8 L395.9 573.3 L397.2 572.8 L398.6 572.3 L400 571.9 L401.4 571.5 L402.8 571.1 L404.2 570.8 L405.6 570.5 L407 570.2 L408.3 570 L409.5 569.7 L410.7 569.5 L412.2 569.4 L414 569.2 L416.3 569 L418.9 568.8 L421.8 568.7 L424.8 568.5 L428 568.5 L431 568.6 L434 568.7 L437.2 568.9 L441.1 569.1 L446 569.3 L452.5 569.5 L460.2 569.8 L468.5 570.1 L476.7 570.4 L484 570.6 L490.7 570.7 L497.4 570.8 L503.5 570.8 L508.7 570.8 L512.4 570.8 L512.4 584.7 L501.8 584.7 L486.3 584.7 L469 584.7 L452.5 584.7 L440 584.7 L432 584.6 L426.5 584.6 L422.7 584.5 L419.5 584.4 L416 584.3 L412.2 584.2 L408.8 584.2 L405.7 584.1 L402.8 584.1 L400 584.2 L397.4 584.3 L395 584.4 L392.8 584.6 L390.7 584.9 L388.6 585.3 L386.7 585.9 L384.9 586.6 L383.1 587.4 L381.3 588.2 L379.4 588.9 L377.2 589.6 L374.9 590.3 L372.5 591 L370.2 591.5 L368 591.8 L366 591.9 L364 591.8 L362.1 591.5 L360.4 591.2 L358.9 590.7 L357.5 590 L356.3 589.1 L355.3 588.1 L354.4 587.2 L353.8 586.6Z" fill="#e96714"/>
<path d="M372 584.4 L374.4 583.9 L376.8 583.3 L379.1 582.5 L381.5 581.7 L383.9 580.8 L386.3 579.8 L388.7 578.9 L391 578.1 L393.4 577.4 L395.8 576.8 L398.2 576.1 L400.6 575.5 L402.9 575.1 L405.3 574.7 L407.7 574.3 L410.1 574.1 L412.5 573.9 L414.8 573.7 L417.2 573.6 L419.6 573.6 L422 573.5 L424.4 573.4 L426.7 573.3 L429.1 573.3 L431.5 573.4 L433.9 573.5 L436.3 573.6 L438.6 573.7 L441 573.8 L443.4 573.8 L445.8 573.9 L448.1 574 L450.5 574 L452.9 574.1 L455.3 574.1 L457.7 574.2 L460 574.3 L462.4 574.3 L464.8 574.4 L467.2 574.4 L469.6 574.5 L471.9 574.5 L474.3 574.6 L476.7 574.7 L479.1 574.7 L481.5 574.8 L483.8 574.8 L486.2 574.8 L488.6 574.9 L491 574.9 L493.4 574.9 L495.7 574.9 L498.1 574.9 L500.5 574.9 L502.9 574.9 L505.3 574.9 L507.6 574.9 L510 575 L512.4 575" fill="none" stroke="#cf5a17" stroke-width="0.7" stroke-opacity="0.7"/>
<path d="M372 586.7 L374.4 586.1 L376.8 585.6 L379.1 584.8 L381.5 583.9 L383.9 583 L386.3 582.1 L388.7 581.2 L391 580.6 L393.4 580.1 L395.8 579.6 L398.2 579.1 L400.6 578.6 L402.9 578.4 L405.3 578.1 L407.7 577.9 L410.1 577.7 L412.5 577.6 L414.8 577.5 L417.2 577.4 L419.6 577.4 L422 577.4 L424.4 577.3 L426.7 577.3 L429.1 577.3 L431.5 577.4 L433.9 577.5 L436.3 577.5 L438.6 577.6 L441 577.7 L443.4 577.7 L445.8 577.8 L448.1 577.8 L450.5 577.8 L452.9 577.9 L455.3 577.9 L457.7 577.9 L460 578 L462.4 578 L464.8 578.1 L467.2 578.1 L469.6 578.1 L471.9 578.2 L474.3 578.2 L476.7 578.2 L479.1 578.3 L481.5 578.3 L483.8 578.4 L486.2 578.4 L488.6 578.4 L491 578.4 L493.4 578.4 L495.7 578.4 L498.1 578.4 L500.5 578.4 L502.9 578.4 L505.3 578.4 L507.6 578.4 L510 578.4 L512.4 578.4" fill="none" stroke="#cf5a17" stroke-width="0.7" stroke-opacity="0.7"/>
<path d="M372 589 L374.4 588.4 L376.8 587.8 L379.1 587.1 L381.5 586.2 L383.9 585.3 L386.3 584.4 L388.7 583.5 L391 583.1 L393.4 582.7 L395.8 582.4 L398.2 582 L400.6 581.7 L402.9 581.6 L405.3 581.5 L407.7 581.4 L410.1 581.4 L412.5 581.3 L414.8 581.3 L417.2 581.3 L419.6 581.3 L422 581.3 L424.4 581.3 L426.7 581.3 L429.1 581.3 L431.5 581.4 L433.9 581.4 L436.3 581.5 L438.6 581.5 L441 581.6 L443.4 581.6 L445.8 581.6 L448.1 581.6 L450.5 581.7 L452.9 581.7 L455.3 581.7 L457.7 581.7 L460 581.7 L462.4 581.7 L464.8 581.7 L467.2 581.8 L469.6 581.8 L471.9 581.8 L474.3 581.8 L476.7 581.8 L479.1 581.8 L481.5 581.9 L483.8 581.9 L486.2 581.9 L488.6 581.9 L491 581.9 L493.4 581.9 L495.7 581.9 L498.1 581.9 L500.5 581.9 L502.9 581.9 L505.3 581.9 L507.6 581.9 L510 581.9 L512.4 581.9" fill="none" stroke="#cf5a17" stroke-width="0.7" stroke-opacity="0.7"/>
<path d="M322.4 614 L323.7 614.1 L325.4 614.2 L327.4 614.4 L329.5 614.5 L331.7 614.7 L333.7 614.7 L335.6 614.7 L337.6 614.6 L339.5 614.5 L341.5 614.4 L343.3 614.2 L345.1 614 L346.7 613.7 L348.2 613.3 L349.7 612.8 L351.2 612.4 L352.7 612 L354.3 611.7 L355.3 611.5 L355.6 611.4 L355.9 611.3 L357.2 611.3 L360.1 611.3 L365.7 611.3 L374.5 611.4 L385.9 611.5 L399 611.7 L413 611.9 L427 612.1 L440 612.2 L453 612.3 L467 612.3 L480.8 612.3 L493.7 612.2 L504.5 612.2 L512.4 612.2 L512.4 633.7 L322.4 633.7Z" fill="#fdb875"/>
<path d="M322.4 619.4 L324.9 619.6 L327.3 619.7 L329.7 619.8 L332.1 619.9 L334.5 619.9 L336.9 619.9 L339.3 619.8 L341.7 619.7 L344.1 619.5 L346.5 619.2 L348.9 618.7 L351.3 618.2 L353.7 617.8 L356.1 617.4 L358.5 617.4 L360.9 617.4 L363.3 617.4 L365.7 617.4 L368.1 617.4 L370.5 617.4 L372.9 617.5 L375.3 617.5 L377.8 617.5 L380.2 617.5 L382.6 617.5 L385 617.6 L387.4 617.6 L389.8 617.6 L392.2 617.6 L394.6 617.7 L397 617.7 L399.4 617.7 L401.8 617.7 L404.2 617.8 L406.6 617.8 L409 617.8 L411.4 617.8 L413.8 617.9 L416.2 617.9 L418.6 617.9 L421 617.9 L423.4 618 L425.8 618 L428.2 618 L430.6 618 L433.1 618 L435.5 618 L437.9 618.1 L440.3 618.1 L442.7 618.1 L445.1 618.1 L447.5 618.1 L449.9 618.1 L452.3 618.1 L454.7 618.1 L457.1 618.1 L459.5 618.1 L461.9 618.1 L464.3 618.1 L466.7 618.1 L469.1 618.1 L471.5 618.1 L473.9 618.1 L476.3 618.1 L478.7 618.1 L481.1 618.1 L483.5 618.1 L486 618.1 L488.4 618.1 L490.8 618.1 L493.2 618.1 L495.6 618.1 L498 618.1 L500.4 618.1 L502.8 618.1 L505.2 618.1 L507.6 618.1 L510 618.1 L512.4 618.1" fill="none" stroke="#d99869" stroke-width="1"/>
<path d="M322.4 623.9 L324.9 624 L327.3 624.1 L329.7 624.2 L332.1 624.2 L334.5 624.3 L336.9 624.2 L339.3 624.2 L341.7 624.1 L344.1 623.9 L346.5 623.7 L348.9 623.4 L351.3 623 L353.7 622.7 L356.1 622.4 L358.5 622.4 L360.9 622.4 L363.3 622.4 L365.7 622.4 L368.1 622.4 L370.5 622.4 L372.9 622.4 L375.3 622.5 L377.8 622.5 L380.2 622.5 L382.6 622.5 L385 622.5 L387.4 622.5 L389.8 622.6 L392.2 622.6 L394.6 622.6 L397 622.6 L399.4 622.6 L401.8 622.7 L404.2 622.7 L406.6 622.7 L409 622.7 L411.4 622.7 L413.8 622.7 L416.2 622.8 L418.6 622.8 L421 622.8 L423.4 622.8 L425.8 622.8 L428.2 622.8 L430.6 622.8 L433.1 622.9 L435.5 622.9 L437.9 622.9 L440.3 622.9 L442.7 622.9 L445.1 622.9 L447.5 622.9 L449.9 622.9 L452.3 622.9 L454.7 622.9 L457.1 622.9 L459.5 622.9 L461.9 622.9 L464.3 622.9 L466.7 622.9 L469.1 622.9 L471.5 622.9 L473.9 622.9 L476.3 622.9 L478.7 622.9 L481.1 622.9 L483.5 622.9 L486 622.9 L488.4 622.9 L490.8 622.9 L493.2 622.9 L495.6 622.9 L498 622.9 L500.4 622.9 L502.8 622.9 L505.2 622.9 L507.6 622.9 L510 622.9 L512.4 622.9" fill="none" stroke="#d99869" stroke-width="1"/>
<path d="M322.4 628.2 L324.9 628.3 L327.3 628.3 L329.7 628.4 L332.1 628.4 L334.5 628.5 L336.9 628.4 L339.3 628.4 L341.7 628.3 L344.1 628.3 L346.5 628.1 L348.9 627.9 L351.3 627.6 L353.7 627.5 L356.1 627.3 L358.5 627.3 L360.9 627.3 L363.3 627.3 L365.7 627.3 L368.1 627.3 L370.5 627.3 L372.9 627.3 L375.3 627.3 L377.8 627.3 L380.2 627.3 L382.6 627.3 L385 627.4 L387.4 627.4 L389.8 627.4 L392.2 627.4 L394.6 627.4 L397 627.4 L399.4 627.4 L401.8 627.4 L404.2 627.5 L406.6 627.5 L409 627.5 L411.4 627.5 L413.8 627.5 L416.2 627.5 L418.6 627.5 L421 627.5 L423.4 627.5 L425.8 627.5 L428.2 627.6 L430.6 627.6 L433.1 627.6 L435.5 627.6 L437.9 627.6 L440.3 627.6 L442.7 627.6 L445.1 627.6 L447.5 627.6 L449.9 627.6 L452.3 627.6 L454.7 627.6 L457.1 627.6 L459.5 627.6 L461.9 627.6 L464.3 627.6 L466.7 627.6 L469.1 627.6 L471.5 627.6 L473.9 627.6 L476.3 627.6 L478.7 627.6 L481.1 627.6 L483.5 627.6 L486 627.6 L488.4 627.6 L490.8 627.6 L493.2 627.6 L495.6 627.6 L498 627.6 L500.4 627.6 L502.8 627.6 L505.2 627.6 L507.6 627.6 L510 627.6 L512.4 627.6" fill="none" stroke="#d99869" stroke-width="1"/>
<path d="M322.4 632.2 L324.9 632.3 L327.3 632.3 L329.7 632.3 L332.1 632.3 L334.5 632.3 L336.9 632.3 L339.3 632.3 L341.7 632.3 L344.1 632.2 L346.5 632.2 L348.9 632.1 L351.3 632 L353.7 631.9 L356.1 631.8 L358.5 631.8 L360.9 631.8 L363.3 631.8 L365.7 631.8 L368.1 631.8 L370.5 631.8 L372.9 631.8 L375.3 631.8 L377.8 631.8 L380.2 631.8 L382.6 631.8 L385 631.8 L387.4 631.8 L389.8 631.8 L392.2 631.8 L394.6 631.9 L397 631.9 L399.4 631.9 L401.8 631.9 L404.2 631.9 L406.6 631.9 L409 631.9 L411.4 631.9 L413.8 631.9 L416.2 631.9 L418.6 631.9 L421 631.9 L423.4 631.9 L425.8 631.9 L428.2 631.9 L430.6 631.9 L433.1 631.9 L435.5 631.9 L437.9 631.9 L440.3 631.9 L442.7 631.9 L445.1 631.9 L447.5 631.9 L449.9 631.9 L452.3 631.9 L454.7 631.9 L457.1 631.9 L459.5 631.9 L461.9 631.9 L464.3 632 L466.7 632 L469.1 632 L471.5 632 L473.9 631.9 L476.3 631.9 L478.7 631.9 L481.1 631.9 L483.5 631.9 L486 631.9 L488.4 631.9 L490.8 631.9 L493.2 631.9 L495.6 631.9 L498 631.9 L500.4 631.9 L502.8 631.9 L505.2 631.9 L507.6 631.9 L510 631.9 L512.4 631.9" fill="none" stroke="#d99869" stroke-width="1"/>
<path d="M322.4 614 L323.7 614.1 L325.4 614.2 L327.4 614.4 L329.5 614.5 L331.7 614.7 L333.7 614.7 L335.6 614.7 L337.6 614.6 L339.5 614.5 L341.5 614.4 L343.3 614.2 L345.1 614 L346.7 613.7 L348.2 613.3 L349.7 612.8 L351.2 612.4 L352.7 612 L354.3 611.7 L355.3 611.5 L355.6 611.4 L355.9 611.3 L357.2 611.3 L360.1 611.3 L365.7 611.3 L374.5 611.4 L385.9 611.5 L399 611.7 L413 611.9 L427 612.1 L440 612.2 L453 612.3 L467 612.3 L480.8 612.3 L493.7 612.2 L504.5 612.2 L512.4 612.2" fill="none" stroke="#4a4038" stroke-width="0.8"/>
<path d="M354.5 584 L355.2 583.9 L356.2 583.9 L357.4 583.8 L358.7 583.6 L360 583.5 L361.4 583.4 L363 583.2 L364.6 583.1 L366.3 582.9 L368 582.6 L369.8 582.3 L371.6 581.9 L373.4 581.5 L375.2 581.1 L377 580.6 L378.7 580.1 L380.3 579.5 L381.8 578.9 L383.4 578.2 L385 577.6 L386.6 577 L388.2 576.3 L389.9 575.6 L391.5 575 L393 574.4 L394.5 573.8 L395.9 573.3 L397.2 572.8 L398.6 572.3 L400 571.9 L401.4 571.5 L402.8 571.1 L404.2 570.8 L405.6 570.5 L407 570.2 L408.3 570 L409.5 569.7 L410.7 569.5 L412.2 569.4 L414 569.2 L416.3 569 L418.9 568.8 L421.8 568.7 L424.8 568.5 L428 568.5 L431 568.6 L434 568.7 L437.2 568.9 L441.1 569.1 L446 569.3 L452.5 569.5 L460.2 569.8 L468.5 570.1 L476.7 570.4 L484 570.6 L490.7 570.7 L497.4 570.8 L503.5 570.8 L508.7 570.8 L512.4 570.8 L512.4 584.7 L501.8 584.7 L486.3 584.7 L469 584.7 L452.5 584.7 L440 584.7 L432 584.6 L426.5 584.6 L422.7 584.5 L419.5 584.4 L416 584.3 L412.2 584.2 L408.8 584.2 L405.7 584.1 L402.8 584.1 L400 584.2 L397.4 584.3 L395 584.4 L392.8 584.6 L390.7 584.9 L388.6 585.3 L386.7 585.9 L384.9 586.6 L383.1 587.4 L381.3 588.2 L379.4 588.9 L377.2 589.6 L374.9 590.3 L372.5 591 L370.2 591.5 L368 591.8 L366 591.9 L364 591.8 L362.1 591.5 L360.4 591.2 L358.9 590.7 L357.5 590 L356.3 589.1 L355.3 588.1 L354.4 587.2 L353.8 586.6Z" fill="none" stroke="#6a3a1a" stroke-width="0.6"/>
</g>
<g clip-path="url(#clc)"><g clip-path="url(#sCL)">
<rect x="132.5" y="469" width="190.9" height="164.7" fill="#483783"/>
<path d="M272 580 C275.2 577 289.3 582.3 296 580 C302.7 577.7 308 572.7 312 566 C316 559.3 317.8 547.7 320 540 C322.2 532.3 324.2 504.7 325 520 C325.8 535.3 328.2 614 325 632 C321.8 650 311.8 630.7 306 628 C300.2 625.3 294.8 621 290 616 C285.2 611 280 604 277 598 C274 592 268.8 583 272 580Z" fill="#3d4e8a" filter="url(#b4)"/>
<path d="M284 581 C286.2 578.2 295.2 582.5 300 580 C304.8 577.5 309.7 571.8 313 566 C316.3 560.2 318 551.8 320 545 C322 538.2 324.2 512.2 325 525 C325.8 537.8 327.8 606.3 325 622 C322.2 637.7 312.8 620.8 308 619 C303.2 617.2 299.5 614.7 296 611 C292.5 607.3 289 602 287 597 C285 592 281.8 583.8 284 581Z" fill="#2f6b8e" filter="url(#b3)"/>
<path d="M289 582 C291.2 580.5 298 582.3 302 580 C306 577.7 310 573.3 313 568 C316 562.7 318 554.7 320 548 C322 541.3 324.2 516.5 325 528 C325.8 539.5 327.3 602.3 325 617 C322.7 631.7 315 617.2 311 616 C307 614.8 304 612.8 301 610 C298 607.2 295 602.5 293 599 C291 595.5 289.7 591.8 289 589 C288.3 586.2 286.8 583.5 289 582Z" fill="#20938c" filter="url(#b2)"/>
<path d="M290 582 L290.9 581.9 L291.8 581.9 L292.6 581.8 L293.5 581.7 L294.4 581.6 L295.3 581.5 L296.2 581.3 L297.1 581.1 L297.9 580.9 L298.8 580.7 L299.7 580.4 L300.6 580.1 L301.5 579.7 L302.4 579.3 L303.2 578.8 L304.1 578.2 L305 577.6 L305.9 576.9 L306.8 576.1 L307.7 575.2 L308.6 574.2 L309.4 573.2 L310.3 572 L311.2 570.7 L312.1 569.2 L313 567.6 L313.9 565.7 L314.7 563.5 L315.6 560.7 L316.5 556.8 L317.4 556.8 L318.3 556.8 L319.1 556.8 L320 556.8 L320.9 556.8 L321.8 556.8 L322.7 556.8 L323.6 556.8 L324.4 556.8 L324.4 589.7 L323.6 588.6 L322.7 587.6 L321.8 586.5 L320.9 585.5 L320 584.4 L319.1 583.3 L318.3 582.3 L317.4 581.2 L316.5 580.2 L315.6 583 L314.7 584.6 L313.9 585.7 L313 586.5 L312.1 587.5 L311.2 588.3 L310.3 589 L309.4 589.5 L308.6 590 L307.7 590.4 L306.8 590.7 L305.9 590.9 L305 591.1 L304.1 591.2 L303.2 591.3 L302.4 591.2 L301.5 591.1 L300.6 591 L299.7 590.7 L298.8 590.4 L297.9 590 L297.1 589.6 L296.2 589.1 L295.3 588.7 L294.4 588.1 L293.5 587.5 L292.6 586.9 L291.8 586.3 L290.9 585.6 L290 585Z" fill="#3dbc74" filter="url(#b2)"/>
<path d="M292 581.9 L292.8 581.8 L293.7 581.7 L294.5 581.6 L295.3 581.5 L296.2 581.3 L297 581.2 L297.8 581 L298.7 580.8 L299.5 580.5 L300.3 580.2 L301.2 579.9 L302 579.5 L302.8 579.1 L303.6 578.6 L304.5 578 L305.3 577.4 L306.1 576.7 L307 575.9 L307.8 575.1 L308.6 574.1 L309.5 573.1 L310.3 572 L311.1 570.8 L312 569.4 L312.8 567.9 L313.6 566.2 L314.5 564.2 L315.3 561.8 L316.1 558.7 L317 556.8 L317.8 556.8 L318.6 556.8 L319.5 556.8 L320.3 556.8 L321.1 556.8 L322 556.8 L322.8 556.8 L323.6 556.8 L324.4 556.8 L324.4 585.7 L323.6 584.7 L322.8 583.7 L322 582.7 L321.1 581.7 L320.3 580.7 L319.5 579.7 L318.6 578.7 L317.8 577.7 L317 576.7 L316.1 577.7 L315.3 579.8 L314.5 581.3 L313.6 582.4 L312.8 583.3 L312 584.2 L311.1 585.1 L310.3 585.8 L309.5 586.4 L308.6 586.9 L307.8 587.3 L307 587.6 L306.1 587.9 L305.3 588.1 L304.5 588.2 L303.6 588.3 L302.8 588.4 L302 588.4 L301.2 588.3 L300.3 588.2 L299.5 588 L298.7 587.6 L297.8 587.2 L297 586.9 L296.2 586.4 L295.3 586 L294.5 585.5 L293.7 585 L292.8 584.4 L292 583.9Z" fill="#a2da38" filter="url(#b15)"/>
<path d="M302 609 C303.1 608.2 307.3 608.3 310 607.5 C312.7 606.7 315.5 605.2 318 604 C320.5 602.8 323.8 598.2 325 600 C326.2 601.8 327.2 612.1 325 614.5 C322.8 616.9 315.6 614.6 312 614.3 C308.4 614 305.2 613.4 303.5 612.5 C301.8 611.6 300.9 609.8 302 609Z" fill="#3dbc74" filter="url(#b2)"/>
<path d="M308 611.2 C308.3 610.3 312.2 610.2 315 609 C317.8 607.8 323.3 603.1 325 604 C326.7 604.9 327 612.6 325 614.3 C323 616 315.8 614.7 313 614.2 C310.2 613.7 307.7 612.1 308 611.2Z" fill="#9bd93c" filter="url(#b15)"/>
<path d="M312.5 575 C312.8 570 314.9 565.8 316 560 C317.1 554.2 318.2 548.3 319 540 C319.8 531.7 320 520 321 510 C322 500 324.3 462.7 325 480 C325.7 497.3 326.8 591.8 325 614 C323.2 636.2 316 615.5 314 613.5 C312 611.5 312.9 605.9 313 602 C313.1 598.1 314.6 594.5 314.5 590 C314.4 585.5 312.2 580 312.5 575Z" fill="#5ec962" filter="url(#b2)"/>
<path d="M315.5 575 L317.5 552 L318 466 L325 466 L325 614 L316.5 613.5 L315.6 600 L316.3 588Z" fill="#b8de29" filter="url(#b15)"/>
<path d="M319.2 596 C320.3 593.7 324 589 325 592 C326 595 325.9 610.4 325 614 C324.1 617.6 320.7 614.8 319.6 613.5 C318.5 612.2 318.7 608.9 318.6 606 C318.5 603.1 318.1 598.3 319.2 596Z" fill="#ece51b" filter="url(#b1)"/>
<path d="M297 596.5 C298.5 594.8 301.8 593.9 304 593.5 C306.2 593.1 308.5 593.2 310 594 C311.5 594.8 312.7 596.5 313 598 C313.3 599.5 312.9 601.6 312 603 C311.1 604.4 309.5 605.8 307.5 606.5 C305.5 607.2 302.1 607.9 300 607.5 C297.9 607.1 295.5 605.8 295 604 C294.5 602.2 295.5 598.2 297 596.5Z" fill="#2c728e" filter="url(#b2)" opacity="0.9"/>
<path d="M290.4 584 L289.7 583.9 L288.7 583.9 L287.5 583.8 L286.2 583.6 L284.9 583.5 L283.5 583.4 L281.9 583.2 L280.3 583.1 L278.6 582.9 L276.9 582.6 L275.1 582.3 L273.3 581.9 L271.5 581.5 L269.7 581.1 L267.9 580.6 L266.2 580.1 L264.6 579.5 L263.1 578.9 L261.5 578.2 L259.9 577.6 L258.3 577 L256.7 576.3 L255 575.6 L253.4 575 L251.9 574.4 L250.4 573.8 L249 573.3 L247.7 572.8 L246.3 572.3 L244.9 571.9 L243.5 571.5 L242.1 571.1 L240.7 570.8 L239.3 570.5 L237.9 570.2 L236.6 570 L235.4 569.7 L234.2 569.5 L232.7 569.4 L230.9 569.2 L228.6 569 L226 568.8 L223.1 568.7 L220.1 568.5 L216.9 568.5 L213.9 568.6 L210.9 568.7 L207.7 568.9 L203.8 569.1 L198.9 569.3 L192.4 569.5 L184.7 569.8 L176.4 570.1 L168.2 570.4 L160.9 570.6 L154.2 570.7 L147.5 570.8 L141.4 570.8 L136.2 570.8 L132.5 570.8 L132.5 584.7 L143.1 584.7 L158.6 584.7 L175.9 584.7 L192.4 584.7 L204.9 584.7 L212.9 584.6 L218.4 584.6 L222.2 584.5 L225.4 584.4 L228.9 584.3 L232.7 584.2 L236.1 584.2 L239.2 584.1 L242.1 584.1 L244.9 584.2 L247.5 584.3 L249.9 584.4 L252.1 584.6 L254.2 584.9 L256.3 585.3 L258.2 585.9 L260 586.6 L261.8 587.4 L263.6 588.2 L265.5 588.9 L267.7 589.6 L270 590.3 L272.4 591 L274.7 591.5 L276.9 591.8 L278.9 591.9 L280.9 591.8 L282.8 591.5 L284.5 591.2 L286 590.7 L287.4 590 L288.6 589.1 L289.6 588.1 L290.5 587.2 L291.1 586.6Z" fill="#483783" filter="url(#b05)"/>
</g>
<path d="M322.4 614 L321.2 614.1 L319.5 614.2 L317.5 614.4 L315.4 614.5 L313.2 614.7 L311.2 614.7 L309.3 614.7 L307.3 614.6 L305.4 614.5 L303.4 614.4 L301.6 614.2 L299.8 614 L298.2 613.7 L296.7 613.3 L295.2 612.8 L293.7 612.4 L292.2 612 L290.6 611.7 L289.6 611.5 L289.3 611.4 L289 611.3 L287.7 611.3 L284.8 611.3 L279.2 611.3 L270.4 611.4 L259 611.5 L245.9 611.7 L231.9 611.9 L217.9 612.1 L204.9 612.2 L191.9 612.3 L177.9 612.3 L164.1 612.3 L151.2 612.2 L140.4 612.2 L132.5 612.2" fill="none" stroke="#2b2b30" stroke-width="0.8"/>
<path d="M132.5 584.7 L143.1 584.7 L158.6 584.7 L175.9 584.7 L192.4 584.7 L204.9 584.7 L212.9 584.6 L218.4 584.6 L222.2 584.5 L225.4 584.4 L228.9 584.3 L232.7 584.2 L236.1 584.2 L239.2 584.1 L242.1 584.1 L244.9 584.2 L247.5 584.3 L249.9 584.4 L252.1 584.6 L254.2 584.9 L256.3 585.3 L258.2 585.9 L260 586.6 L261.8 587.4 L263.6 588.2 L265.5 588.9 L267.7 589.6 L270 590.3 L272.4 591 L274.7 591.5 L276.9 591.8 L278.9 591.9 L280.9 591.8 L282.8 591.5 L284.5 591.2 L286 590.7 L287.4 590 L288.6 589.1 L289.6 588.1 L290.5 587.2 L291.1 586.6 L289.9 584.4" fill="none" stroke="#2b2b30" stroke-width="0.8"/>
</g>
<path d="M512.4 570.2 L509.4 570.2 L505.4 570.2 L500.6 570.2 L495.2 570.2 L489.6 570.1 L484 570 L478 569.8 L471.3 569.6 L464.4 569.4 L457.5 569.1 L451.3 568.9 L446 568.7 L441.8 568.5 L438.4 568.3 L435.5 568.2 L433 568 L430.5 567.9 L428 567.9 L425.4 567.9 L422.8 568 L420.3 568.1 L418 568.3 L415.9 568.4 L414 568.6 L412.4 568.7 L411.1 568.9 L410.1 569 L409.1 569.2 L408.1 569.4 L407 569.6 L405.8 569.8 L404.7 570.1 L403.5 570.4 L402.3 570.6 L401.2 571 L400 571.3 L398.8 571.7 L397.7 572 L396.6 572.5 L395.4 572.9 L394.2 573.3 L393 573.8 L391.7 574.3 L390.4 574.8 L389.1 575.4 L387.7 575.9 L386.3 576.5 L385 577 L383.7 577.5 L382.4 578.1 L381.1 578.6 L379.7 579.1 L378.4 579.6 L377 580 L375.5 580.4 L374 580.8 L372.5 581.1 L371 581.5 L369.5 581.7 L368 582 L366.6 582.2 L365.3 582.4 L363.9 582.5 L362.6 582.6 L361.3 582.7 L360 582.8 L358.7 582.9 L357.3 582.9 L356 583 L354.7 583 L353.3 582.9 L352 582.8 L350.6 582.6 L349.3 582.4 L347.9 582.2 L346.5 581.8 L345.2 581.5 L344 581 L342.8 580.5 L341.8 579.9 L340.7 579.2 L339.7 578.5 L338.7 577.7 L337.8 576.8 L336.9 575.8 L336 574.8 L335.1 573.7 L334.2 572.5 L333.4 571.3 L332.7 570 L332 568.7 L331.4 567.4 L330.8 566 L330.2 564.5 L329.7 563 L329.2 561.4 L328.8 559.6 L328.4 557.8 L328 555.8 L327.7 553.8 L327.5 551.9 L327.2 550 L327 548.4 L326.8 547 L326.6 545.7 L326.4 544.2 L326.3 542.3 L326.1 540 L325.9 537 L325.7 533.6 L325.6 529.8 L325.4 525.9 L325.2 521.9 L325.1 518 L325 514.3 L324.8 510.6 L324.7 506.8 L324.6 503 L324.5 499.1 L324.4 495 L324.3 490.4 L324.2 485.3 L324.1 480.1 L324 475.1 L324 471 L323.9 468" fill="none" stroke="#4a4a4a" stroke-width="0.8"/>
<path d="M132.5 570.2 L135.5 570.2 L139.5 570.2 L144.3 570.2 L149.7 570.2 L155.3 570.1 L160.9 570 L166.9 569.8 L173.6 569.6 L180.5 569.4 L187.4 569.1 L193.6 568.9 L198.9 568.7 L203.1 568.5 L206.5 568.3 L209.4 568.2 L211.9 568 L214.4 567.9 L216.9 567.9 L219.5 567.9 L222.1 568 L224.6 568.1 L226.9 568.3 L229 568.4 L230.9 568.6 L232.5 568.7 L233.8 568.9 L234.8 569 L235.8 569.2 L236.8 569.4 L237.9 569.6 L239.1 569.8 L240.2 570.1 L241.4 570.4 L242.6 570.6 L243.7 571 L244.9 571.3 L246.1 571.7 L247.2 572 L248.3 572.5 L249.5 572.9 L250.7 573.3 L251.9 573.8 L253.2 574.3 L254.5 574.8 L255.8 575.4 L257.2 575.9 L258.6 576.5 L259.9 577 L261.2 577.5 L262.5 578.1 L263.8 578.6 L265.2 579.1 L266.5 579.6 L267.9 580 L269.4 580.4 L270.9 580.8 L272.4 581.1 L273.9 581.5 L275.4 581.7 L276.9 582 L278.3 582.2 L279.6 582.4 L281 582.5 L282.3 582.6 L283.6 582.7 L284.9 582.8 L286.2 582.9 L287.6 582.9 L288.9 583 L290.2 583 L291.6 582.9 L292.9 582.8 L294.3 582.6 L295.6 582.4 L297 582.2 L298.4 581.8 L299.7 581.5 L300.9 581 L302.1 580.5 L303.1 579.9 L304.2 579.2 L305.2 578.5 L306.2 577.7 L307.1 576.8 L308 575.8 L308.9 574.8 L309.8 573.7 L310.7 572.5 L311.5 571.3 L312.2 570 L312.9 568.7 L313.5 567.4 L314.1 566 L314.7 564.5 L315.2 563 L315.7 561.4 L316.1 559.6 L316.5 557.8 L316.9 555.8 L317.2 553.8 L317.4 551.9 L317.7 550 L317.9 548.4 L318.1 547 L318.3 545.7 L318.5 544.2 L318.6 542.3 L318.8 540 L319 537 L319.2 533.6 L319.3 529.8 L319.5 525.9 L319.7 521.9 L319.8 518 L319.9 514.3 L320.1 510.6 L320.2 506.8 L320.3 503 L320.4 499.1 L320.5 495 L320.6 490.4 L320.7 485.3 L320.8 480.1 L320.9 475.1 L320.9 471 L321 468" fill="none" stroke="#2b2b30" stroke-width="0.9"/>
<path d="M487.8 571.9 L508.5 479.5 L508.6 478.6 L508.2 477.8 L507.6 477.1 L506.8 476.8 L505.9 476.7 L505.1 477.1 L504.4 477.7 L504.1 478.5 L484.2 571.1Z" fill="#e96714" stroke="#8a3a10" stroke-width="0.6"/>
<path d="M160.7 571.1 L140.8 478.5 L140.5 477.7 L139.8 477.1 L139 476.7 L138.1 476.8 L137.3 477.1 L136.7 477.8 L136.3 478.6 L136.4 479.5 L157.1 571.9Z" fill="#1f9a9a" stroke="#1c3a4a" stroke-width="0.8"/>
<rect x="316" y="492.9" width="1.4" height="1.4" fill="#3a3a5a"/>
<rect x="327.5" y="492.9" width="1.4" height="1.4" fill="#eab08a"/>
<rect x="305.7" y="520.7" width="1.4" height="1.4" fill="#3a3a5a"/>
<rect x="337.8" y="520.7" width="1.4" height="1.4" fill="#eab08a"/>
<rect x="284.7" y="537.9" width="1.4" height="1.4" fill="#3a3a5a"/>
<rect x="358.8" y="537.9" width="1.4" height="1.4" fill="#eab08a"/>
<rect x="317.9" y="529.8" width="1.4" height="1.4" fill="#3a3a5a"/>
<rect x="325.6" y="529.8" width="1.4" height="1.4" fill="#eab08a"/>
<rect x="304.4" y="559.6" width="1.4" height="1.4" fill="#3a3a5a"/>
<rect x="339.1" y="559.6" width="1.4" height="1.4" fill="#eab08a"/>
<rect x="271.3" y="560.7" width="1.4" height="1.4" fill="#3a3a5a"/>
<rect x="372.2" y="560.7" width="1.4" height="1.4" fill="#eab08a"/>
<rect x="267.9" y="550.4" width="1.4" height="1.4" fill="#3a3a5a"/>
<rect x="375.6" y="550.4" width="1.4" height="1.4" fill="#eab08a"/>
</g>
<rect x="62.4" y="469" width="19.5" height="164.7" fill="url(#vir)" stroke="#3a3a3a" stroke-width="0.8"/>
<line x1="59" x2="62.4" y1="633.7" y2="633.7" stroke="#3a3a3a" stroke-width="0.8"/>
<text x="56.3" y="638" text-anchor="end" class="tk">0</text>
<line x1="59" x2="62.4" y1="606.2" y2="606.2" stroke="#3a3a3a" stroke-width="0.8"/>
<text x="56.3" y="610.5" text-anchor="end" class="tk">200</text>
<line x1="59" x2="62.4" y1="578.8" y2="578.8" stroke="#3a3a3a" stroke-width="0.8"/>
<text x="56.3" y="583.1" text-anchor="end" class="tk">400</text>
<line x1="59" x2="62.4" y1="551.4" y2="551.4" stroke="#3a3a3a" stroke-width="0.8"/>
<text x="56.3" y="555.6" text-anchor="end" class="tk">600</text>
<line x1="59" x2="62.4" y1="523.9" y2="523.9" stroke="#3a3a3a" stroke-width="0.8"/>
<text x="56.3" y="528.1" text-anchor="end" class="tk">800</text>
<line x1="59" x2="62.4" y1="496.4" y2="496.4" stroke="#3a3a3a" stroke-width="0.8"/>
<text x="56.3" y="500.7" text-anchor="end" class="tk">1000</text>
<line x1="59" x2="62.4" y1="469" y2="469" stroke="#3a3a3a" stroke-width="0.8"/>
<text x="56.3" y="473.2" text-anchor="end" class="tk">1200</text>
<text transform="translate(23.6 551.4) rotate(-90)" text-anchor="middle" class="tk al">Temperature [C]</text>
<rect x="132.5" y="469" width="379.9" height="164.7" fill="none" stroke="#3a3a3a" stroke-width="0.9"/>
<line x1="129" x2="132.5" y1="621" y2="621" stroke="#3a3a3a" stroke-width="0.8"/>
<text x="125.3" y="625.3" text-anchor="end" class="tk">−40</text>
<line x1="129" x2="132.5" y1="595.7" y2="595.7" stroke="#3a3a3a" stroke-width="0.8"/>
<text x="125.3" y="599.9" text-anchor="end" class="tk">−20</text>
<line x1="129" x2="132.5" y1="570.4" y2="570.4" stroke="#3a3a3a" stroke-width="0.8"/>
<text x="125.3" y="574.6" text-anchor="end" class="tk">0</text>
<line x1="129" x2="132.5" y1="545" y2="545" stroke="#3a3a3a" stroke-width="0.8"/>
<text x="125.3" y="549.3" text-anchor="end" class="tk">20</text>
<line x1="129" x2="132.5" y1="519.7" y2="519.7" stroke="#3a3a3a" stroke-width="0.8"/>
<text x="125.3" y="523.9" text-anchor="end" class="tk">40</text>
<line x1="129" x2="132.5" y1="494.3" y2="494.3" stroke="#3a3a3a" stroke-width="0.8"/>
<text x="125.3" y="498.6" text-anchor="end" class="tk">60</text>
<line x1="129" x2="132.5" y1="469" y2="469" stroke="#3a3a3a" stroke-width="0.8"/>
<text x="125.3" y="473.2" text-anchor="end" class="tk">80</text>
<line x1="132.5" x2="132.5" y1="633.7" y2="637.2" stroke="#3a3a3a" stroke-width="0.8"/>
<text x="131.5" y="649" text-anchor="middle" class="tk">−150</text>
<line x1="195.8" x2="195.8" y1="633.7" y2="637.2" stroke="#3a3a3a" stroke-width="0.8"/>
<text x="194.8" y="649" text-anchor="middle" class="tk">−100</text>
<line x1="259.1" x2="259.1" y1="633.7" y2="637.2" stroke="#3a3a3a" stroke-width="0.8"/>
<text x="258.1" y="649" text-anchor="middle" class="tk">−50</text>
<line x1="322.4" x2="322.4" y1="633.7" y2="637.2" stroke="#3a3a3a" stroke-width="0.8"/>
<text x="322.4" y="649" text-anchor="middle" class="tk">0</text>
<line x1="385.8" x2="385.8" y1="633.7" y2="637.2" stroke="#3a3a3a" stroke-width="0.8"/>
<text x="385.8" y="649" text-anchor="middle" class="tk">50</text>
<line x1="449.1" x2="449.1" y1="633.7" y2="637.2" stroke="#3a3a3a" stroke-width="0.8"/>
<text x="449.1" y="649" text-anchor="middle" class="tk">100</text>
<line x1="512.4" x2="512.4" y1="633.7" y2="637.2" stroke="#3a3a3a" stroke-width="0.8"/>
<text x="512.4" y="649" text-anchor="middle" class="tk">150</text>
<text x="322.4" y="663.5" text-anchor="middle" class="tk al">r [km]</text>
<text transform="translate(96.8 551.4) rotate(-90)" text-anchor="middle" class="tk al">z [km]</text>
<text x="342.1" y="462.8" text-anchor="end" class="tt">300 s</text>
<text x="1.6" y="665" class="lb">c.</text>
<g clip-path="url(#cfd)">
<g clip-path="url(#crd)">
<path d="M322.2 857 L511.1 857 L511.1 793.5 L507.9 793.5 L502.8 793.5 L496.7 793.5 L490.3 793.5 L484.5 793.5 L480 793.5 L476.2 793.4 L472.2 793.4 L468.1 793.2 L464.1 793.1 L460.4 793 L457.1 792.9 L453.6 792.8 L449.5 792.6 L445.2 792.3 L441 792.1 L437.2 792 L434.4 791.9 L432.2 791.9 L430.1 791.9 L428.1 792 L426.3 792.1 L424.6 792.3 L423 792.5 L421.3 792.8 L419.4 793.2 L417.3 793.7 L415.2 794.3 L413.3 794.8 L411.6 795.2 L409.9 795.7 L407.9 796.2 L405.7 796.8 L403.6 797.4 L401.7 797.9 L400.2 798.3 L398.8 798.6 L397.4 798.8 L395.9 799 L394.5 799.2 L393.2 799.3 L392 799.4 L390.8 799.5 L389.4 799.5 L388 799.5 L386.5 799.5 L385 799.4 L383.6 799.4 L382 799.3 L380.1 799.2 L378 799.1 L375.8 798.9 L373.8 798.8 L372.1 798.7 L370.4 798.7 L368.5 798.6 L366.4 798.6 L364.3 798.6 L362.4 798.6 L360.7 798.6 L359 798.6 L357.1 798.5 L355 798.4 L352.9 798.3 L351 798.3 L349.3 798.2 L347.6 798.1 L345.7 798 L343.6 797.9 L341.6 797.8 L339.6 797.7 L337.9 797.6 L336.1 797.5 L333.9 797.4 L331.5 797.3 L329.3 797.2 L327.3 797.2 L326 797.1 L325.2 797.1 L324.6 797.1 L324.1 797.1 L323.8 797.1 L323.6 797 L323.4 796.8 L323.2 796.4 L323.1 795.8 L323.1 795.1 L323 794.4 L323 793.8 L322.9 793.4 L322.8 793.2 L322.7 793.1 L322.5 793.1 L322.4 793.2 L322.3 793.2 L322.2 793.2Z" fill="#fdf9f0"/>
<path d="M341 811.6 L343.2 812.6 L345.3 813.7 L347.5 815.2 L349.6 816.6 L351.8 817.1 L353.9 817.7 L356.1 818.3 L358.2 819 L360.4 819.6 L362.5 819.7 L364.7 819.7 L366.8 819.7 L369 819.7 L371.1 819.7 L373.3 819.4 L375.5 818.8 L377.6 818.2 L379.8 817.6 L381.9 816.9 L384.1 816.3 L386.2 815.7 L388.4 815.2 L390.5 814.6 L392.7 814.5 L394.8 814.5 L397 814.4 L399.1 814.3 L401.3 814.3 L403.4 814.2 L405.6 814.1 L407.7 814.1 L409.9 814.1 L412.1 814.1 L414.2 814.2 L416.4 814.2 L418.5 814.2 L420.7 814.2 L422.8 814.2 L425 814.2 L427.1 814.2 L429.3 814.3 L431.4 814.3 L433.6 814.3 L435.7 814.3 L437.9 814.3 L440 814.3 L442.2 814.3 L444.4 814.3 L446.5 814.4 L448.7 814.4 L450.8 814.4 L453 814.4 L455.1 814.4 L457.3 814.4 L459.4 814.4 L461.6 814.4 L463.7 814.4 L465.9 814.5 L468 814.5 L470.2 814.5 L472.3 814.5 L474.5 814.5 L476.6 814.5 L478.8 814.5 L481 814.5 L483.1 814.5 L485.3 814.6 L487.4 814.6 L489.6 814.6 L491.7 814.6 L493.9 814.6 L496 814.6 L498.2 814.6 L500.3 814.6 L502.5 814.6 L504.6 814.6 L506.8 814.7 L508.9 814.7 L511.1 814.7" fill="none" stroke="#bfb4ab" stroke-width="1"/>
<path d="M341 818.3 L343.2 819.1 L345.3 819.7 L347.5 820.7 L349.6 821.6 L351.8 821.7 L353.9 822.2 L356.1 822.6 L358.2 823.1 L360.4 823.5 L362.5 823.6 L364.7 823.6 L366.8 823.6 L369 823.6 L371.1 823.6 L373.3 823.4 L375.5 822.9 L377.6 822.5 L379.8 822 L381.9 821.6 L384.1 821.1 L386.2 820.7 L388.4 820.2 L390.5 819.8 L392.7 819.8 L394.8 819.7 L397 819.7 L399.1 819.6 L401.3 819.6 L403.4 819.6 L405.6 819.5 L407.7 819.5 L409.9 819.5 L412.1 819.5 L414.2 819.6 L416.4 819.6 L418.5 819.6 L420.7 819.6 L422.8 819.6 L425 819.6 L427.1 819.6 L429.3 819.7 L431.4 819.7 L433.6 819.7 L435.7 819.7 L437.9 819.7 L440 819.7 L442.2 819.7 L444.4 819.7 L446.5 819.7 L448.7 819.8 L450.8 819.8 L453 819.8 L455.1 819.8 L457.3 819.8 L459.4 819.8 L461.6 819.8 L463.7 819.8 L465.9 819.8 L468 819.8 L470.2 819.8 L472.3 819.8 L474.5 819.9 L476.6 819.9 L478.8 819.9 L481 819.9 L483.1 819.9 L485.3 819.9 L487.4 819.9 L489.6 819.9 L491.7 819.9 L493.9 819.9 L496 819.9 L498.2 819.9 L500.3 819.9 L502.5 819.9 L504.6 820 L506.8 820 L508.9 820 L511.1 820" fill="none" stroke="#bfb4ab" stroke-width="1"/>
<path d="M341 825.1 L343.2 825.5 L345.3 825.7 L347.5 826.1 L349.6 826.6 L351.8 826.4 L353.9 826.6 L356.1 826.9 L358.2 827.2 L360.4 827.5 L362.5 827.5 L364.7 827.5 L366.8 827.5 L369 827.5 L371.1 827.5 L373.3 827.4 L375.5 827.1 L377.6 826.8 L379.8 826.5 L381.9 826.2 L384.1 825.9 L386.2 825.6 L388.4 825.3 L390.5 825.1 L392.7 825 L394.8 825 L397 825 L399.1 825 L401.3 824.9 L403.4 824.9 L405.6 824.9 L407.7 824.9 L409.9 824.9 L412.1 824.9 L414.2 825 L416.4 825 L418.5 825 L420.7 825 L422.8 825 L425 825 L427.1 825 L429.3 825.1 L431.4 825.1 L433.6 825.1 L435.7 825.1 L437.9 825.1 L440 825.1 L442.2 825.1 L444.4 825.1 L446.5 825.1 L448.7 825.1 L450.8 825.1 L453 825.2 L455.1 825.2 L457.3 825.2 L459.4 825.2 L461.6 825.2 L463.7 825.2 L465.9 825.2 L468 825.2 L470.2 825.2 L472.3 825.2 L474.5 825.2 L476.6 825.2 L478.8 825.2 L481 825.2 L483.1 825.2 L485.3 825.2 L487.4 825.2 L489.6 825.2 L491.7 825.2 L493.9 825.2 L496 825.2 L498.2 825.3 L500.3 825.3 L502.5 825.3 L504.6 825.3 L506.8 825.3 L508.9 825.3 L511.1 825.3" fill="none" stroke="#bfb4ab" stroke-width="1"/>
<path d="M341 831.6 L343.2 831.7 L345.3 831.6 L347.5 831.4 L349.6 831.4 L351.8 830.9 L353.9 830.9 L356.1 831 L358.2 831.2 L360.4 831.3 L362.5 831.3 L364.7 831.3 L366.8 831.3 L369 831.3 L371.1 831.3 L373.3 831.2 L375.5 831.1 L377.6 831 L379.8 830.8 L381.9 830.7 L384.1 830.5 L386.2 830.4 L388.4 830.3 L390.5 830.1 L392.7 830.1 L394.8 830.1 L397 830.1 L399.1 830.1 L401.3 830.1 L403.4 830.1 L405.6 830.1 L407.7 830.2 L409.9 830.2 L412.1 830.2 L414.2 830.2 L416.4 830.2 L418.5 830.2 L420.7 830.3 L422.8 830.3 L425 830.3 L427.1 830.3 L429.3 830.3 L431.4 830.3 L433.6 830.3 L435.7 830.3 L437.9 830.4 L440 830.4 L442.2 830.4 L444.4 830.4 L446.5 830.4 L448.7 830.4 L450.8 830.4 L453 830.4 L455.1 830.4 L457.3 830.4 L459.4 830.4 L461.6 830.4 L463.7 830.4 L465.9 830.4 L468 830.4 L470.2 830.4 L472.3 830.4 L474.5 830.4 L476.6 830.4 L478.8 830.4 L481 830.4 L483.1 830.4 L485.3 830.4 L487.4 830.4 L489.6 830.4 L491.7 830.4 L493.9 830.4 L496 830.4 L498.2 830.4 L500.3 830.4 L502.5 830.4 L504.6 830.4 L506.8 830.4 L508.9 830.4 L511.1 830.4" fill="none" stroke="#bfb4ab" stroke-width="1"/>
<path d="M326 801 C326.7 801.8 328.3 804.7 330 806 C331.7 807.3 334 808.2 336 809 C338 809.8 340 809.7 342 810.5 C344 811.3 346 812.8 348 814 C350 815.2 353 816.9 354 817.5" fill="none" stroke="#a0968c" stroke-width="0.8"/>
<path d="M329 800 C329.8 800.5 332.2 802.4 334 803 C335.8 803.6 339.5 802.9 340 803.5 C340.5 804.1 338.3 806.2 337 806.5 C335.7 806.8 332.8 805.7 332 805.5" fill="none" stroke="#a0968c" stroke-width="0.8"/>
<path d="M326 812 C326.5 812.8 327.7 815.8 329 817 C330.3 818.2 332.2 819 334 819 C335.8 819 338 817.2 340 817 C342 816.8 344 817.3 346 818 C348 818.7 351 820.5 352 821" fill="none" stroke="#a0968c" stroke-width="0.8"/>
<path d="M327 824 C327.7 824.7 329.3 827.1 331 828 C332.7 828.9 335 829.7 337 829.5 C339 829.3 341 827.8 343 827 C345 826.2 346.8 825.2 349 825 C351.2 824.8 354.8 825.4 356 825.5" fill="none" stroke="#a0968c" stroke-width="0.8"/>
<path d="M335 822 C335.7 822.2 337.7 823.5 339 823.5 C340.3 823.5 342.8 822.6 343 822 C343.2 821.4 340.5 820.3 340 820" fill="none" stroke="#a0968c" stroke-width="0.8"/>
<path d="M325.5 818 C325.7 818.7 326 820.8 326.5 822 C327 823.2 328.2 824.5 328.5 825" fill="none" stroke="#a0968c" stroke-width="0.8"/>
<path d="M330 832 C331 832.2 334 833.4 336 833.5 C338 833.6 340 833.1 342 832.5 C344 831.9 347 830.4 348 830" fill="none" stroke="#a0968c" stroke-width="0.8"/>
<path d="M345.8 801.8 L346.3 801.6 L347 801.2 L347.8 800.8 L348.7 800.5 L349.5 800.2 L350.3 800 L351.1 799.8 L351.9 799.7 L352.9 799.7 L353.9 799.6 L355.1 799.6 L356.5 799.6 L357.9 799.6 L359.4 799.7 L360.7 799.8 L361.9 800.1 L363.1 800.5 L364.3 800.9 L365.4 801.2 L366.4 801.4 L367.3 801.4 L368.2 801.2 L369 801 L369.7 800.7 L370.5 800.5 L371.2 800.3 L371.8 800.1 L372.5 800 L373.3 799.8 L374.4 799.8 L375.9 799.9 L377.7 800 L379.7 800.2 L381.7 800.4 L383.6 800.5 L385.3 800.6 L387 800.6 L388.7 800.6 L390.3 800.6 L392 800.5 L393.6 800.4 L395.1 800.2 L396.7 800 L398.4 799.8 L400.2 799.4 L402.3 798.9 L404.5 798.3 L406.9 797.6 L409.3 796.9 L411.6 796.3 L413.9 795.7 L416.2 795.1 L418.4 794.5 L420.7 794 L423 793.6 L425.1 793.3 L427 793.1 L429 793 L431.4 793 L434.4 793 L438.2 793.1 L442.7 793.3 L447.5 793.6 L452.4 793.8 L457.1 794 L461.5 794.2 L465.9 794.3 L470.2 794.4 L474.9 794.5 L480 794.6 L486.2 794.6 L493.3 794.6 L500.5 794.6 L506.7 794.6 L511.1 794.6 L511.1 807.7 L500 807.6 L483.9 807.6 L465.7 807.5 L448.4 807.4 L435 807.3 L426 807.2 L419.5 807.1 L414.7 807 L410.6 807 L406.4 807 L402.3 807 L398.8 807.1 L395.7 807.2 L393 807.4 L390.4 807.7 L388.1 808.2 L386.3 808.9 L384.6 809.6 L383 810.4 L381.3 811.1 L379.5 811.8 L377.7 812.7 L375.9 813.4 L374.1 814.1 L372.1 814.6 L370 814.9 L367.7 815.1 L365.4 815.1 L363 815 L360.7 814.6 L358.3 814 L355.8 813.1 L353.4 812.1 L351.1 811 L349.3 810 L347.9 809 L346.8 808 L346 807.1 L345.4 806.2 L344.9 805.4 L344.6 804.8 L344.5 804.3 L344.6 803.9 L344.7 803.6 L344.7 803.4Z" fill="#e96714"/>
<path d="M374 804.1 L376.3 803.9 L378.6 803.7 L381 803.6 L383.3 803.4 L385.6 803.2 L387.9 802.9 L390.3 802.7 L392.6 802.6 L394.9 802.3 L397.2 802.1 L399.6 801.8 L401.9 801.4 L404.2 800.9 L406.5 800.5 L408.9 800 L411.2 799.6 L413.5 799.2 L415.8 798.8 L418.2 798.5 L420.5 798.1 L422.8 797.7 L425.1 797.6 L427.4 797.5 L429.8 797.4 L432.1 797.4 L434.4 797.3 L436.7 797.4 L439.1 797.4 L441.4 797.5 L443.7 797.6 L446 797.7 L448.4 797.7 L450.7 797.8 L453 797.9 L455.3 798 L457.7 798 L460 798.1 L462.3 798.1 L464.6 798.2 L466.9 798.2 L469.3 798.3 L471.6 798.3 L473.9 798.4 L476.2 798.4 L478.6 798.5 L480.9 798.5 L483.2 798.5 L485.5 798.5 L487.9 798.5 L490.2 798.5 L492.5 798.5 L494.8 798.5 L497.2 798.5 L499.5 798.5 L501.8 798.5 L504.1 798.5 L506.5 798.5 L508.8 798.5 L511.1 798.5" fill="none" stroke="#cf5a17" stroke-width="0.7" stroke-opacity="0.7"/>
<path d="M374 807.6 L376.3 807.1 L378.6 806.7 L381 806.3 L383.3 805.9 L385.6 805.4 L387.9 805 L390.3 804.5 L392.6 804.4 L394.9 804.2 L397.2 804 L399.6 803.8 L401.9 803.5 L404.2 803.1 L406.5 802.8 L408.9 802.5 L411.2 802.3 L413.5 802 L415.8 801.8 L418.2 801.6 L420.5 801.3 L422.8 801.1 L425.1 801 L427.4 801 L429.8 800.9 L432.1 800.9 L434.4 800.9 L436.7 800.9 L439.1 801 L441.4 801 L443.7 801.1 L446 801.1 L448.4 801.2 L450.7 801.2 L453 801.3 L455.3 801.3 L457.7 801.4 L460 801.4 L462.3 801.5 L464.6 801.5 L466.9 801.5 L469.3 801.6 L471.6 801.6 L473.9 801.6 L476.2 801.7 L478.6 801.7 L480.9 801.7 L483.2 801.7 L485.5 801.7 L487.9 801.7 L490.2 801.7 L492.5 801.8 L494.8 801.8 L497.2 801.8 L499.5 801.8 L501.8 801.8 L504.1 801.8 L506.5 801.8 L508.8 801.8 L511.1 801.8" fill="none" stroke="#cf5a17" stroke-width="0.7" stroke-opacity="0.7"/>
<path d="M374 811.1 L376.3 810.4 L378.6 809.7 L381 809 L383.3 808.4 L385.6 807.7 L387.9 807 L390.3 806.3 L392.6 806.2 L394.9 806 L397.2 805.9 L399.6 805.7 L401.9 805.5 L404.2 805.3 L406.5 805.1 L408.9 805 L411.2 804.9 L413.5 804.8 L415.8 804.7 L418.2 804.6 L420.5 804.6 L422.8 804.5 L425.1 804.5 L427.4 804.4 L429.8 804.4 L432.1 804.4 L434.4 804.4 L436.7 804.5 L439.1 804.5 L441.4 804.5 L443.7 804.6 L446 804.6 L448.4 804.6 L450.7 804.6 L453 804.7 L455.3 804.7 L457.7 804.7 L460 804.8 L462.3 804.8 L464.6 804.8 L466.9 804.8 L469.3 804.8 L471.6 804.9 L473.9 804.9 L476.2 804.9 L478.6 804.9 L480.9 805 L483.2 805 L485.5 805 L487.9 805 L490.2 805 L492.5 805 L494.8 805 L497.2 805 L499.5 805 L501.8 805 L504.1 805.1 L506.5 805.1 L508.8 805.1 L511.1 805.1" fill="none" stroke="#cf5a17" stroke-width="0.7" stroke-opacity="0.7"/>
<path d="M349 805 C350 805.7 352.7 808 355 809 C357.3 810 360.3 810.8 363 811 C365.7 811.2 368.3 811.1 371 810.5 C373.7 809.9 377.7 808 379 807.5" fill="none" stroke="#cf5a17" stroke-width="0.7" stroke-opacity="0.7"/>
<path d="M352 802.5 C353.2 803 356.7 804.8 359 805.5 C361.3 806.2 363.5 806.6 366 806.5 C368.5 806.4 372.7 805.2 374 805" fill="none" stroke="#cf5a17" stroke-width="0.7" stroke-opacity="0.7"/>
<path d="M322.2 837.4 L323.5 837.5 L325.2 837.6 L327.2 837.8 L329.4 837.9 L331.4 838 L333.3 838.1 L335 838.2 L336.6 838.2 L338.1 838.3 L339.6 838.3 L341 838.2 L342.4 838.1 L343.6 837.9 L344.7 837.6 L345.7 837.3 L346.7 836.9 L347.9 836.6 L349.3 836.3 L350.2 836 L350.4 835.8 L350.8 835.6 L352.1 835.4 L355.1 835.2 L360.7 835.1 L369.4 835.1 L380.7 835.2 L393.8 835.3 L407.8 835.4 L421.8 835.5 L435 835.6 L448.5 835.6 L463.1 835.6 L477.7 835.6 L491.3 835.6 L502.8 835.6 L511.1 835.6 L511.1 857 L322.2 857Z" fill="#fdb875"/>
<path d="M322.2 842.8 L324.6 842.9 L327 843.1 L329.4 843.2 L331.8 843.3 L334.2 843.4 L336.6 843.4 L339 843.4 L341.4 843.4 L343.8 843.1 L346.2 842.6 L348.5 842.1 L350.9 841.4 L353.3 841.2 L355.7 841.1 L358.1 841.1 L360.5 841.1 L362.9 841.1 L365.3 841.1 L367.7 841.1 L370.1 841.1 L372.5 841.1 L374.8 841.1 L377.2 841.1 L379.6 841.1 L382 841.1 L384.4 841.1 L386.8 841.2 L389.2 841.2 L391.6 841.2 L394 841.2 L396.4 841.2 L398.7 841.2 L401.1 841.3 L403.5 841.3 L405.9 841.3 L408.3 841.3 L410.7 841.3 L413.1 841.3 L415.5 841.4 L417.9 841.4 L420.3 841.4 L422.7 841.4 L425 841.4 L427.4 841.4 L429.8 841.4 L432.2 841.4 L434.6 841.4 L437 841.5 L439.4 841.5 L441.8 841.5 L444.2 841.5 L446.6 841.5 L448.9 841.5 L451.3 841.5 L453.7 841.5 L456.1 841.5 L458.5 841.5 L460.9 841.5 L463.3 841.5 L465.7 841.5 L468.1 841.5 L470.5 841.5 L472.9 841.5 L475.2 841.5 L477.6 841.5 L480 841.5 L482.4 841.5 L484.8 841.5 L487.2 841.5 L489.6 841.5 L492 841.5 L494.4 841.5 L496.8 841.5 L499.1 841.5 L501.5 841.5 L503.9 841.5 L506.3 841.5 L508.7 841.5 L511.1 841.5" fill="none" stroke="#d99869" stroke-width="1"/>
<path d="M322.2 847.2 L324.6 847.3 L327 847.4 L329.4 847.5 L331.8 847.6 L334.2 847.6 L336.6 847.7 L339 847.7 L341.4 847.7 L343.8 847.5 L346.2 847.1 L348.5 846.7 L350.9 846.2 L353.3 846.1 L355.7 846 L358.1 846 L360.5 846 L362.9 846 L365.3 846 L367.7 846 L370.1 846 L372.5 846 L374.8 846 L377.2 846 L379.6 846 L382 846 L384.4 846 L386.8 846 L389.2 846 L391.6 846.1 L394 846.1 L396.4 846.1 L398.7 846.1 L401.1 846.1 L403.5 846.1 L405.9 846.1 L408.3 846.1 L410.7 846.2 L413.1 846.2 L415.5 846.2 L417.9 846.2 L420.3 846.2 L422.7 846.2 L425 846.2 L427.4 846.2 L429.8 846.2 L432.2 846.2 L434.6 846.2 L437 846.2 L439.4 846.3 L441.8 846.3 L444.2 846.3 L446.6 846.3 L448.9 846.3 L451.3 846.3 L453.7 846.3 L456.1 846.3 L458.5 846.3 L460.9 846.3 L463.3 846.3 L465.7 846.3 L468.1 846.3 L470.5 846.3 L472.9 846.3 L475.2 846.3 L477.6 846.3 L480 846.3 L482.4 846.3 L484.8 846.3 L487.2 846.3 L489.6 846.3 L492 846.3 L494.4 846.3 L496.8 846.3 L499.1 846.3 L501.5 846.3 L503.9 846.2 L506.3 846.2 L508.7 846.2 L511.1 846.2" fill="none" stroke="#d99869" stroke-width="1"/>
<path d="M322.2 851.5 L324.6 851.6 L327 851.7 L329.4 851.7 L331.8 851.8 L334.2 851.8 L336.6 851.8 L339 851.8 L341.4 851.8 L343.8 851.7 L346.2 851.5 L348.5 851.2 L350.9 850.9 L353.3 850.8 L355.7 850.8 L358.1 850.8 L360.5 850.8 L362.9 850.8 L365.3 850.8 L367.7 850.8 L370.1 850.8 L372.5 850.8 L374.8 850.8 L377.2 850.8 L379.6 850.8 L382 850.8 L384.4 850.8 L386.8 850.8 L389.2 850.8 L391.6 850.8 L394 850.8 L396.4 850.8 L398.7 850.8 L401.1 850.8 L403.5 850.8 L405.9 850.9 L408.3 850.9 L410.7 850.9 L413.1 850.9 L415.5 850.9 L417.9 850.9 L420.3 850.9 L422.7 850.9 L425 850.9 L427.4 850.9 L429.8 850.9 L432.2 850.9 L434.6 850.9 L437 850.9 L439.4 850.9 L441.8 850.9 L444.2 850.9 L446.6 850.9 L448.9 850.9 L451.3 850.9 L453.7 850.9 L456.1 850.9 L458.5 850.9 L460.9 850.9 L463.3 850.9 L465.7 850.9 L468.1 850.9 L470.5 850.9 L472.9 850.9 L475.2 850.9 L477.6 850.9 L480 850.9 L482.4 850.9 L484.8 850.9 L487.2 850.9 L489.6 850.9 L492 850.9 L494.4 850.9 L496.8 850.9 L499.1 850.9 L501.5 850.9 L503.9 850.9 L506.3 850.9 L508.7 850.9 L511.1 850.9" fill="none" stroke="#d99869" stroke-width="1"/>
<path d="M322.2 855.5 L324.6 855.6 L327 855.6 L329.4 855.6 L331.8 855.6 L334.2 855.7 L336.6 855.7 L339 855.7 L341.4 855.7 L343.8 855.6 L346.2 855.5 L348.5 855.4 L350.9 855.2 L353.3 855.2 L355.7 855.2 L358.1 855.2 L360.5 855.2 L362.9 855.2 L365.3 855.2 L367.7 855.2 L370.1 855.2 L372.5 855.2 L374.8 855.2 L377.2 855.2 L379.6 855.2 L382 855.2 L384.4 855.2 L386.8 855.2 L389.2 855.2 L391.6 855.2 L394 855.2 L396.4 855.2 L398.7 855.2 L401.1 855.2 L403.5 855.2 L405.9 855.2 L408.3 855.2 L410.7 855.2 L413.1 855.2 L415.5 855.2 L417.9 855.2 L420.3 855.2 L422.7 855.2 L425 855.2 L427.4 855.2 L429.8 855.3 L432.2 855.3 L434.6 855.3 L437 855.3 L439.4 855.3 L441.8 855.3 L444.2 855.3 L446.6 855.3 L448.9 855.3 L451.3 855.3 L453.7 855.3 L456.1 855.3 L458.5 855.3 L460.9 855.3 L463.3 855.3 L465.7 855.3 L468.1 855.3 L470.5 855.3 L472.9 855.3 L475.2 855.3 L477.6 855.3 L480 855.3 L482.4 855.3 L484.8 855.3 L487.2 855.3 L489.6 855.3 L492 855.3 L494.4 855.3 L496.8 855.3 L499.1 855.3 L501.5 855.3 L503.9 855.3 L506.3 855.3 L508.7 855.3 L511.1 855.3" fill="none" stroke="#d99869" stroke-width="1"/>
<path d="M322.2 837.4 L323.5 837.5 L325.2 837.6 L327.2 837.8 L329.4 837.9 L331.4 838 L333.3 838.1 L335 838.2 L336.6 838.2 L338.1 838.3 L339.6 838.3 L341 838.2 L342.4 838.1 L343.6 837.9 L344.7 837.6 L345.7 837.3 L346.7 836.9 L347.9 836.6 L349.3 836.3 L350.2 836 L350.4 835.8 L350.8 835.6 L352.1 835.4 L355.1 835.2 L360.7 835.1 L369.4 835.1 L380.7 835.2 L393.8 835.3 L407.8 835.4 L421.8 835.5 L435 835.6 L448.5 835.6 L463.1 835.6 L477.7 835.6 L491.3 835.6 L502.8 835.6 L511.1 835.6" fill="none" stroke="#4a4038" stroke-width="0.8"/>
<path d="M345.8 801.8 L346.3 801.6 L347 801.2 L347.8 800.8 L348.7 800.5 L349.5 800.2 L350.3 800 L351.1 799.8 L351.9 799.7 L352.9 799.7 L353.9 799.6 L355.1 799.6 L356.5 799.6 L357.9 799.6 L359.4 799.7 L360.7 799.8 L361.9 800.1 L363.1 800.5 L364.3 800.9 L365.4 801.2 L366.4 801.4 L367.3 801.4 L368.2 801.2 L369 801 L369.7 800.7 L370.5 800.5 L371.2 800.3 L371.8 800.1 L372.5 800 L373.3 799.8 L374.4 799.8 L375.9 799.9 L377.7 800 L379.7 800.2 L381.7 800.4 L383.6 800.5 L385.3 800.6 L387 800.6 L388.7 800.6 L390.3 800.6 L392 800.5 L393.6 800.4 L395.1 800.2 L396.7 800 L398.4 799.8 L400.2 799.4 L402.3 798.9 L404.5 798.3 L406.9 797.6 L409.3 796.9 L411.6 796.3 L413.9 795.7 L416.2 795.1 L418.4 794.5 L420.7 794 L423 793.6 L425.1 793.3 L427 793.1 L429 793 L431.4 793 L434.4 793 L438.2 793.1 L442.7 793.3 L447.5 793.6 L452.4 793.8 L457.1 794 L461.5 794.2 L465.9 794.3 L470.2 794.4 L474.9 794.5 L480 794.6 L486.2 794.6 L493.3 794.6 L500.5 794.6 L506.7 794.6 L511.1 794.6 L511.1 807.7 L500 807.6 L483.9 807.6 L465.7 807.5 L448.4 807.4 L435 807.3 L426 807.2 L419.5 807.1 L414.7 807 L410.6 807 L406.4 807 L402.3 807 L398.8 807.1 L395.7 807.2 L393 807.4 L390.4 807.7 L388.1 808.2 L386.3 808.9 L384.6 809.6 L383 810.4 L381.3 811.1 L379.5 811.8 L377.7 812.7 L375.9 813.4 L374.1 814.1 L372.1 814.6 L370 814.9 L367.7 815.1 L365.4 815.1 L363 815 L360.7 814.6 L358.3 814 L355.8 813.1 L353.4 812.1 L351.1 811 L349.3 810 L347.9 809 L346.8 808 L346 807.1 L345.4 806.2 L344.9 805.4 L344.6 804.8 L344.5 804.3 L344.6 803.9 L344.7 803.6 L344.7 803.4Z" fill="none" stroke="#6a3a1a" stroke-width="0.6"/>
</g>
<g clip-path="url(#cld)"><g clip-path="url(#sDL)">
<rect x="133.4" y="692.8" width="189.8" height="164.2" fill="#483783"/>
<path d="M282 812 C285.3 808 290.8 802.7 298 800 C305.2 797.3 320.5 787.3 325 796 C329.5 804.7 328.2 843.3 325 852 C321.8 860.7 312.2 850.3 306 848 C299.8 845.7 292.7 842 288 838 C283.3 834 279 828.3 278 824 C277 819.7 278.7 816 282 812Z" fill="#3d4e8a" filter="url(#b4)"/>
<path d="M291 812 C293.2 808 295.3 802.5 301 800 C306.7 797.5 321 789.3 325 797 C329 804.7 327.5 838.2 325 846 C322.5 853.8 314.7 845.7 310 844 C305.3 842.3 300.7 839.3 297 836 C293.3 832.7 289 828 288 824 C287 820 288.8 816 291 812Z" fill="#2f6b8e" filter="url(#b3)"/>
<path d="M297 808 C298.3 804 298.3 801.8 303 800 C307.7 798.2 321.3 790.2 325 797 C328.7 803.8 327.2 833.8 325 841 C322.8 848.2 315.8 841.3 312 840.5 C308.2 839.7 304.8 838.8 302 836 C299.2 833.2 295.8 828.7 295 824 C294.2 819.3 295.7 812 297 808Z" fill="#26808e" filter="url(#b2)"/>
<path d="M300.5 800.5 C301.6 799.5 303.9 799.1 308 798.6 C312.1 798.1 322.2 795.1 325 797.5 C327.8 799.9 326.7 810.6 325 813 C323.3 815.4 318 812.8 315 812 C312 811.2 309.2 809.8 307 808.5 C304.8 807.2 302.6 805.8 301.5 804.5 C300.4 803.2 299.4 801.5 300.5 800.5Z" fill="#4ec36b" filter="url(#b2)"/>
<path d="M302.5 800.2 C303.5 799.5 305.2 799.2 309 798.8 C312.8 798.4 322.3 796.1 325 797.8 C327.7 799.5 326.8 807.4 325 809 C323.2 810.6 317.1 808.2 314 807.5 C310.9 806.8 308.3 805.8 306.5 805 C304.7 804.2 303.7 803.6 303 802.8 C302.3 802 301.5 800.9 302.5 800.2Z" fill="#b0dd2f" filter="url(#b15)"/>
<path d="M303 833 C303.9 832.2 307.5 832.7 310 832 C312.5 831.3 315.5 830 318 829 C320.5 828 323.8 824.4 325 826 C326.2 827.6 327.2 836.3 325 838.4 C322.8 840.5 315.4 838.6 312 838.4 C308.6 838.2 306 837.9 304.5 837 C303 836.1 302.1 833.8 303 833Z" fill="#4ec36b" filter="url(#b2)"/>
<path d="M308 835.2 C308.3 834.4 312.2 834.4 315 833.5 C317.8 832.6 323.3 829.2 325 830 C326.7 830.8 327 836.9 325 838.3 C323 839.7 315.8 838.8 313 838.3 C310.2 837.8 307.7 836 308 835.2Z" fill="#9bd93c" filter="url(#b15)"/>
<path d="M312.5 800 C314.5 798.7 322.9 791.7 325 798 C327.1 804.3 326.9 831.4 325 838 C323.1 844.6 315.5 839.2 313.5 837.5 C311.5 835.8 312.7 831.8 312.8 828 C312.9 824.2 314 818.7 314 815 C314 811.3 313.2 808.5 313 806 C312.8 803.5 310.5 801.3 312.5 800Z" fill="#5ec962" filter="url(#b2)"/>
<path d="M315.5 799 C317 796.7 323.4 791.5 325 798 C326.6 804.5 326.5 831.4 325 838 C323.5 844.6 317.6 839.5 316 837.5 C314.4 835.5 315.2 830.2 315.2 826 C315.2 821.8 315.9 816.5 316 812 C316.1 807.5 314 801.3 315.5 799Z" fill="#b5de2b" filter="url(#b15)"/>
<path d="M318.6 799 C319.6 796.7 323.9 791.5 325 798 C326.1 804.5 326 831.2 325 837.8 C324 844.3 320.1 839.3 319 837.3 C317.9 835.3 318.2 830.2 318.2 826 C318.2 821.8 318.7 816.5 318.8 812 C318.9 807.5 317.6 801.3 318.6 799Z" fill="#e6e419" filter="url(#b1)"/>
<path d="M298.5 814 C299.8 811.8 302.1 811.2 304 811 C305.9 810.8 308.6 811.3 310 812.5 C311.4 813.7 312.2 815.8 312.5 818 C312.8 820.2 312.4 823.9 311.5 826 C310.6 828.1 308.9 829.8 307 830.5 C305.1 831.2 301.8 831.1 300 830 C298.2 828.9 296.2 826.7 296 824 C295.8 821.3 297.2 816.2 298.5 814Z" fill="#2e6a8e" filter="url(#b2)" opacity="0.92"/>
<path d="M271 798.7 C272.3 798.4 277.2 798.9 280 798.9 C282.8 798.9 286.8 798.4 288 798.8 C289.2 799.2 288.5 800.7 287 801.2 C285.5 801.7 281.5 801.7 279 801.6 C276.5 801.5 273.3 801.1 272 800.6 C270.7 800.1 269.7 799 271 798.7Z" fill="#4ac16d" filter="url(#b05)"/>
<path d="M298.7 801.8 L298.2 801.6 L297.5 801.2 L296.7 800.8 L295.8 800.5 L295 800.2 L294.2 800 L293.4 799.8 L292.6 799.7 L291.6 799.7 L290.6 799.6 L289.4 799.6 L288 799.6 L286.6 799.6 L285.1 799.7 L283.8 799.8 L282.6 800.1 L281.4 800.5 L280.2 800.9 L279.1 801.2 L278.1 801.4 L277.2 801.4 L276.3 801.2 L275.5 801 L274.8 800.7 L274 800.5 L273.3 800.3 L272.7 800.1 L272 800 L271.2 799.8 L270.1 799.8 L268.6 799.9 L266.8 800 L264.8 800.2 L262.8 800.4 L260.9 800.5 L259.2 800.6 L257.5 800.6 L255.8 800.6 L254.2 800.6 L252.5 800.5 L250.9 800.4 L249.4 800.2 L247.8 800 L246.1 799.8 L244.3 799.4 L242.2 798.9 L240 798.3 L237.6 797.6 L235.2 796.9 L232.9 796.3 L230.6 795.7 L228.3 795.1 L226.1 794.5 L223.8 794 L221.5 793.6 L219.4 793.3 L217.5 793.1 L215.5 793 L213.1 793 L210.1 793 L206.3 793.1 L201.8 793.3 L197 793.6 L192.1 793.8 L187.4 794 L183 794.2 L178.6 794.3 L174.3 794.4 L169.6 794.5 L164.5 794.6 L158.3 794.6 L151.2 794.6 L144 794.6 L137.8 794.6 L133.4 794.6 L133.4 807.7 L144.5 807.6 L160.6 807.6 L178.8 807.5 L196.1 807.4 L209.5 807.3 L218.5 807.2 L225 807.1 L229.8 807 L233.9 807 L238.1 807 L242.2 807 L245.7 807.1 L248.8 807.2 L251.5 807.4 L254.1 807.7 L256.4 808.2 L258.2 808.9 L259.9 809.6 L261.5 810.4 L263.2 811.1 L265 811.8 L266.8 812.7 L268.6 813.4 L270.4 814.1 L272.4 814.6 L274.5 814.9 L276.8 815.1 L279.1 815.1 L281.5 815 L283.8 814.6 L286.2 814 L288.7 813.1 L291.1 812.1 L293.4 811 L295.2 810 L296.6 809 L297.7 808 L298.5 807.1 L299.1 806.2 L299.6 805.4 L299.9 804.8 L300 804.3 L299.9 803.9 L299.8 803.6 L299.8 803.4Z" fill="#483783" filter="url(#b05)"/>
</g>
<path d="M322.2 837.4 L321 837.5 L319.3 837.6 L317.3 837.8 L315.1 837.9 L313.1 838 L311.2 838.1 L309.5 838.2 L307.9 838.2 L306.4 838.3 L304.9 838.3 L303.5 838.2 L302.1 838.1 L300.9 837.9 L299.8 837.6 L298.8 837.3 L297.8 836.9 L296.6 836.6 L295.2 836.3 L294.3 836 L294.1 835.8 L293.7 835.6 L292.4 835.4 L289.4 835.2 L283.8 835.1 L275.1 835.1 L263.8 835.2 L250.7 835.3 L236.7 835.4 L222.7 835.5 L209.5 835.6 L196 835.6 L181.4 835.6 L166.8 835.6 L153.2 835.6 L141.7 835.6 L133.4 835.6" fill="none" stroke="#2b2b30" stroke-width="0.8"/>
<path d="M133.4 807.7 L144.5 807.6 L160.6 807.6 L178.8 807.5 L196.1 807.4 L209.5 807.3 L218.5 807.2 L225 807.1 L229.8 807 L233.9 807 L238.1 807 L242.2 807 L245.7 807.1 L248.8 807.2 L251.5 807.4 L254.1 807.7 L256.4 808.2 L258.2 808.9 L259.9 809.6 L261.5 810.4 L263.2 811.1 L265 811.8 L266.8 812.7 L268.6 813.4 L270.4 814.1 L272.4 814.6 L274.5 814.9 L276.8 815.1 L279.1 815.1 L281.5 815 L283.8 814.6 L286.2 814 L288.7 813.1 L291.1 812.1 L293.4 811 L295.2 810 L296.6 809 L297.7 808 L298.5 807.1 L299.1 806.2 L299.6 805.4 L299.9 804.8 L300 804.3 L299.9 803.9 L299.8 803.6 L299.8 803.4 L298.7 801.8 L295 800.2 L290.6 799.6" fill="none" stroke="#2b2b30" stroke-width="0.8"/>
</g>
<path d="M511.1 793.5 L507.9 793.5 L502.8 793.5 L496.7 793.5 L490.3 793.5 L484.5 793.5 L480 793.5 L476.2 793.4 L472.2 793.4 L468.1 793.2 L464.1 793.1 L460.4 793 L457.1 792.9 L453.6 792.8 L449.5 792.6 L445.2 792.3 L441 792.1 L437.2 792 L434.4 791.9 L432.2 791.9 L430.1 791.9 L428.1 792 L426.3 792.1 L424.6 792.3 L423 792.5 L421.3 792.8 L419.4 793.2 L417.3 793.7 L415.2 794.3 L413.3 794.8 L411.6 795.2 L409.9 795.7 L407.9 796.2 L405.7 796.8 L403.6 797.4 L401.7 797.9 L400.2 798.3 L398.8 798.6 L397.4 798.8 L395.9 799 L394.5 799.2 L393.2 799.3 L392 799.4 L390.8 799.5 L389.4 799.5 L388 799.5 L386.5 799.5 L385 799.4 L383.6 799.4 L382 799.3 L380.1 799.2 L378 799.1 L375.8 798.9 L373.8 798.8 L372.1 798.7 L370.4 798.7 L368.5 798.6 L366.4 798.6 L364.3 798.6 L362.4 798.6 L360.7 798.6 L359 798.6 L357.1 798.5 L355 798.4 L352.9 798.3 L351 798.3 L349.3 798.2 L347.6 798.1 L345.7 798 L343.6 797.9 L341.6 797.8 L339.6 797.7 L337.9 797.6 L336.1 797.5 L333.9 797.4 L331.5 797.3 L329.3 797.2 L327.3 797.2 L326 797.1 L325.2 797.1 L324.6 797.1 L324.1 797.1 L323.8 797.1 L323.6 797 L323.4 796.8 L323.2 796.4 L323.1 795.8 L323.1 795.1 L323 794.4 L323 793.8 L322.9 793.4 L322.8 793.2 L322.7 793.1 L322.5 793.1 L322.4 793.2 L322.3 793.2 L322.2 793.2" fill="none" stroke="#4a4a4a" stroke-width="0.8"/>
<path d="M133.4 793.5 L136.6 793.5 L141.7 793.5 L147.8 793.5 L154.2 793.5 L160 793.5 L164.5 793.5 L168.3 793.4 L172.3 793.4 L176.4 793.2 L180.4 793.1 L184.1 793 L187.4 792.9 L190.9 792.8 L195 792.6 L199.3 792.3 L203.5 792.1 L207.3 792 L210.1 791.9 L212.3 791.9 L214.4 791.9 L216.4 792 L218.2 792.1 L219.9 792.3 L221.5 792.5 L223.2 792.8 L225.1 793.2 L227.2 793.7 L229.3 794.3 L231.2 794.8 L232.9 795.2 L234.6 795.7 L236.6 796.2 L238.8 796.8 L240.9 797.4 L242.8 797.9 L244.3 798.3 L245.7 798.6 L247.1 798.8 L248.6 799 L250 799.2 L251.3 799.3 L252.5 799.4 L253.7 799.5 L255.1 799.5 L256.5 799.5 L258 799.5 L259.5 799.4 L260.9 799.4 L262.5 799.3 L264.4 799.2 L266.5 799.1 L268.7 798.9 L270.7 798.8 L272.4 798.7 L274.1 798.7 L276 798.6 L278.1 798.6 L280.2 798.6 L282.1 798.6 L283.8 798.6 L285.5 798.6 L287.4 798.5 L289.5 798.4 L291.6 798.3 L293.5 798.3 L295.2 798.2 L296.9 798.1 L298.8 798 L300.9 797.9 L302.9 797.8 L304.9 797.7 L306.6 797.6 L308.4 797.5 L310.6 797.4 L313 797.3 L315.2 797.2 L317.2 797.2 L318.5 797.1 L319.3 797.1 L319.9 797.1 L320.4 797.1 L320.7 797.1 L320.9 797 L321.1 796.8 L321.3 796.4 L321.4 795.8 L321.4 795.1 L321.5 794.4 L321.5 793.8 L321.6 793.4 L321.7 793.2 L321.8 793.1 L322 793.1 L322.1 793.2 L322.2 793.2 L322.2 793.2" fill="none" stroke="#2b2b30" stroke-width="0.9"/>
<path d="M321.4 797 L321.6 793 L322.9 793 L323.1 797Z" fill="#333"/>
<rect x="284.9" y="761.6" width="1.4" height="1.4" fill="#55556a"/>
<rect x="358.2" y="761.6" width="1.4" height="1.4" fill="#eab08a"/>
<rect x="267.6" y="773.4" width="1.4" height="1.4" fill="#55556a"/>
<rect x="375.5" y="773.4" width="1.4" height="1.4" fill="#eab08a"/>
</g>
<rect x="62.8" y="692.8" width="19.4" height="164.2" fill="url(#vir)" stroke="#3a3a3a" stroke-width="0.8"/>
<line x1="59.4" x2="62.8" y1="857" y2="857" stroke="#3a3a3a" stroke-width="0.8"/>
<text x="56.7" y="861.2" text-anchor="end" class="tk">0</text>
<line x1="59.4" x2="62.8" y1="829.6" y2="829.6" stroke="#3a3a3a" stroke-width="0.8"/>
<text x="56.7" y="833.9" text-anchor="end" class="tk">200</text>
<line x1="59.4" x2="62.8" y1="802.3" y2="802.3" stroke="#3a3a3a" stroke-width="0.8"/>
<text x="56.7" y="806.5" text-anchor="end" class="tk">400</text>
<line x1="59.4" x2="62.8" y1="774.9" y2="774.9" stroke="#3a3a3a" stroke-width="0.8"/>
<text x="56.7" y="779.1" text-anchor="end" class="tk">600</text>
<line x1="59.4" x2="62.8" y1="747.5" y2="747.5" stroke="#3a3a3a" stroke-width="0.8"/>
<text x="56.7" y="751.8" text-anchor="end" class="tk">800</text>
<line x1="59.4" x2="62.8" y1="720.2" y2="720.2" stroke="#3a3a3a" stroke-width="0.8"/>
<text x="56.7" y="724.4" text-anchor="end" class="tk">1000</text>
<line x1="59.4" x2="62.8" y1="692.8" y2="692.8" stroke="#3a3a3a" stroke-width="0.8"/>
<text x="56.7" y="697" text-anchor="end" class="tk">1200</text>
<text transform="translate(24 774.9) rotate(-90)" text-anchor="middle" class="tk al">Temperature [C]</text>
<rect x="133.4" y="692.8" width="377.7" height="164.2" fill="none" stroke="#3a3a3a" stroke-width="0.9"/>
<line x1="129.9" x2="133.4" y1="844.4" y2="844.4" stroke="#3a3a3a" stroke-width="0.8"/>
<text x="126.2" y="848.6" text-anchor="end" class="tk">−40</text>
<line x1="129.9" x2="133.4" y1="819.1" y2="819.1" stroke="#3a3a3a" stroke-width="0.8"/>
<text x="126.2" y="823.4" text-anchor="end" class="tk">−20</text>
<line x1="129.9" x2="133.4" y1="793.8" y2="793.8" stroke="#3a3a3a" stroke-width="0.8"/>
<text x="126.2" y="798.1" text-anchor="end" class="tk">0</text>
<line x1="129.9" x2="133.4" y1="768.6" y2="768.6" stroke="#3a3a3a" stroke-width="0.8"/>
<text x="126.2" y="772.8" text-anchor="end" class="tk">20</text>
<line x1="129.9" x2="133.4" y1="743.3" y2="743.3" stroke="#3a3a3a" stroke-width="0.8"/>
<text x="126.2" y="747.6" text-anchor="end" class="tk">40</text>
<line x1="129.9" x2="133.4" y1="718.1" y2="718.1" stroke="#3a3a3a" stroke-width="0.8"/>
<text x="126.2" y="722.3" text-anchor="end" class="tk">60</text>
<line x1="129.9" x2="133.4" y1="692.8" y2="692.8" stroke="#3a3a3a" stroke-width="0.8"/>
<text x="126.2" y="697" text-anchor="end" class="tk">80</text>
<line x1="133.4" x2="133.4" y1="857" y2="860.5" stroke="#3a3a3a" stroke-width="0.8"/>
<text x="132.4" y="872.3" text-anchor="middle" class="tk">−150</text>
<line x1="196.4" x2="196.4" y1="857" y2="860.5" stroke="#3a3a3a" stroke-width="0.8"/>
<text x="195.4" y="872.3" text-anchor="middle" class="tk">−100</text>
<line x1="259.3" x2="259.3" y1="857" y2="860.5" stroke="#3a3a3a" stroke-width="0.8"/>
<text x="258.3" y="872.3" text-anchor="middle" class="tk">−50</text>
<line x1="322.2" x2="322.2" y1="857" y2="860.5" stroke="#3a3a3a" stroke-width="0.8"/>
<text x="322.2" y="872.3" text-anchor="middle" class="tk">0</text>
<line x1="385.2" x2="385.2" y1="857" y2="860.5" stroke="#3a3a3a" stroke-width="0.8"/>
<text x="385.2" y="872.3" text-anchor="middle" class="tk">50</text>
<line x1="448.2" x2="448.2" y1="857" y2="860.5" stroke="#3a3a3a" stroke-width="0.8"/>
<text x="448.2" y="872.3" text-anchor="middle" class="tk">100</text>
<line x1="511.1" x2="511.1" y1="857" y2="860.5" stroke="#3a3a3a" stroke-width="0.8"/>
<text x="511.1" y="872.3" text-anchor="middle" class="tk">150</text>
<text x="322.2" y="886.8" text-anchor="middle" class="tk al">r [km]</text>
<text transform="translate(97.7 774.9) rotate(-90)" text-anchor="middle" class="tk al">z [km]</text>
<text x="342.1" y="686.6" text-anchor="end" class="tt">700 s</text>
<text x="1.6" y="887.7" class="lb">d.</text>
</g>
</svg>
</body></html>
